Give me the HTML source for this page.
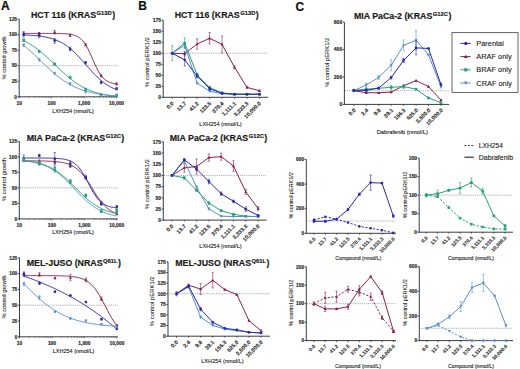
<!DOCTYPE html><html><head><meta charset="utf-8"><style>html,body{margin:0;padding:0;width:520px;height:369px;overflow:hidden;background:#fff}text{font-family:"Liberation Sans", sans-serif}</style></head><body><svg width="520" height="369" viewBox="0 0 520 369" style="position:absolute;left:0;top:0" font-family='"Liberation Sans", sans-serif'>
<rect width="520" height="369" fill="#ffffff"/>
<text x="1.00" y="9.60" font-size="12" text-anchor="start" font-weight="bold" fill="#111" stroke="#111" stroke-width="0.18" >A</text>
<text x="138.30" y="9.80" font-size="12" text-anchor="start" font-weight="bold" fill="#111" stroke="#111" stroke-width="0.18" >B</text>
<text x="295.50" y="10.70" font-size="12" text-anchor="start" font-weight="bold" fill="#111" stroke="#111" stroke-width="0.18" >C</text>
<text x="31.00" y="17.90" font-size="8.8" font-weight="bold" fill="#1a1a1a" stroke="#1a1a1a" stroke-width="0.18">HCT 116 (KRAS<tspan font-size="5.81" dx="0.5" dy="-3.17">G13D</tspan><tspan dx="0.5" dy="3.17">)</tspan></text>
<text x="0" y="0" font-size="5.8" text-anchor="middle" fill="#1a1a1a" stroke="#1a1a1a" stroke-width="0.08" transform="translate(3.90,58.00) rotate(-90)" dominant-baseline="central">% control growth</text>
<line x1="19.2" y1="97.2" x2="19.2" y2="19.1" stroke="#333333" stroke-width="0.95"/>
<line x1="17.599999999999998" y1="96.80" x2="19.2" y2="96.80" stroke="#333333" stroke-width="0.95"/>
<text x="17.00" y="98.53" font-size="4.8" text-anchor="end" font-weight="bold" fill="#2a2a2a" stroke="#2a2a2a" stroke-width="0.18">0</text>
<line x1="17.599999999999998" y1="81.26" x2="19.2" y2="81.26" stroke="#333333" stroke-width="0.95"/>
<text x="17.00" y="82.99" font-size="4.8" text-anchor="end" font-weight="bold" fill="#2a2a2a" stroke="#2a2a2a" stroke-width="0.18">25</text>
<line x1="17.599999999999998" y1="65.72" x2="19.2" y2="65.72" stroke="#333333" stroke-width="0.95"/>
<text x="17.00" y="67.45" font-size="4.8" text-anchor="end" font-weight="bold" fill="#2a2a2a" stroke="#2a2a2a" stroke-width="0.18">50</text>
<line x1="17.599999999999998" y1="50.18" x2="19.2" y2="50.18" stroke="#333333" stroke-width="0.95"/>
<text x="17.00" y="51.91" font-size="4.8" text-anchor="end" font-weight="bold" fill="#2a2a2a" stroke="#2a2a2a" stroke-width="0.18">75</text>
<line x1="17.599999999999998" y1="34.64" x2="19.2" y2="34.64" stroke="#333333" stroke-width="0.95"/>
<text x="17.00" y="36.37" font-size="4.8" text-anchor="end" font-weight="bold" fill="#2a2a2a" stroke="#2a2a2a" stroke-width="0.18">100</text>
<line x1="17.599999999999998" y1="19.10" x2="19.2" y2="19.10" stroke="#333333" stroke-width="0.95"/>
<text x="17.00" y="20.83" font-size="4.8" text-anchor="end" font-weight="bold" fill="#2a2a2a" stroke="#2a2a2a" stroke-width="0.18">125</text>
<line x1="18.8" y1="96.8" x2="117.6" y2="96.8" stroke="#333333" stroke-width="0.95"/>
<line x1="19.20" y1="96.8" x2="19.20" y2="98.39999999999999" stroke="#333333" stroke-width="0.6"/>
<line x1="28.97" y1="96.8" x2="28.97" y2="97.7" stroke="#333333" stroke-width="0.6"/>
<line x1="34.69" y1="96.8" x2="34.69" y2="97.7" stroke="#333333" stroke-width="0.6"/>
<line x1="38.75" y1="96.8" x2="38.75" y2="97.7" stroke="#333333" stroke-width="0.6"/>
<line x1="41.89" y1="96.8" x2="41.89" y2="97.7" stroke="#333333" stroke-width="0.6"/>
<line x1="44.46" y1="96.8" x2="44.46" y2="97.7" stroke="#333333" stroke-width="0.6"/>
<line x1="46.64" y1="96.8" x2="46.64" y2="97.7" stroke="#333333" stroke-width="0.6"/>
<line x1="48.52" y1="96.8" x2="48.52" y2="97.7" stroke="#333333" stroke-width="0.6"/>
<line x1="50.18" y1="96.8" x2="50.18" y2="97.7" stroke="#333333" stroke-width="0.6"/>
<line x1="51.67" y1="96.8" x2="51.67" y2="98.39999999999999" stroke="#333333" stroke-width="0.6"/>
<line x1="61.44" y1="96.8" x2="61.44" y2="97.7" stroke="#333333" stroke-width="0.6"/>
<line x1="67.16" y1="96.8" x2="67.16" y2="97.7" stroke="#333333" stroke-width="0.6"/>
<line x1="71.21" y1="96.8" x2="71.21" y2="97.7" stroke="#333333" stroke-width="0.6"/>
<line x1="74.36" y1="96.8" x2="74.36" y2="97.7" stroke="#333333" stroke-width="0.6"/>
<line x1="76.93" y1="96.8" x2="76.93" y2="97.7" stroke="#333333" stroke-width="0.6"/>
<line x1="79.10" y1="96.8" x2="79.10" y2="97.7" stroke="#333333" stroke-width="0.6"/>
<line x1="80.99" y1="96.8" x2="80.99" y2="97.7" stroke="#333333" stroke-width="0.6"/>
<line x1="82.65" y1="96.8" x2="82.65" y2="97.7" stroke="#333333" stroke-width="0.6"/>
<line x1="84.13" y1="96.8" x2="84.13" y2="98.39999999999999" stroke="#333333" stroke-width="0.6"/>
<line x1="93.91" y1="96.8" x2="93.91" y2="97.7" stroke="#333333" stroke-width="0.6"/>
<line x1="99.62" y1="96.8" x2="99.62" y2="97.7" stroke="#333333" stroke-width="0.6"/>
<line x1="103.68" y1="96.8" x2="103.68" y2="97.7" stroke="#333333" stroke-width="0.6"/>
<line x1="106.83" y1="96.8" x2="106.83" y2="97.7" stroke="#333333" stroke-width="0.6"/>
<line x1="109.40" y1="96.8" x2="109.40" y2="97.7" stroke="#333333" stroke-width="0.6"/>
<line x1="111.57" y1="96.8" x2="111.57" y2="97.7" stroke="#333333" stroke-width="0.6"/>
<line x1="113.45" y1="96.8" x2="113.45" y2="97.7" stroke="#333333" stroke-width="0.6"/>
<line x1="115.11" y1="96.8" x2="115.11" y2="97.7" stroke="#333333" stroke-width="0.6"/>
<line x1="116.60" y1="96.8" x2="116.60" y2="98.39999999999999" stroke="#333333" stroke-width="0.6"/>
<text x="19.20" y="104.90" font-size="4.9" text-anchor="middle" font-weight="bold" fill="#2a2a2a" stroke="#2a2a2a" stroke-width="0.18" >10</text>
<text x="51.67" y="104.90" font-size="4.9" text-anchor="middle" font-weight="bold" fill="#2a2a2a" stroke="#2a2a2a" stroke-width="0.18" >100</text>
<text x="84.13" y="104.90" font-size="4.9" text-anchor="middle" font-weight="bold" fill="#2a2a2a" stroke="#2a2a2a" stroke-width="0.18" >1,000</text>
<text x="116.60" y="104.90" font-size="4.9" text-anchor="middle" font-weight="bold" fill="#2a2a2a" stroke="#2a2a2a" stroke-width="0.18" >10,000</text>
<text x="73.00" y="112.50" font-size="5.5" text-anchor="middle" font-weight="normal" fill="#1a1a1a" stroke="#1a1a1a" stroke-width="0.12" >LXH254 (nmol/L)</text>
<line x1="19.7" y1="65.72" x2="117.6" y2="65.72" stroke="#8a8a8a" stroke-width="0.75" stroke-dasharray="1,0.9"/>
<polyline points="23.64,33.41 24.42,33.41 25.20,33.41 25.98,33.41 26.76,33.41 27.54,33.41 28.33,33.41 29.11,33.41 29.89,33.41 30.67,33.41 31.45,33.41 32.23,33.41 33.01,33.41 33.79,33.41 34.58,33.41 35.36,33.41 36.14,33.41 36.92,33.41 37.70,33.41 38.48,33.41 39.26,33.41 40.04,33.41 40.82,33.42 41.61,33.42 42.39,33.42 43.17,33.42 43.95,33.42 44.73,33.42 45.51,33.42 46.29,33.42 47.07,33.42 47.86,33.43 48.64,33.43 49.42,33.43 50.20,33.43 50.98,33.44 51.76,33.44 52.54,33.45 53.32,33.45 54.11,33.46 54.89,33.47 55.67,33.48 56.45,33.49 57.23,33.50 58.01,33.51 58.79,33.53 59.57,33.54 60.35,33.56 61.14,33.59 61.92,33.61 62.70,33.64 63.48,33.68 64.26,33.72 65.04,33.76 65.82,33.82 66.60,33.88 67.39,33.95 68.17,34.03 68.95,34.12 69.73,34.23 70.51,34.35 71.29,34.49 72.07,34.64 72.85,34.83 73.63,35.03 74.42,35.27 75.20,35.54 75.98,35.85 76.76,36.20 77.54,36.59 78.32,37.04 79.10,37.54 79.88,38.11 80.67,38.75 81.45,39.46 82.23,40.26 83.01,41.14 83.79,42.11 84.57,43.18 85.35,44.34 86.13,45.60 86.91,46.96 87.70,48.41 88.48,49.94 89.26,51.56 90.04,53.24 90.82,54.98 91.60,56.76 92.38,58.55 93.16,60.36 93.95,62.15 94.73,63.91 95.51,65.62 96.29,67.27 97.07,68.85 97.85,70.34 98.63,71.75 99.41,73.05 100.20,74.27 100.98,75.38 101.76,76.40 102.54,77.32 103.32,78.16 104.10,78.91 104.88,79.59 105.66,80.19 106.44,80.72 107.23,81.20 108.01,81.62 108.79,81.99 109.57,82.32 110.35,82.61 111.13,82.86 111.91,83.08 112.69,83.28 113.48,83.45 114.26,83.59 115.04,83.72 115.82,83.84 116.60,83.94" fill="none" stroke="#88224e" stroke-width="1.0" stroke-linejoin="round"/>
<line x1="23.64" y1="35.51" x2="23.64" y2="31.78" stroke="#88224e" stroke-width="0.6"/>
<line x1="22.54" y1="35.51" x2="24.74" y2="35.51" stroke="#88224e" stroke-width="0.6"/>
<line x1="22.54" y1="31.78" x2="24.74" y2="31.78" stroke="#88224e" stroke-width="0.6"/>
<path d="M23.64,32.09L25.20,34.82L22.08,34.82Z" fill="#88224e"/>
<line x1="39.16" y1="34.89" x2="39.16" y2="32.40" stroke="#88224e" stroke-width="0.6"/>
<line x1="38.06" y1="34.89" x2="40.26" y2="34.89" stroke="#88224e" stroke-width="0.6"/>
<line x1="38.06" y1="32.40" x2="40.26" y2="32.40" stroke="#88224e" stroke-width="0.6"/>
<path d="M39.16,32.09L40.72,34.82L37.60,34.82Z" fill="#88224e"/>
<line x1="54.64" y1="34.02" x2="54.64" y2="30.29" stroke="#88224e" stroke-width="0.6"/>
<line x1="53.54" y1="34.02" x2="55.74" y2="34.02" stroke="#88224e" stroke-width="0.6"/>
<line x1="53.54" y1="30.29" x2="55.74" y2="30.29" stroke="#88224e" stroke-width="0.6"/>
<path d="M54.64,30.59L56.20,33.32L53.08,33.32Z" fill="#88224e"/>
<line x1="70.13" y1="36.50" x2="70.13" y2="34.02" stroke="#88224e" stroke-width="0.6"/>
<line x1="69.03" y1="36.50" x2="71.23" y2="36.50" stroke="#88224e" stroke-width="0.6"/>
<line x1="69.03" y1="34.02" x2="71.23" y2="34.02" stroke="#88224e" stroke-width="0.6"/>
<path d="M70.13,33.70L71.69,36.43L68.57,36.43Z" fill="#88224e"/>
<line x1="85.62" y1="45.83" x2="85.62" y2="43.34" stroke="#88224e" stroke-width="0.6"/>
<line x1="84.52" y1="45.83" x2="86.72" y2="45.83" stroke="#88224e" stroke-width="0.6"/>
<line x1="84.52" y1="43.34" x2="86.72" y2="43.34" stroke="#88224e" stroke-width="0.6"/>
<path d="M85.62,43.03L87.18,45.76L84.06,45.76Z" fill="#88224e"/>
<line x1="101.11" y1="76.91" x2="101.11" y2="74.42" stroke="#88224e" stroke-width="0.6"/>
<line x1="100.01" y1="76.91" x2="102.21" y2="76.91" stroke="#88224e" stroke-width="0.6"/>
<line x1="100.01" y1="74.42" x2="102.21" y2="74.42" stroke="#88224e" stroke-width="0.6"/>
<path d="M101.11,74.11L102.67,76.84L99.55,76.84Z" fill="#88224e"/>
<line x1="116.60" y1="85.11" x2="116.60" y2="82.63" stroke="#88224e" stroke-width="0.6"/>
<line x1="115.50" y1="85.11" x2="117.70" y2="85.11" stroke="#88224e" stroke-width="0.6"/>
<line x1="115.50" y1="82.63" x2="117.70" y2="82.63" stroke="#88224e" stroke-width="0.6"/>
<path d="M116.60,82.31L118.16,85.04L115.04,85.04Z" fill="#88224e"/>
<polyline points="23.64,34.92 24.42,34.95 25.20,34.98 25.98,35.02 26.76,35.06 27.54,35.10 28.33,35.14 29.11,35.18 29.89,35.23 30.67,35.28 31.45,35.34 32.23,35.39 33.01,35.45 33.79,35.52 34.58,35.59 35.36,35.66 36.14,35.73 36.92,35.81 37.70,35.90 38.48,35.99 39.26,36.08 40.04,36.18 40.82,36.29 41.61,36.40 42.39,36.52 43.17,36.65 43.95,36.78 44.73,36.92 45.51,37.07 46.29,37.23 47.07,37.39 47.86,37.57 48.64,37.75 49.42,37.95 50.20,38.15 50.98,38.37 51.76,38.59 52.54,38.83 53.32,39.08 54.11,39.35 54.89,39.63 55.67,39.92 56.45,40.22 57.23,40.54 58.01,40.88 58.79,41.24 59.57,41.60 60.35,41.99 61.14,42.40 61.92,42.82 62.70,43.26 63.48,43.72 64.26,44.20 65.04,44.70 65.82,45.22 66.60,45.76 67.39,46.32 68.17,46.90 68.95,47.50 69.73,48.12 70.51,48.76 71.29,49.43 72.07,50.11 72.85,50.81 73.63,51.54 74.42,52.28 75.20,53.04 75.98,53.81 76.76,54.61 77.54,55.41 78.32,56.24 79.10,57.08 79.88,57.93 80.67,58.79 81.45,59.66 82.23,60.54 83.01,61.43 83.79,62.32 84.57,63.22 85.35,64.12 86.13,65.02 86.91,65.92 87.70,66.82 88.48,67.71 89.26,68.60 90.04,69.48 90.82,70.35 91.60,71.22 92.38,72.07 93.16,72.91 93.95,73.74 94.73,74.55 95.51,75.34 96.29,76.12 97.07,76.88 97.85,77.63 98.63,78.35 99.41,79.06 100.20,79.74 100.98,80.41 101.76,81.06 102.54,81.68 103.32,82.29 104.10,82.87 104.88,83.43 105.66,83.98 106.44,84.50 107.23,85.00 108.01,85.48 108.79,85.95 109.57,86.39 110.35,86.82 111.13,87.22 111.91,87.61 112.69,87.99 113.48,88.34 114.26,88.68 115.04,89.01 115.82,89.31 116.60,89.61" fill="none" stroke="#2828aa" stroke-width="1.0" stroke-linejoin="round"/>
<line x1="23.64" y1="37.13" x2="23.64" y2="32.15" stroke="#2828aa" stroke-width="0.6"/>
<line x1="22.54" y1="37.13" x2="24.74" y2="37.13" stroke="#2828aa" stroke-width="0.6"/>
<line x1="22.54" y1="32.15" x2="24.74" y2="32.15" stroke="#2828aa" stroke-width="0.6"/>
<circle cx="23.64" cy="34.64" r="1.3" fill="#2828aa"/>
<line x1="39.16" y1="37.75" x2="39.16" y2="32.78" stroke="#2828aa" stroke-width="0.6"/>
<line x1="38.06" y1="37.75" x2="40.26" y2="37.75" stroke="#2828aa" stroke-width="0.6"/>
<line x1="38.06" y1="32.78" x2="40.26" y2="32.78" stroke="#2828aa" stroke-width="0.6"/>
<circle cx="39.16" cy="35.26" r="1.3" fill="#2828aa"/>
<line x1="54.64" y1="43.34" x2="54.64" y2="38.37" stroke="#2828aa" stroke-width="0.6"/>
<line x1="53.54" y1="43.34" x2="55.74" y2="43.34" stroke="#2828aa" stroke-width="0.6"/>
<line x1="53.54" y1="38.37" x2="55.74" y2="38.37" stroke="#2828aa" stroke-width="0.6"/>
<circle cx="54.64" cy="40.86" r="1.3" fill="#2828aa"/>
<line x1="70.13" y1="50.80" x2="70.13" y2="47.07" stroke="#2828aa" stroke-width="0.6"/>
<line x1="69.03" y1="50.80" x2="71.23" y2="50.80" stroke="#2828aa" stroke-width="0.6"/>
<line x1="69.03" y1="47.07" x2="71.23" y2="47.07" stroke="#2828aa" stroke-width="0.6"/>
<circle cx="70.13" cy="48.94" r="1.3" fill="#2828aa"/>
<line x1="85.62" y1="63.86" x2="85.62" y2="61.37" stroke="#2828aa" stroke-width="0.6"/>
<line x1="84.52" y1="63.86" x2="86.72" y2="63.86" stroke="#2828aa" stroke-width="0.6"/>
<line x1="84.52" y1="61.37" x2="86.72" y2="61.37" stroke="#2828aa" stroke-width="0.6"/>
<circle cx="85.62" cy="62.61" r="1.3" fill="#2828aa"/>
<line x1="101.11" y1="83.75" x2="101.11" y2="81.26" stroke="#2828aa" stroke-width="0.6"/>
<line x1="100.01" y1="83.75" x2="102.21" y2="83.75" stroke="#2828aa" stroke-width="0.6"/>
<line x1="100.01" y1="81.26" x2="102.21" y2="81.26" stroke="#2828aa" stroke-width="0.6"/>
<circle cx="101.11" cy="82.50" r="1.3" fill="#2828aa"/>
<line x1="116.60" y1="89.96" x2="116.60" y2="87.48" stroke="#2828aa" stroke-width="0.6"/>
<line x1="115.50" y1="89.96" x2="117.70" y2="89.96" stroke="#2828aa" stroke-width="0.6"/>
<line x1="115.50" y1="87.48" x2="117.70" y2="87.48" stroke="#2828aa" stroke-width="0.6"/>
<circle cx="116.60" cy="88.72" r="1.3" fill="#2828aa"/>
<polyline points="23.64,40.68 24.42,41.06 25.20,41.45 25.98,41.85 26.76,42.26 27.54,42.69 28.33,43.12 29.11,43.57 29.89,44.04 30.67,44.51 31.45,45.00 32.23,45.50 33.01,46.02 33.79,46.54 34.58,47.08 35.36,47.64 36.14,48.20 36.92,48.78 37.70,49.37 38.48,49.97 39.26,50.59 40.04,51.21 40.82,51.85 41.61,52.49 42.39,53.15 43.17,53.82 43.95,54.50 44.73,55.18 45.51,55.88 46.29,56.58 47.07,57.29 47.86,58.01 48.64,58.74 49.42,59.47 50.20,60.20 50.98,60.94 51.76,61.68 52.54,62.43 53.32,63.18 54.11,63.93 54.89,64.68 55.67,65.43 56.45,66.18 57.23,66.93 58.01,67.68 58.79,68.42 59.57,69.16 60.35,69.90 61.14,70.63 61.92,71.36 62.70,72.07 63.48,72.79 64.26,73.49 65.04,74.19 65.82,74.88 66.60,75.56 67.39,76.23 68.17,76.88 68.95,77.53 69.73,78.17 70.51,78.80 71.29,79.41 72.07,80.02 72.85,80.61 73.63,81.19 74.42,81.76 75.20,82.31 75.98,82.85 76.76,83.38 77.54,83.90 78.32,84.40 79.10,84.89 79.88,85.37 80.67,85.84 81.45,86.29 82.23,86.73 83.01,87.15 83.79,87.57 84.57,87.97 85.35,88.36 86.13,88.74 86.91,89.11 87.70,89.46 88.48,89.81 89.26,90.14 90.04,90.46 90.82,90.77 91.60,91.07 92.38,91.36 93.16,91.64 93.95,91.91 94.73,92.18 95.51,92.43 96.29,92.67 97.07,92.90 97.85,93.13 98.63,93.35 99.41,93.56 100.20,93.76 100.98,93.95 101.76,94.14 102.54,94.32 103.32,94.49 104.10,94.66 104.88,94.82 105.66,94.97 106.44,95.12 107.23,95.26 108.01,95.40 108.79,95.53 109.57,95.65 110.35,95.77 111.13,95.89 111.91,96.00 112.69,96.11 113.48,96.21 114.26,96.31 115.04,96.40 115.82,96.49 116.60,96.58" fill="none" stroke="#25a07c" stroke-width="1.0" stroke-linejoin="round"/>
<line x1="23.64" y1="41.48" x2="23.64" y2="38.99" stroke="#25a07c" stroke-width="0.6"/>
<line x1="22.54" y1="41.48" x2="24.74" y2="41.48" stroke="#25a07c" stroke-width="0.6"/>
<line x1="22.54" y1="38.99" x2="24.74" y2="38.99" stroke="#25a07c" stroke-width="0.6"/>
<rect x="22.34" y="38.93" width="2.6" height="2.6" fill="#25a07c"/>
<line x1="39.16" y1="52.67" x2="39.16" y2="50.18" stroke="#25a07c" stroke-width="0.6"/>
<line x1="38.06" y1="52.67" x2="40.26" y2="52.67" stroke="#25a07c" stroke-width="0.6"/>
<line x1="38.06" y1="50.18" x2="40.26" y2="50.18" stroke="#25a07c" stroke-width="0.6"/>
<rect x="37.86" y="50.12" width="2.6" height="2.6" fill="#25a07c"/>
<line x1="54.64" y1="65.41" x2="54.64" y2="62.92" stroke="#25a07c" stroke-width="0.6"/>
<line x1="53.54" y1="65.41" x2="55.74" y2="65.41" stroke="#25a07c" stroke-width="0.6"/>
<line x1="53.54" y1="62.92" x2="55.74" y2="62.92" stroke="#25a07c" stroke-width="0.6"/>
<rect x="53.34" y="62.87" width="2.6" height="2.6" fill="#25a07c"/>
<line x1="70.13" y1="78.77" x2="70.13" y2="76.29" stroke="#25a07c" stroke-width="0.6"/>
<line x1="69.03" y1="78.77" x2="71.23" y2="78.77" stroke="#25a07c" stroke-width="0.6"/>
<line x1="69.03" y1="76.29" x2="71.23" y2="76.29" stroke="#25a07c" stroke-width="0.6"/>
<rect x="68.83" y="76.23" width="2.6" height="2.6" fill="#25a07c"/>
<line x1="85.62" y1="90.58" x2="85.62" y2="88.10" stroke="#25a07c" stroke-width="0.6"/>
<line x1="84.52" y1="90.58" x2="86.72" y2="90.58" stroke="#25a07c" stroke-width="0.6"/>
<line x1="84.52" y1="88.10" x2="86.72" y2="88.10" stroke="#25a07c" stroke-width="0.6"/>
<rect x="84.32" y="88.04" width="2.6" height="2.6" fill="#25a07c"/>
<line x1="101.11" y1="95.56" x2="101.11" y2="94.31" stroke="#25a07c" stroke-width="0.6"/>
<line x1="100.01" y1="95.56" x2="102.21" y2="95.56" stroke="#25a07c" stroke-width="0.6"/>
<line x1="100.01" y1="94.31" x2="102.21" y2="94.31" stroke="#25a07c" stroke-width="0.6"/>
<rect x="99.81" y="93.64" width="2.6" height="2.6" fill="#25a07c"/>
<line x1="116.60" y1="96.18" x2="116.60" y2="94.94" stroke="#25a07c" stroke-width="0.6"/>
<line x1="115.50" y1="96.18" x2="117.70" y2="96.18" stroke="#25a07c" stroke-width="0.6"/>
<line x1="115.50" y1="94.94" x2="117.70" y2="94.94" stroke="#25a07c" stroke-width="0.6"/>
<rect x="115.30" y="94.26" width="2.6" height="2.6" fill="#25a07c"/>
<polyline points="23.64,45.37 24.42,46.00 25.20,46.63 25.98,47.28 26.76,47.94 27.54,48.60 28.33,49.28 29.11,49.96 29.89,50.66 30.67,51.36 31.45,52.06 32.23,52.78 33.01,53.50 33.79,54.23 34.58,54.96 35.36,55.70 36.14,56.44 36.92,57.19 37.70,57.94 38.48,58.69 39.26,59.44 40.04,60.20 40.82,60.95 41.61,61.71 42.39,62.46 43.17,63.21 43.95,63.96 44.73,64.71 45.51,65.45 46.29,66.19 47.07,66.93 47.86,67.66 48.64,68.38 49.42,69.10 50.20,69.81 50.98,70.52 51.76,71.21 52.54,71.90 53.32,72.58 54.11,73.25 54.89,73.91 55.67,74.56 56.45,75.20 57.23,75.83 58.01,76.45 58.79,77.06 59.57,77.65 60.35,78.24 61.14,78.81 61.92,79.37 62.70,79.92 63.48,80.46 64.26,80.99 65.04,81.50 65.82,82.00 66.60,82.49 67.39,82.97 68.17,83.44 68.95,83.89 69.73,84.33 70.51,84.76 71.29,85.18 72.07,85.59 72.85,85.98 73.63,86.37 74.42,86.74 75.20,87.10 75.98,87.45 76.76,87.79 77.54,88.13 78.32,88.45 79.10,88.76 79.88,89.06 80.67,89.35 81.45,89.63 82.23,89.90 83.01,90.16 83.79,90.42 84.57,90.67 85.35,90.90 86.13,91.13 86.91,91.36 87.70,91.57 88.48,91.78 89.26,91.98 90.04,92.17 90.82,92.35 91.60,92.53 92.38,92.71 93.16,92.87 93.95,93.03 94.73,93.19 95.51,93.34 96.29,93.48 97.07,93.62 97.85,93.75 98.63,93.88 99.41,94.01 100.20,94.12 100.98,94.24 101.76,94.35 102.54,94.46 103.32,94.56 104.10,94.66 104.88,94.75 105.66,94.84 106.44,94.93 107.23,95.01 108.01,95.09 108.79,95.17 109.57,95.24 110.35,95.32 111.13,95.39 111.91,95.45 112.69,95.52 113.48,95.58 114.26,95.64 115.04,95.69 115.82,95.75 116.60,95.80" fill="none" stroke="#5690cc" stroke-width="1.0" stroke-linejoin="round"/>
<line x1="23.64" y1="46.45" x2="23.64" y2="43.96" stroke="#5690cc" stroke-width="0.6"/>
<line x1="22.54" y1="46.45" x2="24.74" y2="46.45" stroke="#5690cc" stroke-width="0.6"/>
<line x1="22.54" y1="43.96" x2="24.74" y2="43.96" stroke="#5690cc" stroke-width="0.6"/>
<path d="M23.64,46.77L25.20,44.04L22.08,44.04Z" fill="#5690cc"/>
<line x1="39.16" y1="61.06" x2="39.16" y2="58.57" stroke="#5690cc" stroke-width="0.6"/>
<line x1="38.06" y1="61.06" x2="40.26" y2="61.06" stroke="#5690cc" stroke-width="0.6"/>
<line x1="38.06" y1="58.57" x2="40.26" y2="58.57" stroke="#5690cc" stroke-width="0.6"/>
<path d="M39.16,61.37L40.72,58.64L37.60,58.64Z" fill="#5690cc"/>
<line x1="54.64" y1="74.67" x2="54.64" y2="72.18" stroke="#5690cc" stroke-width="0.6"/>
<line x1="53.54" y1="74.67" x2="55.74" y2="74.67" stroke="#5690cc" stroke-width="0.6"/>
<line x1="53.54" y1="72.18" x2="55.74" y2="72.18" stroke="#5690cc" stroke-width="0.6"/>
<path d="M54.64,74.99L56.20,72.26L53.08,72.26Z" fill="#5690cc"/>
<line x1="70.13" y1="85.11" x2="70.13" y2="82.63" stroke="#5690cc" stroke-width="0.6"/>
<line x1="69.03" y1="85.11" x2="71.23" y2="85.11" stroke="#5690cc" stroke-width="0.6"/>
<line x1="69.03" y1="82.63" x2="71.23" y2="82.63" stroke="#5690cc" stroke-width="0.6"/>
<path d="M70.13,85.43L71.69,82.70L68.57,82.70Z" fill="#5690cc"/>
<line x1="85.62" y1="93.07" x2="85.62" y2="90.58" stroke="#5690cc" stroke-width="0.6"/>
<line x1="84.52" y1="93.07" x2="86.72" y2="93.07" stroke="#5690cc" stroke-width="0.6"/>
<line x1="84.52" y1="90.58" x2="86.72" y2="90.58" stroke="#5690cc" stroke-width="0.6"/>
<path d="M85.62,93.39L87.18,90.66L84.06,90.66Z" fill="#5690cc"/>
<line x1="101.11" y1="95.56" x2="101.11" y2="94.31" stroke="#5690cc" stroke-width="0.6"/>
<line x1="100.01" y1="95.56" x2="102.21" y2="95.56" stroke="#5690cc" stroke-width="0.6"/>
<line x1="100.01" y1="94.31" x2="102.21" y2="94.31" stroke="#5690cc" stroke-width="0.6"/>
<path d="M101.11,96.50L102.67,93.77L99.55,93.77Z" fill="#5690cc"/>
<line x1="116.60" y1="95.56" x2="116.60" y2="94.31" stroke="#5690cc" stroke-width="0.6"/>
<line x1="115.50" y1="95.56" x2="117.70" y2="95.56" stroke="#5690cc" stroke-width="0.6"/>
<line x1="115.50" y1="94.31" x2="117.70" y2="94.31" stroke="#5690cc" stroke-width="0.6"/>
<path d="M116.60,96.50L118.16,93.77L115.04,93.77Z" fill="#5690cc"/>
<text x="26.80" y="141.30" font-size="8.8" font-weight="bold" fill="#1a1a1a" stroke="#1a1a1a" stroke-width="0.18">MIA PaCa-2 (KRAS<tspan font-size="5.81" dx="0.5" dy="-3.17">G12C</tspan><tspan dx="0.5" dy="3.17">)</tspan></text>
<text x="0" y="0" font-size="5.8" text-anchor="middle" fill="#1a1a1a" stroke="#1a1a1a" stroke-width="0.08" transform="translate(3.60,179.50) rotate(-90)" dominant-baseline="central">% control growth</text>
<line x1="19.3" y1="219.3" x2="19.3" y2="141.3" stroke="#333333" stroke-width="0.95"/>
<line x1="17.7" y1="218.90" x2="19.3" y2="218.90" stroke="#333333" stroke-width="0.95"/>
<text x="17.10" y="220.63" font-size="4.8" text-anchor="end" font-weight="bold" fill="#2a2a2a" stroke="#2a2a2a" stroke-width="0.18">0</text>
<line x1="17.7" y1="203.38" x2="19.3" y2="203.38" stroke="#333333" stroke-width="0.95"/>
<text x="17.10" y="205.11" font-size="4.8" text-anchor="end" font-weight="bold" fill="#2a2a2a" stroke="#2a2a2a" stroke-width="0.18">25</text>
<line x1="17.7" y1="187.86" x2="19.3" y2="187.86" stroke="#333333" stroke-width="0.95"/>
<text x="17.10" y="189.59" font-size="4.8" text-anchor="end" font-weight="bold" fill="#2a2a2a" stroke="#2a2a2a" stroke-width="0.18">50</text>
<line x1="17.7" y1="172.34" x2="19.3" y2="172.34" stroke="#333333" stroke-width="0.95"/>
<text x="17.10" y="174.07" font-size="4.8" text-anchor="end" font-weight="bold" fill="#2a2a2a" stroke="#2a2a2a" stroke-width="0.18">75</text>
<line x1="17.7" y1="156.82" x2="19.3" y2="156.82" stroke="#333333" stroke-width="0.95"/>
<text x="17.10" y="158.55" font-size="4.8" text-anchor="end" font-weight="bold" fill="#2a2a2a" stroke="#2a2a2a" stroke-width="0.18">100</text>
<line x1="17.7" y1="141.30" x2="19.3" y2="141.30" stroke="#333333" stroke-width="0.95"/>
<text x="17.10" y="143.03" font-size="4.8" text-anchor="end" font-weight="bold" fill="#2a2a2a" stroke="#2a2a2a" stroke-width="0.18">125</text>
<line x1="18.900000000000002" y1="218.9" x2="117.8" y2="218.9" stroke="#333333" stroke-width="0.95"/>
<line x1="19.30" y1="218.9" x2="19.30" y2="220.5" stroke="#333333" stroke-width="0.6"/>
<line x1="29.08" y1="218.9" x2="29.08" y2="219.8" stroke="#333333" stroke-width="0.6"/>
<line x1="34.81" y1="218.9" x2="34.81" y2="219.8" stroke="#333333" stroke-width="0.6"/>
<line x1="38.87" y1="218.9" x2="38.87" y2="219.8" stroke="#333333" stroke-width="0.6"/>
<line x1="42.02" y1="218.9" x2="42.02" y2="219.8" stroke="#333333" stroke-width="0.6"/>
<line x1="44.59" y1="218.9" x2="44.59" y2="219.8" stroke="#333333" stroke-width="0.6"/>
<line x1="46.77" y1="218.9" x2="46.77" y2="219.8" stroke="#333333" stroke-width="0.6"/>
<line x1="48.65" y1="218.9" x2="48.65" y2="219.8" stroke="#333333" stroke-width="0.6"/>
<line x1="50.31" y1="218.9" x2="50.31" y2="219.8" stroke="#333333" stroke-width="0.6"/>
<line x1="51.80" y1="218.9" x2="51.80" y2="220.5" stroke="#333333" stroke-width="0.6"/>
<line x1="61.58" y1="218.9" x2="61.58" y2="219.8" stroke="#333333" stroke-width="0.6"/>
<line x1="67.31" y1="218.9" x2="67.31" y2="219.8" stroke="#333333" stroke-width="0.6"/>
<line x1="71.37" y1="218.9" x2="71.37" y2="219.8" stroke="#333333" stroke-width="0.6"/>
<line x1="74.52" y1="218.9" x2="74.52" y2="219.8" stroke="#333333" stroke-width="0.6"/>
<line x1="77.09" y1="218.9" x2="77.09" y2="219.8" stroke="#333333" stroke-width="0.6"/>
<line x1="79.27" y1="218.9" x2="79.27" y2="219.8" stroke="#333333" stroke-width="0.6"/>
<line x1="81.15" y1="218.9" x2="81.15" y2="219.8" stroke="#333333" stroke-width="0.6"/>
<line x1="82.81" y1="218.9" x2="82.81" y2="219.8" stroke="#333333" stroke-width="0.6"/>
<line x1="84.30" y1="218.9" x2="84.30" y2="220.5" stroke="#333333" stroke-width="0.6"/>
<line x1="94.08" y1="218.9" x2="94.08" y2="219.8" stroke="#333333" stroke-width="0.6"/>
<line x1="99.81" y1="218.9" x2="99.81" y2="219.8" stroke="#333333" stroke-width="0.6"/>
<line x1="103.87" y1="218.9" x2="103.87" y2="219.8" stroke="#333333" stroke-width="0.6"/>
<line x1="107.02" y1="218.9" x2="107.02" y2="219.8" stroke="#333333" stroke-width="0.6"/>
<line x1="109.59" y1="218.9" x2="109.59" y2="219.8" stroke="#333333" stroke-width="0.6"/>
<line x1="111.77" y1="218.9" x2="111.77" y2="219.8" stroke="#333333" stroke-width="0.6"/>
<line x1="113.65" y1="218.9" x2="113.65" y2="219.8" stroke="#333333" stroke-width="0.6"/>
<line x1="115.31" y1="218.9" x2="115.31" y2="219.8" stroke="#333333" stroke-width="0.6"/>
<line x1="116.80" y1="218.9" x2="116.80" y2="220.5" stroke="#333333" stroke-width="0.6"/>
<text x="19.30" y="226.90" font-size="4.9" text-anchor="middle" font-weight="bold" fill="#2a2a2a" stroke="#2a2a2a" stroke-width="0.18" >10</text>
<text x="51.80" y="226.90" font-size="4.9" text-anchor="middle" font-weight="bold" fill="#2a2a2a" stroke="#2a2a2a" stroke-width="0.18" >100</text>
<text x="84.30" y="226.90" font-size="4.9" text-anchor="middle" font-weight="bold" fill="#2a2a2a" stroke="#2a2a2a" stroke-width="0.18" >1,000</text>
<text x="116.80" y="226.90" font-size="4.9" text-anchor="middle" font-weight="bold" fill="#2a2a2a" stroke="#2a2a2a" stroke-width="0.18" >10,000</text>
<text x="73.00" y="234.20" font-size="5.5" text-anchor="middle" font-weight="normal" fill="#1a1a1a" stroke="#1a1a1a" stroke-width="0.12" >LXH254 (nmol/L)</text>
<line x1="19.8" y1="187.86" x2="117.8" y2="187.86" stroke="#8a8a8a" stroke-width="0.75" stroke-dasharray="1,0.9"/>
<polyline points="23.74,160.86 24.53,160.86 25.31,160.86 26.09,160.86 26.87,160.86 27.65,160.87 28.44,160.87 29.22,160.87 30.00,160.88 30.78,160.88 31.56,160.89 32.35,160.89 33.13,160.90 33.91,160.90 34.69,160.91 35.47,160.91 36.26,160.92 37.04,160.93 37.82,160.94 38.60,160.95 39.38,160.96 40.17,160.97 40.95,160.98 41.73,161.00 42.51,161.01 43.29,161.03 44.08,161.05 44.86,161.07 45.64,161.09 46.42,161.11 47.20,161.14 47.99,161.17 48.77,161.20 49.55,161.23 50.33,161.27 51.11,161.31 51.89,161.35 52.68,161.40 53.46,161.45 54.24,161.51 55.02,161.57 55.80,161.64 56.59,161.72 57.37,161.80 58.15,161.89 58.93,161.99 59.71,162.09 60.50,162.21 61.28,162.33 62.06,162.47 62.84,162.62 63.62,162.78 64.41,162.96 65.19,163.15 65.97,163.36 66.75,163.59 67.53,163.83 68.32,164.10 69.10,164.39 69.88,164.70 70.66,165.04 71.44,165.40 72.23,165.79 73.01,166.21 73.79,166.67 74.57,167.16 75.35,167.68 76.14,168.24 76.92,168.84 77.70,169.48 78.48,170.16 79.26,170.88 80.05,171.64 80.83,172.45 81.61,173.30 82.39,174.20 83.17,175.14 83.96,176.12 84.74,177.14 85.52,178.20 86.30,179.30 87.08,180.43 87.87,181.59 88.65,182.78 89.43,184.00 90.21,185.23 90.99,186.48 91.78,187.74 92.56,189.00 93.34,190.26 94.12,191.52 94.90,192.77 95.69,194.00 96.47,195.21 97.25,196.39 98.03,197.55 98.81,198.67 99.60,199.77 100.38,200.82 101.16,201.83 101.94,202.80 102.72,203.73 103.51,204.62 104.29,205.46 105.07,206.26 105.85,207.02 106.63,207.73 107.42,208.40 108.20,209.03 108.98,209.62 109.76,210.18 110.54,210.69 111.33,211.17 112.11,211.62 112.89,212.04 113.67,212.42 114.45,212.78 115.24,213.11 116.02,213.42 116.80,213.70" fill="none" stroke="#88224e" stroke-width="1.0" stroke-linejoin="round"/>
<line x1="23.74" y1="161.17" x2="23.74" y2="158.68" stroke="#88224e" stroke-width="0.6"/>
<line x1="22.64" y1="161.17" x2="24.84" y2="161.17" stroke="#88224e" stroke-width="0.6"/>
<line x1="22.64" y1="158.68" x2="24.84" y2="158.68" stroke="#88224e" stroke-width="0.6"/>
<path d="M23.74,158.36L25.30,161.09L22.18,161.09Z" fill="#88224e"/>
<line x1="39.28" y1="162.41" x2="39.28" y2="159.92" stroke="#88224e" stroke-width="0.6"/>
<line x1="38.18" y1="162.41" x2="40.38" y2="162.41" stroke="#88224e" stroke-width="0.6"/>
<line x1="38.18" y1="159.92" x2="40.38" y2="159.92" stroke="#88224e" stroke-width="0.6"/>
<path d="M39.28,159.61L40.84,162.34L37.72,162.34Z" fill="#88224e"/>
<line x1="54.78" y1="163.65" x2="54.78" y2="159.92" stroke="#88224e" stroke-width="0.6"/>
<line x1="53.68" y1="163.65" x2="55.88" y2="163.65" stroke="#88224e" stroke-width="0.6"/>
<line x1="53.68" y1="159.92" x2="55.88" y2="159.92" stroke="#88224e" stroke-width="0.6"/>
<path d="M54.78,160.23L56.34,162.96L53.22,162.96Z" fill="#88224e"/>
<line x1="70.28" y1="167.62" x2="70.28" y2="163.90" stroke="#88224e" stroke-width="0.6"/>
<line x1="69.18" y1="167.62" x2="71.38" y2="167.62" stroke="#88224e" stroke-width="0.6"/>
<line x1="69.18" y1="163.90" x2="71.38" y2="163.90" stroke="#88224e" stroke-width="0.6"/>
<path d="M70.28,164.20L71.84,166.93L68.72,166.93Z" fill="#88224e"/>
<line x1="85.79" y1="179.17" x2="85.79" y2="176.69" stroke="#88224e" stroke-width="0.6"/>
<line x1="84.69" y1="179.17" x2="86.89" y2="179.17" stroke="#88224e" stroke-width="0.6"/>
<line x1="84.69" y1="176.69" x2="86.89" y2="176.69" stroke="#88224e" stroke-width="0.6"/>
<path d="M85.79,176.37L87.35,179.10L84.23,179.10Z" fill="#88224e"/>
<line x1="101.29" y1="203.69" x2="101.29" y2="201.21" stroke="#88224e" stroke-width="0.6"/>
<line x1="100.19" y1="203.69" x2="102.39" y2="203.69" stroke="#88224e" stroke-width="0.6"/>
<line x1="100.19" y1="201.21" x2="102.39" y2="201.21" stroke="#88224e" stroke-width="0.6"/>
<path d="M101.29,200.89L102.85,203.62L99.73,203.62Z" fill="#88224e"/>
<line x1="116.80" y1="214.74" x2="116.80" y2="212.26" stroke="#88224e" stroke-width="0.6"/>
<line x1="115.70" y1="214.74" x2="117.90" y2="214.74" stroke="#88224e" stroke-width="0.6"/>
<line x1="115.70" y1="212.26" x2="117.90" y2="212.26" stroke="#88224e" stroke-width="0.6"/>
<path d="M116.80,211.94L118.36,214.67L115.24,214.67Z" fill="#88224e"/>
<polyline points="23.74,157.97 24.53,157.97 25.31,157.97 26.09,157.97 26.87,157.97 27.65,157.97 28.44,157.97 29.22,157.98 30.00,157.98 30.78,157.98 31.56,157.98 32.35,157.98 33.13,157.98 33.91,157.98 34.69,157.98 35.47,157.99 36.26,157.99 37.04,157.99 37.82,157.99 38.60,157.99 39.38,158.00 40.17,158.00 40.95,158.01 41.73,158.01 42.51,158.02 43.29,158.02 44.08,158.03 44.86,158.04 45.64,158.04 46.42,158.05 47.20,158.06 47.99,158.08 48.77,158.09 49.55,158.10 50.33,158.12 51.11,158.14 51.89,158.16 52.68,158.19 53.46,158.21 54.24,158.25 55.02,158.28 55.80,158.32 56.59,158.36 57.37,158.41 58.15,158.47 58.93,158.53 59.71,158.60 60.50,158.68 61.28,158.77 62.06,158.87 62.84,158.98 63.62,159.10 64.41,159.24 65.19,159.40 65.97,159.58 66.75,159.77 67.53,159.99 68.32,160.24 69.10,160.51 69.88,160.81 70.66,161.15 71.44,161.52 72.23,161.94 73.01,162.39 73.79,162.90 74.57,163.46 75.35,164.07 76.14,164.74 76.92,165.47 77.70,166.26 78.48,167.12 79.26,168.05 80.05,169.04 80.83,170.11 81.61,171.24 82.39,172.44 83.17,173.70 83.96,175.02 84.74,176.40 85.52,177.81 86.30,179.27 87.08,180.75 87.87,182.25 88.65,183.76 89.43,185.26 90.21,186.75 90.99,188.21 91.78,189.64 92.56,191.03 93.34,192.37 94.12,193.65 94.90,194.88 95.69,196.03 96.47,197.12 97.25,198.14 98.03,199.09 98.81,199.98 99.60,200.79 100.38,201.54 101.16,202.23 101.94,202.86 102.72,203.44 103.51,203.96 104.29,204.43 105.07,204.86 105.85,205.25 106.63,205.60 107.42,205.91 108.20,206.20 108.98,206.45 109.76,206.68 110.54,206.88 111.33,207.06 112.11,207.23 112.89,207.37 113.67,207.50 114.45,207.62 115.24,207.72 116.02,207.81 116.80,207.90" fill="none" stroke="#2828aa" stroke-width="1.0" stroke-linejoin="round"/>
<line x1="23.74" y1="161.17" x2="23.74" y2="154.96" stroke="#2828aa" stroke-width="0.6"/>
<line x1="22.64" y1="161.17" x2="24.84" y2="161.17" stroke="#2828aa" stroke-width="0.6"/>
<line x1="22.64" y1="154.96" x2="24.84" y2="154.96" stroke="#2828aa" stroke-width="0.6"/>
<circle cx="23.74" cy="158.06" r="1.3" fill="#2828aa"/>
<line x1="39.28" y1="156.82" x2="39.28" y2="154.34" stroke="#2828aa" stroke-width="0.6"/>
<line x1="38.18" y1="156.82" x2="40.38" y2="156.82" stroke="#2828aa" stroke-width="0.6"/>
<line x1="38.18" y1="154.34" x2="40.38" y2="154.34" stroke="#2828aa" stroke-width="0.6"/>
<circle cx="39.28" cy="155.58" r="1.3" fill="#2828aa"/>
<line x1="54.78" y1="164.89" x2="54.78" y2="152.47" stroke="#2828aa" stroke-width="0.6"/>
<line x1="53.68" y1="164.89" x2="55.88" y2="164.89" stroke="#2828aa" stroke-width="0.6"/>
<line x1="53.68" y1="152.47" x2="55.88" y2="152.47" stroke="#2828aa" stroke-width="0.6"/>
<circle cx="54.78" cy="158.68" r="1.3" fill="#2828aa"/>
<line x1="70.28" y1="166.13" x2="70.28" y2="161.17" stroke="#2828aa" stroke-width="0.6"/>
<line x1="69.18" y1="166.13" x2="71.38" y2="166.13" stroke="#2828aa" stroke-width="0.6"/>
<line x1="69.18" y1="161.17" x2="71.38" y2="161.17" stroke="#2828aa" stroke-width="0.6"/>
<circle cx="70.28" cy="163.65" r="1.3" fill="#2828aa"/>
<line x1="85.79" y1="178.86" x2="85.79" y2="175.13" stroke="#2828aa" stroke-width="0.6"/>
<line x1="84.69" y1="178.86" x2="86.89" y2="178.86" stroke="#2828aa" stroke-width="0.6"/>
<line x1="84.69" y1="175.13" x2="86.89" y2="175.13" stroke="#2828aa" stroke-width="0.6"/>
<circle cx="85.79" cy="177.00" r="1.3" fill="#2828aa"/>
<line x1="101.29" y1="205.24" x2="101.29" y2="202.76" stroke="#2828aa" stroke-width="0.6"/>
<line x1="100.19" y1="205.24" x2="102.39" y2="205.24" stroke="#2828aa" stroke-width="0.6"/>
<line x1="100.19" y1="202.76" x2="102.39" y2="202.76" stroke="#2828aa" stroke-width="0.6"/>
<circle cx="101.29" cy="204.00" r="1.3" fill="#2828aa"/>
<line x1="116.80" y1="208.04" x2="116.80" y2="205.55" stroke="#2828aa" stroke-width="0.6"/>
<line x1="115.70" y1="208.04" x2="117.90" y2="208.04" stroke="#2828aa" stroke-width="0.6"/>
<line x1="115.70" y1="205.55" x2="117.90" y2="205.55" stroke="#2828aa" stroke-width="0.6"/>
<circle cx="116.80" cy="206.79" r="1.3" fill="#2828aa"/>
<polyline points="23.74,160.59 24.53,160.68 25.31,160.77 26.09,160.87 26.87,160.97 27.65,161.08 28.44,161.19 29.22,161.31 30.00,161.44 30.78,161.57 31.56,161.71 32.35,161.86 33.13,162.02 33.91,162.18 34.69,162.35 35.47,162.53 36.26,162.72 37.04,162.92 37.82,163.13 38.60,163.34 39.38,163.57 40.17,163.81 40.95,164.06 41.73,164.33 42.51,164.60 43.29,164.89 44.08,165.19 44.86,165.51 45.64,165.84 46.42,166.18 47.20,166.54 47.99,166.91 48.77,167.30 49.55,167.70 50.33,168.12 51.11,168.56 51.89,169.01 52.68,169.48 53.46,169.97 54.24,170.48 55.02,171.00 55.80,171.54 56.59,172.10 57.37,172.68 58.15,173.27 58.93,173.88 59.71,174.51 60.50,175.16 61.28,175.82 62.06,176.50 62.84,177.19 63.62,177.90 64.41,178.62 65.19,179.36 65.97,180.11 66.75,180.88 67.53,181.65 68.32,182.44 69.10,183.23 69.88,184.04 70.66,184.85 71.44,185.66 72.23,186.49 73.01,187.31 73.79,188.14 74.57,188.97 75.35,189.80 76.14,190.63 76.92,191.45 77.70,192.28 78.48,193.09 79.26,193.90 80.05,194.71 80.83,195.50 81.61,196.29 82.39,197.06 83.17,197.82 83.96,198.57 84.74,199.31 85.52,200.03 86.30,200.74 87.08,201.44 87.87,202.11 88.65,202.77 89.43,203.42 90.21,204.05 90.99,204.66 91.78,205.25 92.56,205.83 93.34,206.38 94.12,206.92 94.90,207.44 95.69,207.95 96.47,208.44 97.25,208.91 98.03,209.36 98.81,209.79 99.60,210.21 100.38,210.62 101.16,211.01 101.94,211.38 102.72,211.73 103.51,212.08 104.29,212.40 105.07,212.72 105.85,213.02 106.63,213.31 107.42,213.58 108.20,213.84 108.98,214.09 109.76,214.33 110.54,214.56 111.33,214.78 112.11,214.99 112.89,215.18 113.67,215.37 114.45,215.55 115.24,215.72 116.02,215.89 116.80,216.04" fill="none" stroke="#5690cc" stroke-width="1.0" stroke-linejoin="round"/>
<line x1="23.74" y1="161.17" x2="23.74" y2="157.44" stroke="#5690cc" stroke-width="0.6"/>
<line x1="22.64" y1="161.17" x2="24.84" y2="161.17" stroke="#5690cc" stroke-width="0.6"/>
<line x1="22.64" y1="157.44" x2="24.84" y2="157.44" stroke="#5690cc" stroke-width="0.6"/>
<path d="M23.74,160.86L25.30,158.13L22.18,158.13Z" fill="#5690cc"/>
<line x1="39.28" y1="164.89" x2="39.28" y2="161.17" stroke="#5690cc" stroke-width="0.6"/>
<line x1="38.18" y1="164.89" x2="40.38" y2="164.89" stroke="#5690cc" stroke-width="0.6"/>
<line x1="38.18" y1="161.17" x2="40.38" y2="161.17" stroke="#5690cc" stroke-width="0.6"/>
<path d="M39.28,164.59L40.84,161.86L37.72,161.86Z" fill="#5690cc"/>
<line x1="54.78" y1="169.86" x2="54.78" y2="166.13" stroke="#5690cc" stroke-width="0.6"/>
<line x1="53.68" y1="169.86" x2="55.88" y2="169.86" stroke="#5690cc" stroke-width="0.6"/>
<line x1="53.68" y1="166.13" x2="55.88" y2="166.13" stroke="#5690cc" stroke-width="0.6"/>
<path d="M54.78,169.55L56.34,166.82L53.22,166.82Z" fill="#5690cc"/>
<line x1="70.28" y1="183.51" x2="70.28" y2="179.79" stroke="#5690cc" stroke-width="0.6"/>
<line x1="69.18" y1="183.51" x2="71.38" y2="183.51" stroke="#5690cc" stroke-width="0.6"/>
<line x1="69.18" y1="179.79" x2="71.38" y2="179.79" stroke="#5690cc" stroke-width="0.6"/>
<path d="M70.28,183.21L71.84,180.48L68.72,180.48Z" fill="#5690cc"/>
<line x1="85.79" y1="197.17" x2="85.79" y2="194.69" stroke="#5690cc" stroke-width="0.6"/>
<line x1="84.69" y1="197.17" x2="86.89" y2="197.17" stroke="#5690cc" stroke-width="0.6"/>
<line x1="84.69" y1="194.69" x2="86.89" y2="194.69" stroke="#5690cc" stroke-width="0.6"/>
<path d="M85.79,197.49L87.35,194.76L84.23,194.76Z" fill="#5690cc"/>
<line x1="101.29" y1="212.07" x2="101.29" y2="209.59" stroke="#5690cc" stroke-width="0.6"/>
<line x1="100.19" y1="212.07" x2="102.39" y2="212.07" stroke="#5690cc" stroke-width="0.6"/>
<line x1="100.19" y1="209.59" x2="102.39" y2="209.59" stroke="#5690cc" stroke-width="0.6"/>
<path d="M101.29,212.39L102.85,209.66L99.73,209.66Z" fill="#5690cc"/>
<line x1="116.80" y1="212.07" x2="116.80" y2="209.59" stroke="#5690cc" stroke-width="0.6"/>
<line x1="115.70" y1="212.07" x2="117.90" y2="212.07" stroke="#5690cc" stroke-width="0.6"/>
<line x1="115.70" y1="209.59" x2="117.90" y2="209.59" stroke="#5690cc" stroke-width="0.6"/>
<path d="M116.80,212.39L118.36,209.66L115.24,209.66Z" fill="#5690cc"/>
<polyline points="23.74,160.72 24.53,160.80 25.31,160.89 26.09,160.97 26.87,161.07 27.65,161.16 28.44,161.26 29.22,161.37 30.00,161.49 30.78,161.61 31.56,161.73 32.35,161.86 33.13,162.00 33.91,162.15 34.69,162.30 35.47,162.46 36.26,162.63 37.04,162.81 37.82,163.00 38.60,163.19 39.38,163.40 40.17,163.61 40.95,163.84 41.73,164.08 42.51,164.33 43.29,164.59 44.08,164.86 44.86,165.14 45.64,165.44 46.42,165.75 47.20,166.07 47.99,166.41 48.77,166.76 49.55,167.13 50.33,167.51 51.11,167.91 51.89,168.32 52.68,168.75 53.46,169.19 54.24,169.65 55.02,170.13 55.80,170.63 56.59,171.14 57.37,171.67 58.15,172.21 58.93,172.77 59.71,173.35 60.50,173.95 61.28,174.56 62.06,175.19 62.84,175.83 63.62,176.49 64.41,177.16 65.19,177.85 65.97,178.55 66.75,179.26 67.53,179.99 68.32,180.72 69.10,181.47 69.88,182.23 70.66,182.99 71.44,183.76 72.23,184.54 73.01,185.32 73.79,186.11 74.57,186.90 75.35,187.69 76.14,188.48 76.92,189.27 77.70,190.06 78.48,190.84 79.26,191.62 80.05,192.40 80.83,193.16 81.61,193.92 82.39,194.67 83.17,195.41 83.96,196.14 84.74,196.86 85.52,197.57 86.30,198.26 87.08,198.94 87.87,199.61 88.65,200.26 89.43,200.89 90.21,201.51 90.99,202.11 91.78,202.70 92.56,203.27 93.34,203.82 94.12,204.35 94.90,204.87 95.69,205.37 96.47,205.86 97.25,206.33 98.03,206.78 98.81,207.22 99.60,207.64 100.38,208.04 101.16,208.43 101.94,208.80 102.72,209.16 103.51,209.50 104.29,209.83 105.07,210.15 105.85,210.45 106.63,210.74 107.42,211.02 108.20,211.28 108.98,211.54 109.76,211.78 110.54,212.01 111.33,212.23 112.11,212.44 112.89,212.64 113.67,212.83 114.45,213.01 115.24,213.18 116.02,213.35 116.80,213.51" fill="none" stroke="#25a07c" stroke-width="1.0" stroke-linejoin="round"/>
<line x1="23.74" y1="161.48" x2="23.74" y2="157.75" stroke="#25a07c" stroke-width="0.6"/>
<line x1="22.64" y1="161.48" x2="24.84" y2="161.48" stroke="#25a07c" stroke-width="0.6"/>
<line x1="22.64" y1="157.75" x2="24.84" y2="157.75" stroke="#25a07c" stroke-width="0.6"/>
<rect x="22.44" y="158.31" width="2.6" height="2.6" fill="#25a07c"/>
<line x1="39.28" y1="165.20" x2="39.28" y2="161.48" stroke="#25a07c" stroke-width="0.6"/>
<line x1="38.18" y1="165.20" x2="40.38" y2="165.20" stroke="#25a07c" stroke-width="0.6"/>
<line x1="38.18" y1="161.48" x2="40.38" y2="161.48" stroke="#25a07c" stroke-width="0.6"/>
<rect x="37.98" y="162.04" width="2.6" height="2.6" fill="#25a07c"/>
<line x1="54.78" y1="172.34" x2="54.78" y2="167.37" stroke="#25a07c" stroke-width="0.6"/>
<line x1="53.68" y1="172.34" x2="55.88" y2="172.34" stroke="#25a07c" stroke-width="0.6"/>
<line x1="53.68" y1="167.37" x2="55.88" y2="167.37" stroke="#25a07c" stroke-width="0.6"/>
<rect x="53.48" y="168.56" width="2.6" height="2.6" fill="#25a07c"/>
<line x1="70.28" y1="183.51" x2="70.28" y2="179.79" stroke="#25a07c" stroke-width="0.6"/>
<line x1="69.18" y1="183.51" x2="71.38" y2="183.51" stroke="#25a07c" stroke-width="0.6"/>
<line x1="69.18" y1="179.79" x2="71.38" y2="179.79" stroke="#25a07c" stroke-width="0.6"/>
<rect x="68.98" y="180.35" width="2.6" height="2.6" fill="#25a07c"/>
<line x1="85.79" y1="196.55" x2="85.79" y2="194.07" stroke="#25a07c" stroke-width="0.6"/>
<line x1="84.69" y1="196.55" x2="86.89" y2="196.55" stroke="#25a07c" stroke-width="0.6"/>
<line x1="84.69" y1="194.07" x2="86.89" y2="194.07" stroke="#25a07c" stroke-width="0.6"/>
<rect x="84.49" y="194.01" width="2.6" height="2.6" fill="#25a07c"/>
<line x1="101.29" y1="212.69" x2="101.29" y2="210.21" stroke="#25a07c" stroke-width="0.6"/>
<line x1="100.19" y1="212.69" x2="102.39" y2="212.69" stroke="#25a07c" stroke-width="0.6"/>
<line x1="100.19" y1="210.21" x2="102.39" y2="210.21" stroke="#25a07c" stroke-width="0.6"/>
<rect x="99.99" y="210.15" width="2.6" height="2.6" fill="#25a07c"/>
<line x1="116.80" y1="211.76" x2="116.80" y2="209.28" stroke="#25a07c" stroke-width="0.6"/>
<line x1="115.70" y1="211.76" x2="117.90" y2="211.76" stroke="#25a07c" stroke-width="0.6"/>
<line x1="115.70" y1="209.28" x2="117.90" y2="209.28" stroke="#25a07c" stroke-width="0.6"/>
<rect x="115.50" y="209.22" width="2.6" height="2.6" fill="#25a07c"/>
<text x="26.80" y="266.20" font-size="8.8" font-weight="bold" fill="#1a1a1a" stroke="#1a1a1a" stroke-width="0.18">MEL-JUSO (NRAS<tspan font-size="5.81" dx="0.5" dy="-3.17">Q61L</tspan><tspan dx="0.5" dy="3.17">)</tspan></text>
<text x="0" y="0" font-size="5.8" text-anchor="middle" fill="#1a1a1a" stroke="#1a1a1a" stroke-width="0.08" transform="translate(3.60,297.00) rotate(-90)" dominant-baseline="central">% control growth</text>
<line x1="19.5" y1="337.2" x2="19.5" y2="257.8" stroke="#333333" stroke-width="0.95"/>
<line x1="17.9" y1="336.80" x2="19.5" y2="336.80" stroke="#333333" stroke-width="0.95"/>
<text x="17.30" y="338.53" font-size="4.8" text-anchor="end" font-weight="bold" fill="#2a2a2a" stroke="#2a2a2a" stroke-width="0.18">0</text>
<line x1="17.9" y1="321.00" x2="19.5" y2="321.00" stroke="#333333" stroke-width="0.95"/>
<text x="17.30" y="322.73" font-size="4.8" text-anchor="end" font-weight="bold" fill="#2a2a2a" stroke="#2a2a2a" stroke-width="0.18">25</text>
<line x1="17.9" y1="305.20" x2="19.5" y2="305.20" stroke="#333333" stroke-width="0.95"/>
<text x="17.30" y="306.93" font-size="4.8" text-anchor="end" font-weight="bold" fill="#2a2a2a" stroke="#2a2a2a" stroke-width="0.18">50</text>
<line x1="17.9" y1="289.40" x2="19.5" y2="289.40" stroke="#333333" stroke-width="0.95"/>
<text x="17.30" y="291.13" font-size="4.8" text-anchor="end" font-weight="bold" fill="#2a2a2a" stroke="#2a2a2a" stroke-width="0.18">75</text>
<line x1="17.9" y1="273.60" x2="19.5" y2="273.60" stroke="#333333" stroke-width="0.95"/>
<text x="17.30" y="275.33" font-size="4.8" text-anchor="end" font-weight="bold" fill="#2a2a2a" stroke="#2a2a2a" stroke-width="0.18">100</text>
<line x1="17.9" y1="257.80" x2="19.5" y2="257.80" stroke="#333333" stroke-width="0.95"/>
<text x="17.30" y="259.53" font-size="4.8" text-anchor="end" font-weight="bold" fill="#2a2a2a" stroke="#2a2a2a" stroke-width="0.18">125</text>
<line x1="19.1" y1="336.8" x2="117.9" y2="336.8" stroke="#333333" stroke-width="0.95"/>
<line x1="19.50" y1="336.8" x2="19.50" y2="338.40000000000003" stroke="#333333" stroke-width="0.6"/>
<line x1="29.27" y1="336.8" x2="29.27" y2="337.7" stroke="#333333" stroke-width="0.6"/>
<line x1="34.99" y1="336.8" x2="34.99" y2="337.7" stroke="#333333" stroke-width="0.6"/>
<line x1="39.05" y1="336.8" x2="39.05" y2="337.7" stroke="#333333" stroke-width="0.6"/>
<line x1="42.19" y1="336.8" x2="42.19" y2="337.7" stroke="#333333" stroke-width="0.6"/>
<line x1="44.76" y1="336.8" x2="44.76" y2="337.7" stroke="#333333" stroke-width="0.6"/>
<line x1="46.94" y1="336.8" x2="46.94" y2="337.7" stroke="#333333" stroke-width="0.6"/>
<line x1="48.82" y1="336.8" x2="48.82" y2="337.7" stroke="#333333" stroke-width="0.6"/>
<line x1="50.48" y1="336.8" x2="50.48" y2="337.7" stroke="#333333" stroke-width="0.6"/>
<line x1="51.97" y1="336.8" x2="51.97" y2="338.40000000000003" stroke="#333333" stroke-width="0.6"/>
<line x1="61.74" y1="336.8" x2="61.74" y2="337.7" stroke="#333333" stroke-width="0.6"/>
<line x1="67.46" y1="336.8" x2="67.46" y2="337.7" stroke="#333333" stroke-width="0.6"/>
<line x1="71.51" y1="336.8" x2="71.51" y2="337.7" stroke="#333333" stroke-width="0.6"/>
<line x1="74.66" y1="336.8" x2="74.66" y2="337.7" stroke="#333333" stroke-width="0.6"/>
<line x1="77.23" y1="336.8" x2="77.23" y2="337.7" stroke="#333333" stroke-width="0.6"/>
<line x1="79.40" y1="336.8" x2="79.40" y2="337.7" stroke="#333333" stroke-width="0.6"/>
<line x1="81.29" y1="336.8" x2="81.29" y2="337.7" stroke="#333333" stroke-width="0.6"/>
<line x1="82.95" y1="336.8" x2="82.95" y2="337.7" stroke="#333333" stroke-width="0.6"/>
<line x1="84.43" y1="336.8" x2="84.43" y2="338.40000000000003" stroke="#333333" stroke-width="0.6"/>
<line x1="94.21" y1="336.8" x2="94.21" y2="337.7" stroke="#333333" stroke-width="0.6"/>
<line x1="99.92" y1="336.8" x2="99.92" y2="337.7" stroke="#333333" stroke-width="0.6"/>
<line x1="103.98" y1="336.8" x2="103.98" y2="337.7" stroke="#333333" stroke-width="0.6"/>
<line x1="107.13" y1="336.8" x2="107.13" y2="337.7" stroke="#333333" stroke-width="0.6"/>
<line x1="109.70" y1="336.8" x2="109.70" y2="337.7" stroke="#333333" stroke-width="0.6"/>
<line x1="111.87" y1="336.8" x2="111.87" y2="337.7" stroke="#333333" stroke-width="0.6"/>
<line x1="113.75" y1="336.8" x2="113.75" y2="337.7" stroke="#333333" stroke-width="0.6"/>
<line x1="115.41" y1="336.8" x2="115.41" y2="337.7" stroke="#333333" stroke-width="0.6"/>
<line x1="116.90" y1="336.8" x2="116.90" y2="338.40000000000003" stroke="#333333" stroke-width="0.6"/>
<text x="19.50" y="344.60" font-size="4.9" text-anchor="middle" font-weight="bold" fill="#2a2a2a" stroke="#2a2a2a" stroke-width="0.18" >10</text>
<text x="51.97" y="344.60" font-size="4.9" text-anchor="middle" font-weight="bold" fill="#2a2a2a" stroke="#2a2a2a" stroke-width="0.18" >100</text>
<text x="84.43" y="344.60" font-size="4.9" text-anchor="middle" font-weight="bold" fill="#2a2a2a" stroke="#2a2a2a" stroke-width="0.18" >1,000</text>
<text x="116.90" y="344.60" font-size="4.9" text-anchor="middle" font-weight="bold" fill="#2a2a2a" stroke="#2a2a2a" stroke-width="0.18" >10,000</text>
<text x="73.60" y="352.50" font-size="5.5" text-anchor="middle" font-weight="normal" fill="#1a1a1a" stroke="#1a1a1a" stroke-width="0.12" >LXH254 (nmol/L)</text>
<line x1="20.0" y1="305.20" x2="117.9" y2="305.20" stroke="#8a8a8a" stroke-width="0.75" stroke-dasharray="1,0.9"/>
<polyline points="23.94,275.62 24.72,275.62 25.50,275.62 26.28,275.62 27.06,275.62 27.84,275.62 28.63,275.62 29.41,275.62 30.19,275.62 30.97,275.62 31.75,275.63 32.53,275.63 33.31,275.63 34.09,275.63 34.88,275.63 35.66,275.63 36.44,275.63 37.22,275.63 38.00,275.63 38.78,275.63 39.56,275.64 40.34,275.64 41.12,275.64 41.91,275.64 42.69,275.64 43.47,275.64 44.25,275.65 45.03,275.65 45.81,275.65 46.59,275.66 47.37,275.66 48.16,275.67 48.94,275.67 49.72,275.68 50.50,275.68 51.28,275.69 52.06,275.69 52.84,275.70 53.62,275.71 54.41,275.72 55.19,275.73 55.97,275.74 56.75,275.75 57.53,275.77 58.31,275.78 59.09,275.80 59.87,275.82 60.65,275.84 61.44,275.86 62.22,275.89 63.00,275.91 63.78,275.94 64.56,275.98 65.34,276.01 66.12,276.05 66.90,276.10 67.69,276.15 68.47,276.20 69.25,276.26 70.03,276.33 70.81,276.40 71.59,276.48 72.37,276.57 73.15,276.66 73.93,276.77 74.72,276.88 75.50,277.01 76.28,277.15 77.06,277.31 77.84,277.47 78.62,277.66 79.40,277.86 80.18,278.08 80.97,278.33 81.75,278.59 82.53,278.88 83.31,279.20 84.09,279.55 84.87,279.93 85.65,280.34 86.43,280.78 87.21,281.27 88.00,281.79 88.78,282.36 89.56,282.97 90.34,283.63 91.12,284.34 91.90,285.11 92.68,285.92 93.46,286.79 94.25,287.72 95.03,288.70 95.81,289.74 96.59,290.84 97.37,292.00 98.15,293.20 98.93,294.47 99.71,295.77 100.50,297.13 101.28,298.53 102.06,299.96 102.84,301.42 103.62,302.90 104.40,304.40 105.18,305.91 105.96,307.43 106.74,308.94 107.53,310.43 108.31,311.91 109.09,313.36 109.87,314.78 110.65,316.17 111.43,317.51 112.21,318.80 112.99,320.05 113.78,321.24 114.56,322.37 115.34,323.45 116.12,324.48 116.90,325.44" fill="none" stroke="#88224e" stroke-width="1.0" stroke-linejoin="round"/>
<line x1="23.94" y1="275.69" x2="23.94" y2="271.89" stroke="#88224e" stroke-width="0.6"/>
<line x1="22.84" y1="275.69" x2="25.04" y2="275.69" stroke="#88224e" stroke-width="0.6"/>
<line x1="22.84" y1="271.89" x2="25.04" y2="271.89" stroke="#88224e" stroke-width="0.6"/>
<path d="M23.94,272.23L25.50,274.96L22.38,274.96Z" fill="#88224e"/>
<line x1="39.46" y1="276.38" x2="39.46" y2="272.59" stroke="#88224e" stroke-width="0.6"/>
<line x1="38.36" y1="276.38" x2="40.56" y2="276.38" stroke="#88224e" stroke-width="0.6"/>
<line x1="38.36" y1="272.59" x2="40.56" y2="272.59" stroke="#88224e" stroke-width="0.6"/>
<path d="M39.46,272.92L41.02,275.65L37.90,275.65Z" fill="#88224e"/>
<line x1="54.94" y1="278.66" x2="54.94" y2="277.39" stroke="#88224e" stroke-width="0.6"/>
<line x1="53.84" y1="278.66" x2="56.04" y2="278.66" stroke="#88224e" stroke-width="0.6"/>
<line x1="53.84" y1="277.39" x2="56.04" y2="277.39" stroke="#88224e" stroke-width="0.6"/>
<path d="M54.94,276.46L56.50,279.19L53.38,279.19Z" fill="#88224e"/>
<line x1="70.43" y1="280.68" x2="70.43" y2="274.36" stroke="#88224e" stroke-width="0.6"/>
<line x1="69.33" y1="280.68" x2="71.53" y2="280.68" stroke="#88224e" stroke-width="0.6"/>
<line x1="69.33" y1="274.36" x2="71.53" y2="274.36" stroke="#88224e" stroke-width="0.6"/>
<path d="M70.43,275.96L71.99,278.69L68.87,278.69Z" fill="#88224e"/>
<line x1="85.92" y1="281.82" x2="85.92" y2="278.02" stroke="#88224e" stroke-width="0.6"/>
<line x1="84.82" y1="281.82" x2="87.02" y2="281.82" stroke="#88224e" stroke-width="0.6"/>
<line x1="84.82" y1="278.02" x2="87.02" y2="278.02" stroke="#88224e" stroke-width="0.6"/>
<path d="M85.92,278.36L87.48,281.09L84.36,281.09Z" fill="#88224e"/>
<line x1="101.41" y1="300.78" x2="101.41" y2="296.98" stroke="#88224e" stroke-width="0.6"/>
<line x1="100.31" y1="300.78" x2="102.51" y2="300.78" stroke="#88224e" stroke-width="0.6"/>
<line x1="100.31" y1="296.98" x2="102.51" y2="296.98" stroke="#88224e" stroke-width="0.6"/>
<path d="M101.41,297.32L102.97,300.05L99.85,300.05Z" fill="#88224e"/>
<line x1="116.90" y1="326.06" x2="116.90" y2="324.79" stroke="#88224e" stroke-width="0.6"/>
<line x1="115.80" y1="326.06" x2="118.00" y2="326.06" stroke="#88224e" stroke-width="0.6"/>
<line x1="115.80" y1="324.79" x2="118.00" y2="324.79" stroke="#88224e" stroke-width="0.6"/>
<path d="M116.90,323.86L118.46,326.59L115.34,326.59Z" fill="#88224e"/>
<polyline points="23.94,276.19 24.72,276.46 25.50,276.73 26.28,277.01 27.06,277.28 27.84,277.56 28.63,277.84 29.41,278.12 30.19,278.41 30.97,278.70 31.75,278.98 32.53,279.28 33.31,279.57 34.09,279.87 34.88,280.16 35.66,280.47 36.44,280.77 37.22,281.07 38.00,281.38 38.78,281.69 39.56,282.01 40.34,282.32 41.12,282.64 41.91,282.96 42.69,283.28 43.47,283.61 44.25,283.94 45.03,284.27 45.81,284.60 46.59,284.94 47.37,285.28 48.16,285.62 48.94,285.96 49.72,286.31 50.50,286.66 51.28,287.01 52.06,287.37 52.84,287.73 53.62,288.09 54.41,288.45 55.19,288.82 55.97,289.19 56.75,289.56 57.53,289.94 58.31,290.31 59.09,290.70 59.87,291.08 60.65,291.47 61.44,291.86 62.22,292.25 63.00,292.65 63.78,293.05 64.56,293.46 65.34,293.86 66.12,294.27 66.90,294.69 67.69,295.10 68.47,295.52 69.25,295.94 70.03,296.37 70.81,296.80 71.59,297.23 72.37,297.67 73.15,298.11 73.93,298.56 74.72,299.00 75.50,299.45 76.28,299.91 77.06,300.37 77.84,300.83 78.62,301.29 79.40,301.76 80.18,302.24 80.97,302.71 81.75,303.19 82.53,303.68 83.31,304.17 84.09,304.66 84.87,305.15 85.65,305.65 86.43,306.16 87.21,306.67 88.00,307.18 88.78,307.69 89.56,308.21 90.34,308.74 91.12,309.27 91.90,309.80 92.68,310.34 93.46,310.88 94.25,311.42 95.03,311.97 95.81,312.53 96.59,313.09 97.37,313.65 98.15,314.22 98.93,314.79 99.71,315.37 100.50,315.95 101.28,316.53 102.06,317.12 102.84,317.72 103.62,318.32 104.40,318.92 105.18,319.53 105.96,320.15 106.74,320.77 107.53,321.39 108.31,322.02 109.09,322.65 109.87,323.29 110.65,323.94 111.43,324.59 112.21,325.24 112.99,325.90 113.78,326.57 114.56,327.24 115.34,327.91 116.12,328.59 116.90,329.28" fill="none" stroke="#2828aa" stroke-width="1.0" stroke-linejoin="round"/>
<line x1="23.94" y1="276.38" x2="23.94" y2="272.59" stroke="#2828aa" stroke-width="0.6"/>
<line x1="22.84" y1="276.38" x2="25.04" y2="276.38" stroke="#2828aa" stroke-width="0.6"/>
<line x1="22.84" y1="272.59" x2="25.04" y2="272.59" stroke="#2828aa" stroke-width="0.6"/>
<circle cx="23.94" cy="274.48" r="1.3" fill="#2828aa"/>
<line x1="39.46" y1="284.47" x2="39.46" y2="281.94" stroke="#2828aa" stroke-width="0.6"/>
<line x1="38.36" y1="284.47" x2="40.56" y2="284.47" stroke="#2828aa" stroke-width="0.6"/>
<line x1="38.36" y1="281.94" x2="40.56" y2="281.94" stroke="#2828aa" stroke-width="0.6"/>
<circle cx="39.46" cy="283.21" r="1.3" fill="#2828aa"/>
<line x1="54.94" y1="292.37" x2="54.94" y2="291.11" stroke="#2828aa" stroke-width="0.6"/>
<line x1="53.84" y1="292.37" x2="56.04" y2="292.37" stroke="#2828aa" stroke-width="0.6"/>
<line x1="53.84" y1="291.11" x2="56.04" y2="291.11" stroke="#2828aa" stroke-width="0.6"/>
<circle cx="54.94" cy="291.74" r="1.3" fill="#2828aa"/>
<line x1="70.43" y1="296.10" x2="70.43" y2="294.84" stroke="#2828aa" stroke-width="0.6"/>
<line x1="69.33" y1="296.10" x2="71.53" y2="296.10" stroke="#2828aa" stroke-width="0.6"/>
<line x1="69.33" y1="294.84" x2="71.53" y2="294.84" stroke="#2828aa" stroke-width="0.6"/>
<circle cx="70.43" cy="295.47" r="1.3" fill="#2828aa"/>
<line x1="85.92" y1="302.67" x2="85.92" y2="301.41" stroke="#2828aa" stroke-width="0.6"/>
<line x1="84.82" y1="302.67" x2="87.02" y2="302.67" stroke="#2828aa" stroke-width="0.6"/>
<line x1="84.82" y1="301.41" x2="87.02" y2="301.41" stroke="#2828aa" stroke-width="0.6"/>
<circle cx="85.92" cy="302.04" r="1.3" fill="#2828aa"/>
<line x1="101.41" y1="319.99" x2="101.41" y2="318.72" stroke="#2828aa" stroke-width="0.6"/>
<line x1="100.31" y1="319.99" x2="102.51" y2="319.99" stroke="#2828aa" stroke-width="0.6"/>
<line x1="100.31" y1="318.72" x2="102.51" y2="318.72" stroke="#2828aa" stroke-width="0.6"/>
<circle cx="101.41" cy="319.36" r="1.3" fill="#2828aa"/>
<line x1="116.90" y1="329.53" x2="116.90" y2="328.27" stroke="#2828aa" stroke-width="0.6"/>
<line x1="115.80" y1="329.53" x2="118.00" y2="329.53" stroke="#2828aa" stroke-width="0.6"/>
<line x1="115.80" y1="328.27" x2="118.00" y2="328.27" stroke="#2828aa" stroke-width="0.6"/>
<circle cx="116.90" cy="328.90" r="1.3" fill="#2828aa"/>
<polyline points="23.94,283.76 24.72,284.55 25.50,285.34 26.28,286.12 27.06,286.91 27.84,287.69 28.63,288.47 29.41,289.25 30.19,290.02 30.97,290.79 31.75,291.55 32.53,292.31 33.31,293.06 34.09,293.81 34.88,294.55 35.66,295.28 36.44,296.00 37.22,296.72 38.00,297.43 38.78,298.13 39.56,298.82 40.34,299.51 41.12,300.18 41.91,300.85 42.69,301.51 43.47,302.15 44.25,302.79 45.03,303.42 45.81,304.03 46.59,304.64 47.37,305.23 48.16,305.82 48.94,306.39 49.72,306.96 50.50,307.51 51.28,308.05 52.06,308.59 52.84,309.11 53.62,309.62 54.41,310.12 55.19,310.61 55.97,311.08 56.75,311.55 57.53,312.01 58.31,312.46 59.09,312.89 59.87,313.32 60.65,313.73 61.44,314.14 62.22,314.54 63.00,314.92 63.78,315.30 64.56,315.66 65.34,316.02 66.12,316.37 66.90,316.71 67.69,317.04 68.47,317.36 69.25,317.67 70.03,317.98 70.81,318.27 71.59,318.56 72.37,318.84 73.15,319.11 73.93,319.37 74.72,319.63 75.50,319.88 76.28,320.12 77.06,320.35 77.84,320.58 78.62,320.80 79.40,321.02 80.18,321.23 80.97,321.43 81.75,321.62 82.53,321.81 83.31,322.00 84.09,322.17 84.87,322.35 85.65,322.52 86.43,322.68 87.21,322.84 88.00,322.99 88.78,323.14 89.56,323.28 90.34,323.42 91.12,323.55 91.90,323.68 92.68,323.81 93.46,323.93 94.25,324.05 95.03,324.16 95.81,324.27 96.59,324.38 97.37,324.48 98.15,324.58 98.93,324.68 99.71,324.77 100.50,324.86 101.28,324.95 102.06,325.03 102.84,325.12 103.62,325.19 104.40,325.27 105.18,325.34 105.96,325.42 106.74,325.49 107.53,325.55 108.31,325.62 109.09,325.68 109.87,325.74 110.65,325.80 111.43,325.85 112.21,325.91 112.99,325.96 113.78,326.01 114.56,326.06 115.34,326.11 116.12,326.16 116.90,326.20" fill="none" stroke="#5690cc" stroke-width="1.0" stroke-linejoin="round"/>
<line x1="23.94" y1="285.92" x2="23.94" y2="282.13" stroke="#5690cc" stroke-width="0.6"/>
<line x1="22.84" y1="285.92" x2="25.04" y2="285.92" stroke="#5690cc" stroke-width="0.6"/>
<line x1="22.84" y1="282.13" x2="25.04" y2="282.13" stroke="#5690cc" stroke-width="0.6"/>
<path d="M23.94,285.59L25.50,282.86L22.38,282.86Z" fill="#5690cc"/>
<line x1="39.46" y1="299.51" x2="39.46" y2="295.72" stroke="#5690cc" stroke-width="0.6"/>
<line x1="38.36" y1="299.51" x2="40.56" y2="299.51" stroke="#5690cc" stroke-width="0.6"/>
<line x1="38.36" y1="295.72" x2="40.56" y2="295.72" stroke="#5690cc" stroke-width="0.6"/>
<path d="M39.46,299.18L41.02,296.45L37.90,296.45Z" fill="#5690cc"/>
<line x1="54.94" y1="312.47" x2="54.94" y2="311.20" stroke="#5690cc" stroke-width="0.6"/>
<line x1="53.84" y1="312.47" x2="56.04" y2="312.47" stroke="#5690cc" stroke-width="0.6"/>
<line x1="53.84" y1="311.20" x2="56.04" y2="311.20" stroke="#5690cc" stroke-width="0.6"/>
<path d="M54.94,313.40L56.50,310.67L53.38,310.67Z" fill="#5690cc"/>
<line x1="70.43" y1="319.36" x2="70.43" y2="318.09" stroke="#5690cc" stroke-width="0.6"/>
<line x1="69.33" y1="319.36" x2="71.53" y2="319.36" stroke="#5690cc" stroke-width="0.6"/>
<line x1="69.33" y1="318.09" x2="71.53" y2="318.09" stroke="#5690cc" stroke-width="0.6"/>
<path d="M70.43,320.28L71.99,317.55L68.87,317.55Z" fill="#5690cc"/>
<line x1="85.92" y1="321.38" x2="85.92" y2="320.12" stroke="#5690cc" stroke-width="0.6"/>
<line x1="84.82" y1="321.38" x2="87.02" y2="321.38" stroke="#5690cc" stroke-width="0.6"/>
<line x1="84.82" y1="320.12" x2="87.02" y2="320.12" stroke="#5690cc" stroke-width="0.6"/>
<path d="M85.92,322.31L87.48,319.58L84.36,319.58Z" fill="#5690cc"/>
<line x1="101.41" y1="325.04" x2="101.41" y2="323.78" stroke="#5690cc" stroke-width="0.6"/>
<line x1="100.31" y1="325.04" x2="102.51" y2="325.04" stroke="#5690cc" stroke-width="0.6"/>
<line x1="100.31" y1="323.78" x2="102.51" y2="323.78" stroke="#5690cc" stroke-width="0.6"/>
<path d="M101.41,325.97L102.97,323.24L99.85,323.24Z" fill="#5690cc"/>
<line x1="116.90" y1="328.08" x2="116.90" y2="326.81" stroke="#5690cc" stroke-width="0.6"/>
<line x1="115.80" y1="328.08" x2="118.00" y2="328.08" stroke="#5690cc" stroke-width="0.6"/>
<line x1="115.80" y1="326.81" x2="118.00" y2="326.81" stroke="#5690cc" stroke-width="0.6"/>
<path d="M116.90,329.01L118.46,326.28L115.34,326.28Z" fill="#5690cc"/>
<text x="174.70" y="18.10" font-size="8.8" font-weight="bold" fill="#1a1a1a" stroke="#1a1a1a" stroke-width="0.18">HCT 116 (KRAS<tspan font-size="5.81" dx="0.5" dy="-3.17">G13D</tspan><tspan dx="0.5" dy="3.17">)</tspan></text>
<text x="0" y="0" font-size="5.9" text-anchor="middle" fill="#1a1a1a" stroke="#1a1a1a" stroke-width="0.08" transform="translate(146.80,62.00) rotate(-90)" dominant-baseline="central">% control pERK1/2</text>
<line x1="163.2" y1="97.7" x2="163.2" y2="20.2" stroke="#333333" stroke-width="0.95"/>
<line x1="161.6" y1="97.30" x2="163.2" y2="97.30" stroke="#333333" stroke-width="0.95"/>
<text x="161.00" y="99.10" font-size="5.0" text-anchor="end" font-weight="bold" fill="#2a2a2a" stroke="#2a2a2a" stroke-width="0.18">0</text>
<line x1="161.6" y1="86.29" x2="163.2" y2="86.29" stroke="#333333" stroke-width="0.95"/>
<text x="161.00" y="88.09" font-size="5.0" text-anchor="end" font-weight="bold" fill="#2a2a2a" stroke="#2a2a2a" stroke-width="0.18">25</text>
<line x1="161.6" y1="75.27" x2="163.2" y2="75.27" stroke="#333333" stroke-width="0.95"/>
<text x="161.00" y="77.07" font-size="5.0" text-anchor="end" font-weight="bold" fill="#2a2a2a" stroke="#2a2a2a" stroke-width="0.18">50</text>
<line x1="161.6" y1="64.26" x2="163.2" y2="64.26" stroke="#333333" stroke-width="0.95"/>
<text x="161.00" y="66.06" font-size="5.0" text-anchor="end" font-weight="bold" fill="#2a2a2a" stroke="#2a2a2a" stroke-width="0.18">75</text>
<line x1="161.6" y1="53.24" x2="163.2" y2="53.24" stroke="#333333" stroke-width="0.95"/>
<text x="161.00" y="55.04" font-size="5.0" text-anchor="end" font-weight="bold" fill="#2a2a2a" stroke="#2a2a2a" stroke-width="0.18">100</text>
<line x1="161.6" y1="42.23" x2="163.2" y2="42.23" stroke="#333333" stroke-width="0.95"/>
<text x="161.00" y="44.03" font-size="5.0" text-anchor="end" font-weight="bold" fill="#2a2a2a" stroke="#2a2a2a" stroke-width="0.18">125</text>
<line x1="161.6" y1="31.21" x2="163.2" y2="31.21" stroke="#333333" stroke-width="0.95"/>
<text x="161.00" y="33.01" font-size="5.0" text-anchor="end" font-weight="bold" fill="#2a2a2a" stroke="#2a2a2a" stroke-width="0.18">150</text>
<line x1="161.6" y1="20.20" x2="163.2" y2="20.20" stroke="#333333" stroke-width="0.95"/>
<text x="161.00" y="22.00" font-size="5.0" text-anchor="end" font-weight="bold" fill="#2a2a2a" stroke="#2a2a2a" stroke-width="0.18">175</text>
<line x1="162.79999999999998" y1="97.3" x2="268" y2="97.3" stroke="#333333" stroke-width="0.95"/>
<line x1="172.20" y1="97.3" x2="172.20" y2="98.6" stroke="#333333" stroke-width="0.95"/>
<text x="0" y="0" font-size="5.5" font-weight="bold" text-anchor="end" fill="#2a2a2a" stroke="#2a2a2a" stroke-width="0.1" transform="translate(174.20,103.80) rotate(-45)">0.0</text>
<line x1="184.67" y1="97.3" x2="184.67" y2="98.6" stroke="#333333" stroke-width="0.95"/>
<text x="0" y="0" font-size="5.5" font-weight="bold" text-anchor="end" fill="#2a2a2a" stroke="#2a2a2a" stroke-width="0.1" transform="translate(186.67,103.80) rotate(-45)">13.7</text>
<line x1="197.14" y1="97.3" x2="197.14" y2="98.6" stroke="#333333" stroke-width="0.95"/>
<text x="0" y="0" font-size="5.5" font-weight="bold" text-anchor="end" fill="#2a2a2a" stroke="#2a2a2a" stroke-width="0.1" transform="translate(199.14,103.80) rotate(-45)">41.2</text>
<line x1="209.61" y1="97.3" x2="209.61" y2="98.6" stroke="#333333" stroke-width="0.95"/>
<text x="0" y="0" font-size="5.5" font-weight="bold" text-anchor="end" fill="#2a2a2a" stroke="#2a2a2a" stroke-width="0.1" transform="translate(211.61,103.80) rotate(-45)">123.5</text>
<line x1="222.08" y1="97.3" x2="222.08" y2="98.6" stroke="#333333" stroke-width="0.95"/>
<text x="0" y="0" font-size="5.5" font-weight="bold" text-anchor="end" fill="#2a2a2a" stroke="#2a2a2a" stroke-width="0.1" transform="translate(224.08,103.80) rotate(-45)">370.4</text>
<line x1="234.55" y1="97.3" x2="234.55" y2="98.6" stroke="#333333" stroke-width="0.95"/>
<text x="0" y="0" font-size="5.5" font-weight="bold" text-anchor="end" fill="#2a2a2a" stroke="#2a2a2a" stroke-width="0.1" transform="translate(236.55,103.80) rotate(-45)">1,111.1</text>
<line x1="247.02" y1="97.3" x2="247.02" y2="98.6" stroke="#333333" stroke-width="0.95"/>
<text x="0" y="0" font-size="5.5" font-weight="bold" text-anchor="end" fill="#2a2a2a" stroke="#2a2a2a" stroke-width="0.1" transform="translate(249.02,103.80) rotate(-45)">3,333.3</text>
<line x1="259.49" y1="97.3" x2="259.49" y2="98.6" stroke="#333333" stroke-width="0.95"/>
<text x="0" y="0" font-size="5.5" font-weight="bold" text-anchor="end" fill="#2a2a2a" stroke="#2a2a2a" stroke-width="0.1" transform="translate(261.49,103.80) rotate(-45)">10,000.0</text>
<text x="220.50" y="125.70" font-size="5.6" text-anchor="middle" font-weight="normal" fill="#1a1a1a" stroke="#1a1a1a" stroke-width="0.12" >LXH254 (nmol/L)</text>
<line x1="163.5" y1="53.24" x2="268" y2="53.24" stroke="#8a8a8a" stroke-width="0.75" stroke-dasharray="1,0.9"/>
<polyline points="172.20,53.24 184.67,53.68 197.14,43.99 209.61,38.26 222.08,44.43 234.55,67.34 247.02,87.39 259.49,90.78" fill="none" stroke="#88224e" stroke-width="1.0" stroke-linejoin="round"/>
<path d="M172.20,51.68L173.76,54.41L170.64,54.41Z" fill="#88224e"/>
<line x1="184.67" y1="55.89" x2="184.67" y2="51.48" stroke="#88224e" stroke-width="0.6"/>
<line x1="183.57" y1="55.89" x2="185.77" y2="55.89" stroke="#88224e" stroke-width="0.6"/>
<line x1="183.57" y1="51.48" x2="185.77" y2="51.48" stroke="#88224e" stroke-width="0.6"/>
<path d="M184.67,52.12L186.23,54.85L183.11,54.85Z" fill="#88224e"/>
<line x1="197.14" y1="49.28" x2="197.14" y2="38.70" stroke="#88224e" stroke-width="0.6"/>
<line x1="196.04" y1="49.28" x2="198.24" y2="49.28" stroke="#88224e" stroke-width="0.6"/>
<line x1="196.04" y1="38.70" x2="198.24" y2="38.70" stroke="#88224e" stroke-width="0.6"/>
<path d="M197.14,42.43L198.70,45.16L195.58,45.16Z" fill="#88224e"/>
<line x1="209.61" y1="43.99" x2="209.61" y2="32.54" stroke="#88224e" stroke-width="0.6"/>
<line x1="208.51" y1="43.99" x2="210.71" y2="43.99" stroke="#88224e" stroke-width="0.6"/>
<line x1="208.51" y1="32.54" x2="210.71" y2="32.54" stroke="#88224e" stroke-width="0.6"/>
<path d="M209.61,36.70L211.17,39.43L208.05,39.43Z" fill="#88224e"/>
<line x1="222.08" y1="52.80" x2="222.08" y2="36.06" stroke="#88224e" stroke-width="0.6"/>
<line x1="220.98" y1="52.80" x2="223.18" y2="52.80" stroke="#88224e" stroke-width="0.6"/>
<line x1="220.98" y1="36.06" x2="223.18" y2="36.06" stroke="#88224e" stroke-width="0.6"/>
<path d="M222.08,42.87L223.64,45.60L220.52,45.60Z" fill="#88224e"/>
<line x1="234.55" y1="68.66" x2="234.55" y2="66.02" stroke="#88224e" stroke-width="0.6"/>
<line x1="233.45" y1="68.66" x2="235.65" y2="68.66" stroke="#88224e" stroke-width="0.6"/>
<line x1="233.45" y1="66.02" x2="235.65" y2="66.02" stroke="#88224e" stroke-width="0.6"/>
<path d="M234.55,65.78L236.11,68.51L232.99,68.51Z" fill="#88224e"/>
<line x1="247.02" y1="88.27" x2="247.02" y2="86.51" stroke="#88224e" stroke-width="0.6"/>
<line x1="245.92" y1="88.27" x2="248.12" y2="88.27" stroke="#88224e" stroke-width="0.6"/>
<line x1="245.92" y1="86.51" x2="248.12" y2="86.51" stroke="#88224e" stroke-width="0.6"/>
<path d="M247.02,85.83L248.58,88.56L245.46,88.56Z" fill="#88224e"/>
<line x1="259.49" y1="91.66" x2="259.49" y2="89.90" stroke="#88224e" stroke-width="0.6"/>
<line x1="258.39" y1="91.66" x2="260.59" y2="91.66" stroke="#88224e" stroke-width="0.6"/>
<line x1="258.39" y1="89.90" x2="260.59" y2="89.90" stroke="#88224e" stroke-width="0.6"/>
<path d="M259.49,89.22L261.05,91.95L257.93,91.95Z" fill="#88224e"/>
<polyline points="172.20,53.24 184.67,45.31 197.14,83.20 209.61,91.13 222.08,93.78 234.55,94.22 247.02,94.22 259.49,94.22" fill="none" stroke="#5690cc" stroke-width="1.0" stroke-linejoin="round"/>
<path d="M172.20,54.80L173.76,52.07L170.64,52.07Z" fill="#5690cc"/>
<line x1="184.67" y1="47.96" x2="184.67" y2="42.67" stroke="#5690cc" stroke-width="0.6"/>
<line x1="183.57" y1="47.96" x2="185.77" y2="47.96" stroke="#5690cc" stroke-width="0.6"/>
<line x1="183.57" y1="42.67" x2="185.77" y2="42.67" stroke="#5690cc" stroke-width="0.6"/>
<path d="M184.67,46.87L186.23,44.14L183.11,44.14Z" fill="#5690cc"/>
<line x1="197.14" y1="84.08" x2="197.14" y2="82.32" stroke="#5690cc" stroke-width="0.6"/>
<line x1="196.04" y1="84.08" x2="198.24" y2="84.08" stroke="#5690cc" stroke-width="0.6"/>
<line x1="196.04" y1="82.32" x2="198.24" y2="82.32" stroke="#5690cc" stroke-width="0.6"/>
<path d="M197.14,84.76L198.70,82.03L195.58,82.03Z" fill="#5690cc"/>
<line x1="209.61" y1="92.01" x2="209.61" y2="90.25" stroke="#5690cc" stroke-width="0.6"/>
<line x1="208.51" y1="92.01" x2="210.71" y2="92.01" stroke="#5690cc" stroke-width="0.6"/>
<line x1="208.51" y1="90.25" x2="210.71" y2="90.25" stroke="#5690cc" stroke-width="0.6"/>
<path d="M209.61,92.69L211.17,89.96L208.05,89.96Z" fill="#5690cc"/>
<line x1="222.08" y1="94.22" x2="222.08" y2="93.33" stroke="#5690cc" stroke-width="0.6"/>
<line x1="220.98" y1="94.22" x2="223.18" y2="94.22" stroke="#5690cc" stroke-width="0.6"/>
<line x1="220.98" y1="93.33" x2="223.18" y2="93.33" stroke="#5690cc" stroke-width="0.6"/>
<path d="M222.08,95.34L223.64,92.61L220.52,92.61Z" fill="#5690cc"/>
<line x1="234.55" y1="94.66" x2="234.55" y2="93.78" stroke="#5690cc" stroke-width="0.6"/>
<line x1="233.45" y1="94.66" x2="235.65" y2="94.66" stroke="#5690cc" stroke-width="0.6"/>
<line x1="233.45" y1="93.78" x2="235.65" y2="93.78" stroke="#5690cc" stroke-width="0.6"/>
<path d="M234.55,95.78L236.11,93.05L232.99,93.05Z" fill="#5690cc"/>
<line x1="247.02" y1="94.66" x2="247.02" y2="93.78" stroke="#5690cc" stroke-width="0.6"/>
<line x1="245.92" y1="94.66" x2="248.12" y2="94.66" stroke="#5690cc" stroke-width="0.6"/>
<line x1="245.92" y1="93.78" x2="248.12" y2="93.78" stroke="#5690cc" stroke-width="0.6"/>
<path d="M247.02,95.78L248.58,93.05L245.46,93.05Z" fill="#5690cc"/>
<line x1="259.49" y1="94.66" x2="259.49" y2="93.78" stroke="#5690cc" stroke-width="0.6"/>
<line x1="258.39" y1="94.66" x2="260.59" y2="94.66" stroke="#5690cc" stroke-width="0.6"/>
<line x1="258.39" y1="93.78" x2="260.59" y2="93.78" stroke="#5690cc" stroke-width="0.6"/>
<path d="M259.49,95.78L261.05,93.05L257.93,93.05Z" fill="#5690cc"/>
<polyline points="172.20,53.24 184.67,43.11 197.14,74.83 209.61,87.61 222.08,92.89 234.55,94.22 247.02,94.22 259.49,94.22" fill="none" stroke="#25a07c" stroke-width="1.0" stroke-linejoin="round"/>
<line x1="172.20" y1="60.73" x2="172.20" y2="45.75" stroke="#25a07c" stroke-width="0.6"/>
<line x1="171.10" y1="60.73" x2="173.30" y2="60.73" stroke="#25a07c" stroke-width="0.6"/>
<line x1="171.10" y1="45.75" x2="173.30" y2="45.75" stroke="#25a07c" stroke-width="0.6"/>
<rect x="170.90" y="51.94" width="2.6" height="2.6" fill="#25a07c"/>
<line x1="184.67" y1="48.40" x2="184.67" y2="37.82" stroke="#25a07c" stroke-width="0.6"/>
<line x1="183.57" y1="48.40" x2="185.77" y2="48.40" stroke="#25a07c" stroke-width="0.6"/>
<line x1="183.57" y1="37.82" x2="185.77" y2="37.82" stroke="#25a07c" stroke-width="0.6"/>
<rect x="183.37" y="41.81" width="2.6" height="2.6" fill="#25a07c"/>
<line x1="197.14" y1="76.59" x2="197.14" y2="73.07" stroke="#25a07c" stroke-width="0.6"/>
<line x1="196.04" y1="76.59" x2="198.24" y2="76.59" stroke="#25a07c" stroke-width="0.6"/>
<line x1="196.04" y1="73.07" x2="198.24" y2="73.07" stroke="#25a07c" stroke-width="0.6"/>
<rect x="195.84" y="73.53" width="2.6" height="2.6" fill="#25a07c"/>
<line x1="209.61" y1="88.93" x2="209.61" y2="86.29" stroke="#25a07c" stroke-width="0.6"/>
<line x1="208.51" y1="88.93" x2="210.71" y2="88.93" stroke="#25a07c" stroke-width="0.6"/>
<line x1="208.51" y1="86.29" x2="210.71" y2="86.29" stroke="#25a07c" stroke-width="0.6"/>
<rect x="208.31" y="86.31" width="2.6" height="2.6" fill="#25a07c"/>
<line x1="222.08" y1="93.78" x2="222.08" y2="92.01" stroke="#25a07c" stroke-width="0.6"/>
<line x1="220.98" y1="93.78" x2="223.18" y2="93.78" stroke="#25a07c" stroke-width="0.6"/>
<line x1="220.98" y1="92.01" x2="223.18" y2="92.01" stroke="#25a07c" stroke-width="0.6"/>
<rect x="220.78" y="91.59" width="2.6" height="2.6" fill="#25a07c"/>
<line x1="234.55" y1="94.66" x2="234.55" y2="93.78" stroke="#25a07c" stroke-width="0.6"/>
<line x1="233.45" y1="94.66" x2="235.65" y2="94.66" stroke="#25a07c" stroke-width="0.6"/>
<line x1="233.45" y1="93.78" x2="235.65" y2="93.78" stroke="#25a07c" stroke-width="0.6"/>
<rect x="233.25" y="92.92" width="2.6" height="2.6" fill="#25a07c"/>
<line x1="247.02" y1="94.66" x2="247.02" y2="93.78" stroke="#25a07c" stroke-width="0.6"/>
<line x1="245.92" y1="94.66" x2="248.12" y2="94.66" stroke="#25a07c" stroke-width="0.6"/>
<line x1="245.92" y1="93.78" x2="248.12" y2="93.78" stroke="#25a07c" stroke-width="0.6"/>
<rect x="245.72" y="92.92" width="2.6" height="2.6" fill="#25a07c"/>
<line x1="259.49" y1="94.66" x2="259.49" y2="93.78" stroke="#25a07c" stroke-width="0.6"/>
<line x1="258.39" y1="94.66" x2="260.59" y2="94.66" stroke="#25a07c" stroke-width="0.6"/>
<line x1="258.39" y1="93.78" x2="260.59" y2="93.78" stroke="#25a07c" stroke-width="0.6"/>
<rect x="258.19" y="92.92" width="2.6" height="2.6" fill="#25a07c"/>
<polyline points="172.20,53.24 184.67,59.85 197.14,76.15 209.61,88.71 222.08,93.33 234.55,94.22 247.02,94.22 259.49,94.22" fill="none" stroke="#2828aa" stroke-width="1.0" stroke-linejoin="round"/>
<circle cx="172.20" cy="53.24" r="1.3" fill="#2828aa"/>
<line x1="184.67" y1="66.02" x2="184.67" y2="53.68" stroke="#2828aa" stroke-width="0.6"/>
<line x1="183.57" y1="66.02" x2="185.77" y2="66.02" stroke="#2828aa" stroke-width="0.6"/>
<line x1="183.57" y1="53.68" x2="185.77" y2="53.68" stroke="#2828aa" stroke-width="0.6"/>
<circle cx="184.67" cy="59.85" r="1.3" fill="#2828aa"/>
<line x1="197.14" y1="77.91" x2="197.14" y2="74.39" stroke="#2828aa" stroke-width="0.6"/>
<line x1="196.04" y1="77.91" x2="198.24" y2="77.91" stroke="#2828aa" stroke-width="0.6"/>
<line x1="196.04" y1="74.39" x2="198.24" y2="74.39" stroke="#2828aa" stroke-width="0.6"/>
<circle cx="197.14" cy="76.15" r="1.3" fill="#2828aa"/>
<line x1="209.61" y1="90.03" x2="209.61" y2="87.39" stroke="#2828aa" stroke-width="0.6"/>
<line x1="208.51" y1="90.03" x2="210.71" y2="90.03" stroke="#2828aa" stroke-width="0.6"/>
<line x1="208.51" y1="87.39" x2="210.71" y2="87.39" stroke="#2828aa" stroke-width="0.6"/>
<circle cx="209.61" cy="88.71" r="1.3" fill="#2828aa"/>
<line x1="222.08" y1="94.22" x2="222.08" y2="92.45" stroke="#2828aa" stroke-width="0.6"/>
<line x1="220.98" y1="94.22" x2="223.18" y2="94.22" stroke="#2828aa" stroke-width="0.6"/>
<line x1="220.98" y1="92.45" x2="223.18" y2="92.45" stroke="#2828aa" stroke-width="0.6"/>
<circle cx="222.08" cy="93.33" r="1.3" fill="#2828aa"/>
<line x1="234.55" y1="94.66" x2="234.55" y2="93.78" stroke="#2828aa" stroke-width="0.6"/>
<line x1="233.45" y1="94.66" x2="235.65" y2="94.66" stroke="#2828aa" stroke-width="0.6"/>
<line x1="233.45" y1="93.78" x2="235.65" y2="93.78" stroke="#2828aa" stroke-width="0.6"/>
<circle cx="234.55" cy="94.22" r="1.3" fill="#2828aa"/>
<line x1="247.02" y1="94.66" x2="247.02" y2="93.78" stroke="#2828aa" stroke-width="0.6"/>
<line x1="245.92" y1="94.66" x2="248.12" y2="94.66" stroke="#2828aa" stroke-width="0.6"/>
<line x1="245.92" y1="93.78" x2="248.12" y2="93.78" stroke="#2828aa" stroke-width="0.6"/>
<circle cx="247.02" cy="94.22" r="1.3" fill="#2828aa"/>
<line x1="259.49" y1="94.66" x2="259.49" y2="93.78" stroke="#2828aa" stroke-width="0.6"/>
<line x1="258.39" y1="94.66" x2="260.59" y2="94.66" stroke="#2828aa" stroke-width="0.6"/>
<line x1="258.39" y1="93.78" x2="260.59" y2="93.78" stroke="#2828aa" stroke-width="0.6"/>
<circle cx="259.49" cy="94.22" r="1.3" fill="#2828aa"/>
<text x="169.80" y="141.40" font-size="8.8" font-weight="bold" fill="#1a1a1a" stroke="#1a1a1a" stroke-width="0.18">MIA PaCa-2 (KRAS<tspan font-size="5.81" dx="0.5" dy="-3.17">G12C</tspan><tspan dx="0.5" dy="3.17">)</tspan></text>
<text x="0" y="0" font-size="5.9" text-anchor="middle" fill="#1a1a1a" stroke="#1a1a1a" stroke-width="0.08" transform="translate(146.80,184.00) rotate(-90)" dominant-baseline="central">% control pERK1/2</text>
<line x1="163.3" y1="220.5" x2="163.3" y2="141.9" stroke="#333333" stroke-width="0.95"/>
<line x1="161.70000000000002" y1="220.10" x2="163.3" y2="220.10" stroke="#333333" stroke-width="0.95"/>
<text x="161.10" y="221.90" font-size="5.0" text-anchor="end" font-weight="bold" fill="#2a2a2a" stroke="#2a2a2a" stroke-width="0.18">0</text>
<line x1="161.70000000000002" y1="208.93" x2="163.3" y2="208.93" stroke="#333333" stroke-width="0.95"/>
<text x="161.10" y="210.73" font-size="5.0" text-anchor="end" font-weight="bold" fill="#2a2a2a" stroke="#2a2a2a" stroke-width="0.18">25</text>
<line x1="161.70000000000002" y1="197.76" x2="163.3" y2="197.76" stroke="#333333" stroke-width="0.95"/>
<text x="161.10" y="199.56" font-size="5.0" text-anchor="end" font-weight="bold" fill="#2a2a2a" stroke="#2a2a2a" stroke-width="0.18">50</text>
<line x1="161.70000000000002" y1="186.59" x2="163.3" y2="186.59" stroke="#333333" stroke-width="0.95"/>
<text x="161.10" y="188.39" font-size="5.0" text-anchor="end" font-weight="bold" fill="#2a2a2a" stroke="#2a2a2a" stroke-width="0.18">75</text>
<line x1="161.70000000000002" y1="175.41" x2="163.3" y2="175.41" stroke="#333333" stroke-width="0.95"/>
<text x="161.10" y="177.21" font-size="5.0" text-anchor="end" font-weight="bold" fill="#2a2a2a" stroke="#2a2a2a" stroke-width="0.18">100</text>
<line x1="161.70000000000002" y1="164.24" x2="163.3" y2="164.24" stroke="#333333" stroke-width="0.95"/>
<text x="161.10" y="166.04" font-size="5.0" text-anchor="end" font-weight="bold" fill="#2a2a2a" stroke="#2a2a2a" stroke-width="0.18">125</text>
<line x1="161.70000000000002" y1="153.07" x2="163.3" y2="153.07" stroke="#333333" stroke-width="0.95"/>
<text x="161.10" y="154.87" font-size="5.0" text-anchor="end" font-weight="bold" fill="#2a2a2a" stroke="#2a2a2a" stroke-width="0.18">150</text>
<line x1="161.70000000000002" y1="141.90" x2="163.3" y2="141.90" stroke="#333333" stroke-width="0.95"/>
<text x="161.10" y="143.70" font-size="5.0" text-anchor="end" font-weight="bold" fill="#2a2a2a" stroke="#2a2a2a" stroke-width="0.18">175</text>
<line x1="162.9" y1="220.1" x2="266.6" y2="220.1" stroke="#333333" stroke-width="0.95"/>
<line x1="172.00" y1="220.1" x2="172.00" y2="221.4" stroke="#333333" stroke-width="0.95"/>
<text x="0" y="0" font-size="5.5" font-weight="bold" text-anchor="end" fill="#2a2a2a" stroke="#2a2a2a" stroke-width="0.1" transform="translate(174.00,226.60) rotate(-45)">0.0</text>
<line x1="184.30" y1="220.1" x2="184.30" y2="221.4" stroke="#333333" stroke-width="0.95"/>
<text x="0" y="0" font-size="5.5" font-weight="bold" text-anchor="end" fill="#2a2a2a" stroke="#2a2a2a" stroke-width="0.1" transform="translate(186.30,226.60) rotate(-45)">13.7</text>
<line x1="196.60" y1="220.1" x2="196.60" y2="221.4" stroke="#333333" stroke-width="0.95"/>
<text x="0" y="0" font-size="5.5" font-weight="bold" text-anchor="end" fill="#2a2a2a" stroke="#2a2a2a" stroke-width="0.1" transform="translate(198.60,226.60) rotate(-45)">41.2</text>
<line x1="208.90" y1="220.1" x2="208.90" y2="221.4" stroke="#333333" stroke-width="0.95"/>
<text x="0" y="0" font-size="5.5" font-weight="bold" text-anchor="end" fill="#2a2a2a" stroke="#2a2a2a" stroke-width="0.1" transform="translate(210.90,226.60) rotate(-45)">123.5</text>
<line x1="221.20" y1="220.1" x2="221.20" y2="221.4" stroke="#333333" stroke-width="0.95"/>
<text x="0" y="0" font-size="5.5" font-weight="bold" text-anchor="end" fill="#2a2a2a" stroke="#2a2a2a" stroke-width="0.1" transform="translate(223.20,226.60) rotate(-45)">370.4</text>
<line x1="233.50" y1="220.1" x2="233.50" y2="221.4" stroke="#333333" stroke-width="0.95"/>
<text x="0" y="0" font-size="5.5" font-weight="bold" text-anchor="end" fill="#2a2a2a" stroke="#2a2a2a" stroke-width="0.1" transform="translate(235.50,226.60) rotate(-45)">1,111.1</text>
<line x1="245.80" y1="220.1" x2="245.80" y2="221.4" stroke="#333333" stroke-width="0.95"/>
<text x="0" y="0" font-size="5.5" font-weight="bold" text-anchor="end" fill="#2a2a2a" stroke="#2a2a2a" stroke-width="0.1" transform="translate(247.80,226.60) rotate(-45)">3,333.3</text>
<line x1="258.10" y1="220.1" x2="258.10" y2="221.4" stroke="#333333" stroke-width="0.95"/>
<text x="0" y="0" font-size="5.5" font-weight="bold" text-anchor="end" fill="#2a2a2a" stroke="#2a2a2a" stroke-width="0.1" transform="translate(260.10,226.60) rotate(-45)">10,000.0</text>
<text x="220.50" y="247.50" font-size="5.6" text-anchor="middle" font-weight="normal" fill="#1a1a1a" stroke="#1a1a1a" stroke-width="0.12" >LXH254 (nmol/L)</text>
<line x1="164" y1="175.41" x2="266.6" y2="175.41" stroke="#8a8a8a" stroke-width="0.75" stroke-dasharray="1,0.9"/>
<polyline points="172.00,175.41 184.30,167.82 196.60,166.48 208.90,157.54 221.20,156.65 233.50,166.03 245.80,191.95 258.10,208.48" fill="none" stroke="#88224e" stroke-width="1.0" stroke-linejoin="round"/>
<path d="M172.00,173.85L173.56,176.58L170.44,176.58Z" fill="#88224e"/>
<line x1="184.30" y1="172.29" x2="184.30" y2="163.35" stroke="#88224e" stroke-width="0.6"/>
<line x1="183.20" y1="172.29" x2="185.40" y2="172.29" stroke="#88224e" stroke-width="0.6"/>
<line x1="183.20" y1="163.35" x2="185.40" y2="163.35" stroke="#88224e" stroke-width="0.6"/>
<path d="M184.30,166.26L185.86,168.99L182.74,168.99Z" fill="#88224e"/>
<line x1="196.60" y1="174.07" x2="196.60" y2="158.88" stroke="#88224e" stroke-width="0.6"/>
<line x1="195.50" y1="174.07" x2="197.70" y2="174.07" stroke="#88224e" stroke-width="0.6"/>
<line x1="195.50" y1="158.88" x2="197.70" y2="158.88" stroke="#88224e" stroke-width="0.6"/>
<path d="M196.60,164.92L198.16,167.65L195.04,167.65Z" fill="#88224e"/>
<line x1="208.90" y1="161.11" x2="208.90" y2="153.97" stroke="#88224e" stroke-width="0.6"/>
<line x1="207.80" y1="161.11" x2="210.00" y2="161.11" stroke="#88224e" stroke-width="0.6"/>
<line x1="207.80" y1="153.97" x2="210.00" y2="153.97" stroke="#88224e" stroke-width="0.6"/>
<path d="M208.90,155.98L210.46,158.71L207.34,158.71Z" fill="#88224e"/>
<line x1="221.20" y1="160.22" x2="221.20" y2="153.07" stroke="#88224e" stroke-width="0.6"/>
<line x1="220.10" y1="160.22" x2="222.30" y2="160.22" stroke="#88224e" stroke-width="0.6"/>
<line x1="220.10" y1="153.07" x2="222.30" y2="153.07" stroke="#88224e" stroke-width="0.6"/>
<path d="M221.20,155.09L222.76,157.82L219.64,157.82Z" fill="#88224e"/>
<line x1="233.50" y1="171.39" x2="233.50" y2="160.67" stroke="#88224e" stroke-width="0.6"/>
<line x1="232.40" y1="171.39" x2="234.60" y2="171.39" stroke="#88224e" stroke-width="0.6"/>
<line x1="232.40" y1="160.67" x2="234.60" y2="160.67" stroke="#88224e" stroke-width="0.6"/>
<path d="M233.50,164.47L235.06,167.20L231.94,167.20Z" fill="#88224e"/>
<line x1="245.80" y1="194.63" x2="245.80" y2="189.27" stroke="#88224e" stroke-width="0.6"/>
<line x1="244.70" y1="194.63" x2="246.90" y2="194.63" stroke="#88224e" stroke-width="0.6"/>
<line x1="244.70" y1="189.27" x2="246.90" y2="189.27" stroke="#88224e" stroke-width="0.6"/>
<path d="M245.80,190.39L247.36,193.12L244.24,193.12Z" fill="#88224e"/>
<line x1="258.10" y1="210.27" x2="258.10" y2="206.69" stroke="#88224e" stroke-width="0.6"/>
<line x1="257.00" y1="210.27" x2="259.20" y2="210.27" stroke="#88224e" stroke-width="0.6"/>
<line x1="257.00" y1="206.69" x2="259.20" y2="206.69" stroke="#88224e" stroke-width="0.6"/>
<path d="M258.10,206.92L259.66,209.65L256.54,209.65Z" fill="#88224e"/>
<polyline points="172.00,175.41 184.30,177.87 196.60,190.29 208.90,203.12 221.20,210.72 233.50,214.29 245.80,216.21 258.10,216.53" fill="none" stroke="#25a07c" stroke-width="1.0" stroke-linejoin="round"/>
<rect x="170.70" y="174.11" width="2.6" height="2.6" fill="#25a07c"/>
<line x1="184.30" y1="179.21" x2="184.30" y2="176.53" stroke="#25a07c" stroke-width="0.6"/>
<line x1="183.20" y1="179.21" x2="185.40" y2="179.21" stroke="#25a07c" stroke-width="0.6"/>
<line x1="183.20" y1="176.53" x2="185.40" y2="176.53" stroke="#25a07c" stroke-width="0.6"/>
<rect x="183.00" y="176.57" width="2.6" height="2.6" fill="#25a07c"/>
<line x1="196.60" y1="191.64" x2="196.60" y2="188.95" stroke="#25a07c" stroke-width="0.6"/>
<line x1="195.50" y1="191.64" x2="197.70" y2="191.64" stroke="#25a07c" stroke-width="0.6"/>
<line x1="195.50" y1="188.95" x2="197.70" y2="188.95" stroke="#25a07c" stroke-width="0.6"/>
<rect x="195.30" y="188.99" width="2.6" height="2.6" fill="#25a07c"/>
<line x1="208.90" y1="204.46" x2="208.90" y2="201.78" stroke="#25a07c" stroke-width="0.6"/>
<line x1="207.80" y1="204.46" x2="210.00" y2="204.46" stroke="#25a07c" stroke-width="0.6"/>
<line x1="207.80" y1="201.78" x2="210.00" y2="201.78" stroke="#25a07c" stroke-width="0.6"/>
<rect x="207.60" y="201.82" width="2.6" height="2.6" fill="#25a07c"/>
<line x1="221.20" y1="211.61" x2="221.20" y2="209.82" stroke="#25a07c" stroke-width="0.6"/>
<line x1="220.10" y1="211.61" x2="222.30" y2="211.61" stroke="#25a07c" stroke-width="0.6"/>
<line x1="220.10" y1="209.82" x2="222.30" y2="209.82" stroke="#25a07c" stroke-width="0.6"/>
<rect x="219.90" y="209.42" width="2.6" height="2.6" fill="#25a07c"/>
<line x1="233.50" y1="215.18" x2="233.50" y2="213.40" stroke="#25a07c" stroke-width="0.6"/>
<line x1="232.40" y1="215.18" x2="234.60" y2="215.18" stroke="#25a07c" stroke-width="0.6"/>
<line x1="232.40" y1="213.40" x2="234.60" y2="213.40" stroke="#25a07c" stroke-width="0.6"/>
<rect x="232.20" y="212.99" width="2.6" height="2.6" fill="#25a07c"/>
<line x1="245.80" y1="216.66" x2="245.80" y2="215.77" stroke="#25a07c" stroke-width="0.6"/>
<line x1="244.70" y1="216.66" x2="246.90" y2="216.66" stroke="#25a07c" stroke-width="0.6"/>
<line x1="244.70" y1="215.77" x2="246.90" y2="215.77" stroke="#25a07c" stroke-width="0.6"/>
<rect x="244.50" y="214.91" width="2.6" height="2.6" fill="#25a07c"/>
<line x1="258.10" y1="216.97" x2="258.10" y2="216.08" stroke="#25a07c" stroke-width="0.6"/>
<line x1="257.00" y1="216.97" x2="259.20" y2="216.97" stroke="#25a07c" stroke-width="0.6"/>
<line x1="257.00" y1="216.08" x2="259.20" y2="216.08" stroke="#25a07c" stroke-width="0.6"/>
<rect x="256.80" y="215.23" width="2.6" height="2.6" fill="#25a07c"/>
<polyline points="172.00,175.41 184.30,160.67 196.60,187.26 208.90,208.93 221.20,216.21 233.50,216.53 245.80,216.53 258.10,216.53" fill="none" stroke="#5690cc" stroke-width="1.0" stroke-linejoin="round"/>
<path d="M172.00,176.97L173.56,174.24L170.44,174.24Z" fill="#5690cc"/>
<line x1="184.30" y1="162.01" x2="184.30" y2="159.33" stroke="#5690cc" stroke-width="0.6"/>
<line x1="183.20" y1="162.01" x2="185.40" y2="162.01" stroke="#5690cc" stroke-width="0.6"/>
<line x1="183.20" y1="159.33" x2="185.40" y2="159.33" stroke="#5690cc" stroke-width="0.6"/>
<path d="M184.30,162.23L185.86,159.50L182.74,159.50Z" fill="#5690cc"/>
<line x1="196.60" y1="188.60" x2="196.60" y2="185.92" stroke="#5690cc" stroke-width="0.6"/>
<line x1="195.50" y1="188.60" x2="197.70" y2="188.60" stroke="#5690cc" stroke-width="0.6"/>
<line x1="195.50" y1="185.92" x2="197.70" y2="185.92" stroke="#5690cc" stroke-width="0.6"/>
<path d="M196.60,188.82L198.16,186.09L195.04,186.09Z" fill="#5690cc"/>
<line x1="208.90" y1="209.82" x2="208.90" y2="208.03" stroke="#5690cc" stroke-width="0.6"/>
<line x1="207.80" y1="209.82" x2="210.00" y2="209.82" stroke="#5690cc" stroke-width="0.6"/>
<line x1="207.80" y1="208.03" x2="210.00" y2="208.03" stroke="#5690cc" stroke-width="0.6"/>
<path d="M208.90,210.49L210.46,207.76L207.34,207.76Z" fill="#5690cc"/>
<line x1="221.20" y1="216.66" x2="221.20" y2="215.77" stroke="#5690cc" stroke-width="0.6"/>
<line x1="220.10" y1="216.66" x2="222.30" y2="216.66" stroke="#5690cc" stroke-width="0.6"/>
<line x1="220.10" y1="215.77" x2="222.30" y2="215.77" stroke="#5690cc" stroke-width="0.6"/>
<path d="M221.20,217.77L222.76,215.04L219.64,215.04Z" fill="#5690cc"/>
<line x1="233.50" y1="216.97" x2="233.50" y2="216.08" stroke="#5690cc" stroke-width="0.6"/>
<line x1="232.40" y1="216.97" x2="234.60" y2="216.97" stroke="#5690cc" stroke-width="0.6"/>
<line x1="232.40" y1="216.08" x2="234.60" y2="216.08" stroke="#5690cc" stroke-width="0.6"/>
<path d="M233.50,218.09L235.06,215.36L231.94,215.36Z" fill="#5690cc"/>
<line x1="245.80" y1="216.97" x2="245.80" y2="216.08" stroke="#5690cc" stroke-width="0.6"/>
<line x1="244.70" y1="216.97" x2="246.90" y2="216.97" stroke="#5690cc" stroke-width="0.6"/>
<line x1="244.70" y1="216.08" x2="246.90" y2="216.08" stroke="#5690cc" stroke-width="0.6"/>
<path d="M245.80,218.09L247.36,215.36L244.24,215.36Z" fill="#5690cc"/>
<line x1="258.10" y1="216.97" x2="258.10" y2="216.08" stroke="#5690cc" stroke-width="0.6"/>
<line x1="257.00" y1="216.97" x2="259.20" y2="216.97" stroke="#5690cc" stroke-width="0.6"/>
<line x1="257.00" y1="216.08" x2="259.20" y2="216.08" stroke="#5690cc" stroke-width="0.6"/>
<path d="M258.10,218.09L259.66,215.36L256.54,215.36Z" fill="#5690cc"/>
<polyline points="172.00,175.41 184.30,159.77 196.60,169.16 208.90,181.45 221.20,193.74 233.50,201.33 245.80,209.15 258.10,215.50" fill="none" stroke="#2828aa" stroke-width="1.0" stroke-linejoin="round"/>
<circle cx="172.00" cy="175.41" r="1.3" fill="#2828aa"/>
<line x1="184.30" y1="161.11" x2="184.30" y2="158.43" stroke="#2828aa" stroke-width="0.6"/>
<line x1="183.20" y1="161.11" x2="185.40" y2="161.11" stroke="#2828aa" stroke-width="0.6"/>
<line x1="183.20" y1="158.43" x2="185.40" y2="158.43" stroke="#2828aa" stroke-width="0.6"/>
<circle cx="184.30" cy="159.77" r="1.3" fill="#2828aa"/>
<line x1="196.60" y1="170.95" x2="196.60" y2="167.37" stroke="#2828aa" stroke-width="0.6"/>
<line x1="195.50" y1="170.95" x2="197.70" y2="170.95" stroke="#2828aa" stroke-width="0.6"/>
<line x1="195.50" y1="167.37" x2="197.70" y2="167.37" stroke="#2828aa" stroke-width="0.6"/>
<circle cx="196.60" cy="169.16" r="1.3" fill="#2828aa"/>
<line x1="208.90" y1="183.68" x2="208.90" y2="179.21" stroke="#2828aa" stroke-width="0.6"/>
<line x1="207.80" y1="183.68" x2="210.00" y2="183.68" stroke="#2828aa" stroke-width="0.6"/>
<line x1="207.80" y1="179.21" x2="210.00" y2="179.21" stroke="#2828aa" stroke-width="0.6"/>
<circle cx="208.90" cy="181.45" r="1.3" fill="#2828aa"/>
<line x1="221.20" y1="195.52" x2="221.20" y2="191.95" stroke="#2828aa" stroke-width="0.6"/>
<line x1="220.10" y1="195.52" x2="222.30" y2="195.52" stroke="#2828aa" stroke-width="0.6"/>
<line x1="220.10" y1="191.95" x2="222.30" y2="191.95" stroke="#2828aa" stroke-width="0.6"/>
<circle cx="221.20" cy="193.74" r="1.3" fill="#2828aa"/>
<line x1="233.50" y1="202.67" x2="233.50" y2="199.99" stroke="#2828aa" stroke-width="0.6"/>
<line x1="232.40" y1="202.67" x2="234.60" y2="202.67" stroke="#2828aa" stroke-width="0.6"/>
<line x1="232.40" y1="199.99" x2="234.60" y2="199.99" stroke="#2828aa" stroke-width="0.6"/>
<circle cx="233.50" cy="201.33" r="1.3" fill="#2828aa"/>
<line x1="245.80" y1="211.39" x2="245.80" y2="206.92" stroke="#2828aa" stroke-width="0.6"/>
<line x1="244.70" y1="211.39" x2="246.90" y2="211.39" stroke="#2828aa" stroke-width="0.6"/>
<line x1="244.70" y1="206.92" x2="246.90" y2="206.92" stroke="#2828aa" stroke-width="0.6"/>
<circle cx="245.80" cy="209.15" r="1.3" fill="#2828aa"/>
<line x1="258.10" y1="216.39" x2="258.10" y2="214.60" stroke="#2828aa" stroke-width="0.6"/>
<line x1="257.00" y1="216.39" x2="259.20" y2="216.39" stroke="#2828aa" stroke-width="0.6"/>
<line x1="257.00" y1="214.60" x2="259.20" y2="214.60" stroke="#2828aa" stroke-width="0.6"/>
<circle cx="258.10" cy="215.50" r="1.3" fill="#2828aa"/>
<text x="175.30" y="266.00" font-size="8.8" font-weight="bold" fill="#1a1a1a" stroke="#1a1a1a" stroke-width="0.18">MEL-JUSO (NRAS<tspan font-size="5.81" dx="0.5" dy="-3.17">Q61L</tspan><tspan dx="0.5" dy="3.17">)</tspan></text>
<text x="0" y="0" font-size="5.9" text-anchor="middle" fill="#1a1a1a" stroke="#1a1a1a" stroke-width="0.08" transform="translate(151.50,301.30) rotate(-90)" dominant-baseline="central">% control pERK1/2</text>
<line x1="168.0" y1="336.59999999999997" x2="168.0" y2="261.9" stroke="#333333" stroke-width="0.95"/>
<line x1="166.4" y1="336.20" x2="168.0" y2="336.20" stroke="#333333" stroke-width="0.95"/>
<text x="165.80" y="338.00" font-size="5.0" text-anchor="end" font-weight="bold" fill="#2a2a2a" stroke="#2a2a2a" stroke-width="0.18">0</text>
<line x1="166.4" y1="325.59" x2="168.0" y2="325.59" stroke="#333333" stroke-width="0.95"/>
<text x="165.80" y="327.39" font-size="5.0" text-anchor="end" font-weight="bold" fill="#2a2a2a" stroke="#2a2a2a" stroke-width="0.18">25</text>
<line x1="166.4" y1="314.97" x2="168.0" y2="314.97" stroke="#333333" stroke-width="0.95"/>
<text x="165.80" y="316.77" font-size="5.0" text-anchor="end" font-weight="bold" fill="#2a2a2a" stroke="#2a2a2a" stroke-width="0.18">50</text>
<line x1="166.4" y1="304.36" x2="168.0" y2="304.36" stroke="#333333" stroke-width="0.95"/>
<text x="165.80" y="306.16" font-size="5.0" text-anchor="end" font-weight="bold" fill="#2a2a2a" stroke="#2a2a2a" stroke-width="0.18">75</text>
<line x1="166.4" y1="293.74" x2="168.0" y2="293.74" stroke="#333333" stroke-width="0.95"/>
<text x="165.80" y="295.54" font-size="5.0" text-anchor="end" font-weight="bold" fill="#2a2a2a" stroke="#2a2a2a" stroke-width="0.18">100</text>
<line x1="166.4" y1="283.13" x2="168.0" y2="283.13" stroke="#333333" stroke-width="0.95"/>
<text x="165.80" y="284.93" font-size="5.0" text-anchor="end" font-weight="bold" fill="#2a2a2a" stroke="#2a2a2a" stroke-width="0.18">125</text>
<line x1="166.4" y1="272.51" x2="168.0" y2="272.51" stroke="#333333" stroke-width="0.95"/>
<text x="165.80" y="274.31" font-size="5.0" text-anchor="end" font-weight="bold" fill="#2a2a2a" stroke="#2a2a2a" stroke-width="0.18">150</text>
<line x1="166.4" y1="261.90" x2="168.0" y2="261.90" stroke="#333333" stroke-width="0.95"/>
<text x="165.80" y="263.70" font-size="5.0" text-anchor="end" font-weight="bold" fill="#2a2a2a" stroke="#2a2a2a" stroke-width="0.18">175</text>
<line x1="167.6" y1="336.2" x2="270" y2="336.2" stroke="#333333" stroke-width="0.95"/>
<line x1="176.50" y1="336.2" x2="176.50" y2="337.5" stroke="#333333" stroke-width="0.95"/>
<text x="0" y="0" font-size="5.5" font-weight="bold" text-anchor="end" fill="#2a2a2a" stroke="#2a2a2a" stroke-width="0.1" transform="translate(178.50,342.70) rotate(-45)">0.0</text>
<line x1="188.58" y1="336.2" x2="188.58" y2="337.5" stroke="#333333" stroke-width="0.95"/>
<text x="0" y="0" font-size="5.5" font-weight="bold" text-anchor="end" fill="#2a2a2a" stroke="#2a2a2a" stroke-width="0.1" transform="translate(190.58,342.70) rotate(-45)">2.4</text>
<line x1="200.66" y1="336.2" x2="200.66" y2="337.5" stroke="#333333" stroke-width="0.95"/>
<text x="0" y="0" font-size="5.5" font-weight="bold" text-anchor="end" fill="#2a2a2a" stroke="#2a2a2a" stroke-width="0.1" transform="translate(202.66,342.70) rotate(-45)">9.8</text>
<line x1="212.74" y1="336.2" x2="212.74" y2="337.5" stroke="#333333" stroke-width="0.95"/>
<text x="0" y="0" font-size="5.5" font-weight="bold" text-anchor="end" fill="#2a2a2a" stroke="#2a2a2a" stroke-width="0.1" transform="translate(214.74,342.70) rotate(-45)">39.1</text>
<line x1="224.82" y1="336.2" x2="224.82" y2="337.5" stroke="#333333" stroke-width="0.95"/>
<text x="0" y="0" font-size="5.5" font-weight="bold" text-anchor="end" fill="#2a2a2a" stroke="#2a2a2a" stroke-width="0.1" transform="translate(226.82,342.70) rotate(-45)">156.3</text>
<line x1="236.90" y1="336.2" x2="236.90" y2="337.5" stroke="#333333" stroke-width="0.95"/>
<text x="0" y="0" font-size="5.5" font-weight="bold" text-anchor="end" fill="#2a2a2a" stroke="#2a2a2a" stroke-width="0.1" transform="translate(238.90,342.70) rotate(-45)">625.0</text>
<line x1="248.98" y1="336.2" x2="248.98" y2="337.5" stroke="#333333" stroke-width="0.95"/>
<text x="0" y="0" font-size="5.5" font-weight="bold" text-anchor="end" fill="#2a2a2a" stroke="#2a2a2a" stroke-width="0.1" transform="translate(250.98,342.70) rotate(-45)">2,500.0</text>
<line x1="261.06" y1="336.2" x2="261.06" y2="337.5" stroke="#333333" stroke-width="0.95"/>
<text x="0" y="0" font-size="5.5" font-weight="bold" text-anchor="end" fill="#2a2a2a" stroke="#2a2a2a" stroke-width="0.1" transform="translate(263.06,342.70) rotate(-45)">10,000.0</text>
<text x="222.40" y="363.30" font-size="5.6" text-anchor="middle" font-weight="normal" fill="#1a1a1a" stroke="#1a1a1a" stroke-width="0.12" >LXH254 (nmol/L)</text>
<line x1="168.5" y1="293.74" x2="270" y2="293.74" stroke="#8a8a8a" stroke-width="0.75" stroke-dasharray="1,0.9"/>
<polyline points="176.50,293.74 188.58,285.25 200.66,289.07 212.74,280.33 224.82,289.50 236.90,294.59 248.98,320.70 261.06,330.68" fill="none" stroke="#88224e" stroke-width="1.0" stroke-linejoin="round"/>
<path d="M176.50,292.18L178.06,294.91L174.94,294.91Z" fill="#88224e"/>
<line x1="188.58" y1="286.53" x2="188.58" y2="283.98" stroke="#88224e" stroke-width="0.6"/>
<line x1="187.48" y1="286.53" x2="189.68" y2="286.53" stroke="#88224e" stroke-width="0.6"/>
<line x1="187.48" y1="283.98" x2="189.68" y2="283.98" stroke="#88224e" stroke-width="0.6"/>
<path d="M188.58,283.69L190.14,286.42L187.02,286.42Z" fill="#88224e"/>
<line x1="200.66" y1="294.59" x2="200.66" y2="283.55" stroke="#88224e" stroke-width="0.6"/>
<line x1="199.56" y1="294.59" x2="201.76" y2="294.59" stroke="#88224e" stroke-width="0.6"/>
<line x1="199.56" y1="283.55" x2="201.76" y2="283.55" stroke="#88224e" stroke-width="0.6"/>
<path d="M200.66,287.51L202.22,290.24L199.10,290.24Z" fill="#88224e"/>
<line x1="212.74" y1="287.97" x2="212.74" y2="272.68" stroke="#88224e" stroke-width="0.6"/>
<line x1="211.64" y1="287.97" x2="213.84" y2="287.97" stroke="#88224e" stroke-width="0.6"/>
<line x1="211.64" y1="272.68" x2="213.84" y2="272.68" stroke="#88224e" stroke-width="0.6"/>
<path d="M212.74,278.77L214.30,281.50L211.18,281.50Z" fill="#88224e"/>
<line x1="224.82" y1="289.92" x2="224.82" y2="289.07" stroke="#88224e" stroke-width="0.6"/>
<line x1="223.72" y1="289.92" x2="225.92" y2="289.92" stroke="#88224e" stroke-width="0.6"/>
<line x1="223.72" y1="289.07" x2="225.92" y2="289.07" stroke="#88224e" stroke-width="0.6"/>
<path d="M224.82,287.94L226.38,290.67L223.26,290.67Z" fill="#88224e"/>
<line x1="236.90" y1="295.02" x2="236.90" y2="294.17" stroke="#88224e" stroke-width="0.6"/>
<line x1="235.80" y1="295.02" x2="238.00" y2="295.02" stroke="#88224e" stroke-width="0.6"/>
<line x1="235.80" y1="294.17" x2="238.00" y2="294.17" stroke="#88224e" stroke-width="0.6"/>
<path d="M236.90,293.03L238.46,295.76L235.34,295.76Z" fill="#88224e"/>
<line x1="248.98" y1="321.13" x2="248.98" y2="320.28" stroke="#88224e" stroke-width="0.6"/>
<line x1="247.88" y1="321.13" x2="250.08" y2="321.13" stroke="#88224e" stroke-width="0.6"/>
<line x1="247.88" y1="320.28" x2="250.08" y2="320.28" stroke="#88224e" stroke-width="0.6"/>
<path d="M248.98,319.14L250.54,321.87L247.42,321.87Z" fill="#88224e"/>
<line x1="261.06" y1="331.11" x2="261.06" y2="330.26" stroke="#88224e" stroke-width="0.6"/>
<line x1="259.96" y1="331.11" x2="262.16" y2="331.11" stroke="#88224e" stroke-width="0.6"/>
<line x1="259.96" y1="330.26" x2="262.16" y2="330.26" stroke="#88224e" stroke-width="0.6"/>
<path d="M261.06,329.12L262.62,331.85L259.50,331.85Z" fill="#88224e"/>
<polyline points="176.50,293.74 188.58,286.95 200.66,317.09 212.74,325.29 224.82,329.19 236.90,330.68 248.98,332.38 261.06,332.80" fill="none" stroke="#5690cc" stroke-width="1.0" stroke-linejoin="round"/>
<path d="M176.50,295.30L178.06,292.57L174.94,292.57Z" fill="#5690cc"/>
<line x1="188.58" y1="288.22" x2="188.58" y2="285.68" stroke="#5690cc" stroke-width="0.6"/>
<line x1="187.48" y1="288.22" x2="189.68" y2="288.22" stroke="#5690cc" stroke-width="0.6"/>
<line x1="187.48" y1="285.68" x2="189.68" y2="285.68" stroke="#5690cc" stroke-width="0.6"/>
<path d="M188.58,288.51L190.14,285.78L187.02,285.78Z" fill="#5690cc"/>
<line x1="200.66" y1="317.94" x2="200.66" y2="316.25" stroke="#5690cc" stroke-width="0.6"/>
<line x1="199.56" y1="317.94" x2="201.76" y2="317.94" stroke="#5690cc" stroke-width="0.6"/>
<line x1="199.56" y1="316.25" x2="201.76" y2="316.25" stroke="#5690cc" stroke-width="0.6"/>
<path d="M200.66,318.65L202.22,315.92L199.10,315.92Z" fill="#5690cc"/>
<line x1="212.74" y1="326.14" x2="212.74" y2="324.44" stroke="#5690cc" stroke-width="0.6"/>
<line x1="211.64" y1="326.14" x2="213.84" y2="326.14" stroke="#5690cc" stroke-width="0.6"/>
<line x1="211.64" y1="324.44" x2="213.84" y2="324.44" stroke="#5690cc" stroke-width="0.6"/>
<path d="M212.74,326.85L214.30,324.12L211.18,324.12Z" fill="#5690cc"/>
<line x1="224.82" y1="329.62" x2="224.82" y2="328.77" stroke="#5690cc" stroke-width="0.6"/>
<line x1="223.72" y1="329.62" x2="225.92" y2="329.62" stroke="#5690cc" stroke-width="0.6"/>
<line x1="223.72" y1="328.77" x2="225.92" y2="328.77" stroke="#5690cc" stroke-width="0.6"/>
<path d="M224.82,330.75L226.38,328.02L223.26,328.02Z" fill="#5690cc"/>
<line x1="236.90" y1="331.11" x2="236.90" y2="330.26" stroke="#5690cc" stroke-width="0.6"/>
<line x1="235.80" y1="331.11" x2="238.00" y2="331.11" stroke="#5690cc" stroke-width="0.6"/>
<line x1="235.80" y1="330.26" x2="238.00" y2="330.26" stroke="#5690cc" stroke-width="0.6"/>
<path d="M236.90,332.24L238.46,329.51L235.34,329.51Z" fill="#5690cc"/>
<line x1="248.98" y1="332.80" x2="248.98" y2="331.95" stroke="#5690cc" stroke-width="0.6"/>
<line x1="247.88" y1="332.80" x2="250.08" y2="332.80" stroke="#5690cc" stroke-width="0.6"/>
<line x1="247.88" y1="331.95" x2="250.08" y2="331.95" stroke="#5690cc" stroke-width="0.6"/>
<path d="M248.98,333.94L250.54,331.21L247.42,331.21Z" fill="#5690cc"/>
<line x1="261.06" y1="333.23" x2="261.06" y2="332.38" stroke="#5690cc" stroke-width="0.6"/>
<line x1="259.96" y1="333.23" x2="262.16" y2="333.23" stroke="#5690cc" stroke-width="0.6"/>
<line x1="259.96" y1="332.38" x2="262.16" y2="332.38" stroke="#5690cc" stroke-width="0.6"/>
<path d="M261.06,334.36L262.62,331.63L259.50,331.63Z" fill="#5690cc"/>
<polyline points="176.50,293.74 188.58,286.10 200.66,309.15 212.74,322.27 224.82,328.30 236.90,329.87 248.98,332.21 261.06,332.97" fill="none" stroke="#2828aa" stroke-width="1.0" stroke-linejoin="round"/>
<line x1="176.50" y1="295.87" x2="176.50" y2="291.62" stroke="#2828aa" stroke-width="0.6"/>
<line x1="175.40" y1="295.87" x2="177.60" y2="295.87" stroke="#2828aa" stroke-width="0.6"/>
<line x1="175.40" y1="291.62" x2="177.60" y2="291.62" stroke="#2828aa" stroke-width="0.6"/>
<circle cx="176.50" cy="293.74" r="1.3" fill="#2828aa"/>
<line x1="188.58" y1="287.37" x2="188.58" y2="284.83" stroke="#2828aa" stroke-width="0.6"/>
<line x1="187.48" y1="287.37" x2="189.68" y2="287.37" stroke="#2828aa" stroke-width="0.6"/>
<line x1="187.48" y1="284.83" x2="189.68" y2="284.83" stroke="#2828aa" stroke-width="0.6"/>
<circle cx="188.58" cy="286.10" r="1.3" fill="#2828aa"/>
<line x1="200.66" y1="310.85" x2="200.66" y2="307.46" stroke="#2828aa" stroke-width="0.6"/>
<line x1="199.56" y1="310.85" x2="201.76" y2="310.85" stroke="#2828aa" stroke-width="0.6"/>
<line x1="199.56" y1="307.46" x2="201.76" y2="307.46" stroke="#2828aa" stroke-width="0.6"/>
<circle cx="200.66" cy="309.15" r="1.3" fill="#2828aa"/>
<line x1="212.74" y1="323.12" x2="212.74" y2="321.42" stroke="#2828aa" stroke-width="0.6"/>
<line x1="211.64" y1="323.12" x2="213.84" y2="323.12" stroke="#2828aa" stroke-width="0.6"/>
<line x1="211.64" y1="321.42" x2="213.84" y2="321.42" stroke="#2828aa" stroke-width="0.6"/>
<circle cx="212.74" cy="322.27" r="1.3" fill="#2828aa"/>
<line x1="224.82" y1="328.73" x2="224.82" y2="327.88" stroke="#2828aa" stroke-width="0.6"/>
<line x1="223.72" y1="328.73" x2="225.92" y2="328.73" stroke="#2828aa" stroke-width="0.6"/>
<line x1="223.72" y1="327.88" x2="225.92" y2="327.88" stroke="#2828aa" stroke-width="0.6"/>
<circle cx="224.82" cy="328.30" r="1.3" fill="#2828aa"/>
<line x1="236.90" y1="330.30" x2="236.90" y2="329.45" stroke="#2828aa" stroke-width="0.6"/>
<line x1="235.80" y1="330.30" x2="238.00" y2="330.30" stroke="#2828aa" stroke-width="0.6"/>
<line x1="235.80" y1="329.45" x2="238.00" y2="329.45" stroke="#2828aa" stroke-width="0.6"/>
<circle cx="236.90" cy="329.87" r="1.3" fill="#2828aa"/>
<line x1="248.98" y1="332.63" x2="248.98" y2="331.78" stroke="#2828aa" stroke-width="0.6"/>
<line x1="247.88" y1="332.63" x2="250.08" y2="332.63" stroke="#2828aa" stroke-width="0.6"/>
<line x1="247.88" y1="331.78" x2="250.08" y2="331.78" stroke="#2828aa" stroke-width="0.6"/>
<circle cx="248.98" cy="332.21" r="1.3" fill="#2828aa"/>
<line x1="261.06" y1="333.40" x2="261.06" y2="332.55" stroke="#2828aa" stroke-width="0.6"/>
<line x1="259.96" y1="333.40" x2="262.16" y2="333.40" stroke="#2828aa" stroke-width="0.6"/>
<line x1="259.96" y1="332.55" x2="262.16" y2="332.55" stroke="#2828aa" stroke-width="0.6"/>
<circle cx="261.06" cy="332.97" r="1.3" fill="#2828aa"/>
<text x="353.90" y="18.70" font-size="8.8" font-weight="bold" fill="#1a1a1a" stroke="#1a1a1a" stroke-width="0.18">MIA PaCa-2 (KRAS<tspan font-size="5.81" dx="0.5" dy="-3.17">G12C</tspan><tspan dx="0.5" dy="3.17">)</tspan></text>
<text x="0" y="0" font-size="5.8" text-anchor="middle" fill="#1a1a1a" stroke="#1a1a1a" stroke-width="0.08" transform="translate(327.10,62.30) rotate(-90)" dominant-baseline="central">% control pERK1/2</text>
<line x1="344.4" y1="104.80000000000001" x2="344.4" y2="22.1" stroke="#333333" stroke-width="0.95"/>
<line x1="342.79999999999995" y1="104.40" x2="344.4" y2="104.40" stroke="#333333" stroke-width="0.95"/>
<text x="342.20" y="106.20" font-size="5.0" text-anchor="end" font-weight="bold" fill="#2a2a2a" stroke="#2a2a2a" stroke-width="0.18">0</text>
<line x1="342.79999999999995" y1="76.97" x2="344.4" y2="76.97" stroke="#333333" stroke-width="0.95"/>
<text x="342.20" y="78.77" font-size="5.0" text-anchor="end" font-weight="bold" fill="#2a2a2a" stroke="#2a2a2a" stroke-width="0.18">200</text>
<line x1="342.79999999999995" y1="49.53" x2="344.4" y2="49.53" stroke="#333333" stroke-width="0.95"/>
<text x="342.20" y="51.33" font-size="5.0" text-anchor="end" font-weight="bold" fill="#2a2a2a" stroke="#2a2a2a" stroke-width="0.18">400</text>
<line x1="342.79999999999995" y1="22.10" x2="344.4" y2="22.10" stroke="#333333" stroke-width="0.95"/>
<text x="342.20" y="23.90" font-size="5.0" text-anchor="end" font-weight="bold" fill="#2a2a2a" stroke="#2a2a2a" stroke-width="0.18">600</text>
<line x1="344.0" y1="104.4" x2="449.2" y2="104.4" stroke="#333333" stroke-width="0.95"/>
<line x1="353.80" y1="104.4" x2="353.80" y2="105.7" stroke="#333333" stroke-width="0.95"/>
<text x="0" y="0" font-size="5.5" font-weight="bold" text-anchor="end" fill="#2a2a2a" stroke="#2a2a2a" stroke-width="0.1" transform="translate(356.20,110.60) rotate(-45)">0.0</text>
<line x1="366.25" y1="104.4" x2="366.25" y2="105.7" stroke="#333333" stroke-width="0.95"/>
<text x="0" y="0" font-size="5.5" font-weight="bold" text-anchor="end" fill="#2a2a2a" stroke="#2a2a2a" stroke-width="0.1" transform="translate(368.65,110.60) rotate(-45)">2.4</text>
<line x1="378.70" y1="104.4" x2="378.70" y2="105.7" stroke="#333333" stroke-width="0.95"/>
<text x="0" y="0" font-size="5.5" font-weight="bold" text-anchor="end" fill="#2a2a2a" stroke="#2a2a2a" stroke-width="0.1" transform="translate(381.10,110.60) rotate(-45)">9.8</text>
<line x1="391.15" y1="104.4" x2="391.15" y2="105.7" stroke="#333333" stroke-width="0.95"/>
<text x="0" y="0" font-size="5.5" font-weight="bold" text-anchor="end" fill="#2a2a2a" stroke="#2a2a2a" stroke-width="0.1" transform="translate(393.55,110.60) rotate(-45)">39.1</text>
<line x1="403.60" y1="104.4" x2="403.60" y2="105.7" stroke="#333333" stroke-width="0.95"/>
<text x="0" y="0" font-size="5.5" font-weight="bold" text-anchor="end" fill="#2a2a2a" stroke="#2a2a2a" stroke-width="0.1" transform="translate(406.00,110.60) rotate(-45)">156.3</text>
<line x1="416.05" y1="104.4" x2="416.05" y2="105.7" stroke="#333333" stroke-width="0.95"/>
<text x="0" y="0" font-size="5.5" font-weight="bold" text-anchor="end" fill="#2a2a2a" stroke="#2a2a2a" stroke-width="0.1" transform="translate(418.45,110.60) rotate(-45)">625.0</text>
<line x1="428.50" y1="104.4" x2="428.50" y2="105.7" stroke="#333333" stroke-width="0.95"/>
<text x="0" y="0" font-size="5.5" font-weight="bold" text-anchor="end" fill="#2a2a2a" stroke="#2a2a2a" stroke-width="0.1" transform="translate(430.90,110.60) rotate(-45)">2,500.0</text>
<line x1="440.95" y1="104.4" x2="440.95" y2="105.7" stroke="#333333" stroke-width="0.95"/>
<text x="0" y="0" font-size="5.5" font-weight="bold" text-anchor="end" fill="#2a2a2a" stroke="#2a2a2a" stroke-width="0.1" transform="translate(443.35,110.60) rotate(-45)">10,000.0</text>
<text x="402.30" y="134.10" font-size="5.8" text-anchor="middle" font-weight="normal" fill="#1a1a1a" stroke="#1a1a1a" stroke-width="0.12" >Dabrafenib (nmol/L)</text>
<line x1="345" y1="90.68" x2="449.2" y2="90.68" stroke="#8a8a8a" stroke-width="0.75" stroke-dasharray="1,0.9"/>
<polyline points="353.80,90.68 366.25,92.74 378.70,92.74 391.15,92.06 403.60,85.75 416.05,80.67 428.50,86.57 440.95,100.01" fill="none" stroke="#88224e" stroke-width="1.0" stroke-linejoin="round"/>
<path d="M353.80,89.12L355.36,91.85L352.24,91.85Z" fill="#88224e"/>
<line x1="366.25" y1="93.15" x2="366.25" y2="92.33" stroke="#88224e" stroke-width="0.6"/>
<line x1="365.15" y1="93.15" x2="367.35" y2="93.15" stroke="#88224e" stroke-width="0.6"/>
<line x1="365.15" y1="92.33" x2="367.35" y2="92.33" stroke="#88224e" stroke-width="0.6"/>
<path d="M366.25,91.18L367.81,93.91L364.69,93.91Z" fill="#88224e"/>
<line x1="378.70" y1="93.02" x2="378.70" y2="92.47" stroke="#88224e" stroke-width="0.6"/>
<line x1="377.60" y1="93.02" x2="379.80" y2="93.02" stroke="#88224e" stroke-width="0.6"/>
<line x1="377.60" y1="92.47" x2="379.80" y2="92.47" stroke="#88224e" stroke-width="0.6"/>
<path d="M378.70,91.18L380.26,93.91L377.14,93.91Z" fill="#88224e"/>
<line x1="391.15" y1="92.47" x2="391.15" y2="91.64" stroke="#88224e" stroke-width="0.6"/>
<line x1="390.05" y1="92.47" x2="392.25" y2="92.47" stroke="#88224e" stroke-width="0.6"/>
<line x1="390.05" y1="91.64" x2="392.25" y2="91.64" stroke="#88224e" stroke-width="0.6"/>
<path d="M391.15,90.50L392.71,93.23L389.59,93.23Z" fill="#88224e"/>
<line x1="403.60" y1="86.16" x2="403.60" y2="85.33" stroke="#88224e" stroke-width="0.6"/>
<line x1="402.50" y1="86.16" x2="404.70" y2="86.16" stroke="#88224e" stroke-width="0.6"/>
<line x1="402.50" y1="85.33" x2="404.70" y2="85.33" stroke="#88224e" stroke-width="0.6"/>
<path d="M403.60,84.19L405.16,86.92L402.04,86.92Z" fill="#88224e"/>
<line x1="416.05" y1="81.08" x2="416.05" y2="80.26" stroke="#88224e" stroke-width="0.6"/>
<line x1="414.95" y1="81.08" x2="417.15" y2="81.08" stroke="#88224e" stroke-width="0.6"/>
<line x1="414.95" y1="80.26" x2="417.15" y2="80.26" stroke="#88224e" stroke-width="0.6"/>
<path d="M416.05,79.11L417.61,81.84L414.49,81.84Z" fill="#88224e"/>
<line x1="428.50" y1="86.98" x2="428.50" y2="86.16" stroke="#88224e" stroke-width="0.6"/>
<line x1="427.40" y1="86.98" x2="429.60" y2="86.98" stroke="#88224e" stroke-width="0.6"/>
<line x1="427.40" y1="86.16" x2="429.60" y2="86.16" stroke="#88224e" stroke-width="0.6"/>
<path d="M428.50,85.01L430.06,87.74L426.94,87.74Z" fill="#88224e"/>
<line x1="440.95" y1="100.42" x2="440.95" y2="99.60" stroke="#88224e" stroke-width="0.6"/>
<line x1="439.85" y1="100.42" x2="442.05" y2="100.42" stroke="#88224e" stroke-width="0.6"/>
<line x1="439.85" y1="99.60" x2="442.05" y2="99.60" stroke="#88224e" stroke-width="0.6"/>
<path d="M440.95,98.45L442.51,101.18L439.39,101.18Z" fill="#88224e"/>
<polyline points="353.80,90.68 366.25,89.17 378.70,88.21 391.15,87.39 403.60,86.57 416.05,89.17 428.50,97.95 440.95,102.62" fill="none" stroke="#25a07c" stroke-width="1.0" stroke-linejoin="round"/>
<line x1="353.80" y1="91.37" x2="353.80" y2="90.00" stroke="#25a07c" stroke-width="0.6"/>
<line x1="352.70" y1="91.37" x2="354.90" y2="91.37" stroke="#25a07c" stroke-width="0.6"/>
<line x1="352.70" y1="90.00" x2="354.90" y2="90.00" stroke="#25a07c" stroke-width="0.6"/>
<rect x="352.50" y="89.38" width="2.6" height="2.6" fill="#25a07c"/>
<line x1="366.25" y1="90.55" x2="366.25" y2="87.80" stroke="#25a07c" stroke-width="0.6"/>
<line x1="365.15" y1="90.55" x2="367.35" y2="90.55" stroke="#25a07c" stroke-width="0.6"/>
<line x1="365.15" y1="87.80" x2="367.35" y2="87.80" stroke="#25a07c" stroke-width="0.6"/>
<rect x="364.95" y="87.87" width="2.6" height="2.6" fill="#25a07c"/>
<line x1="378.70" y1="88.90" x2="378.70" y2="87.53" stroke="#25a07c" stroke-width="0.6"/>
<line x1="377.60" y1="88.90" x2="379.80" y2="88.90" stroke="#25a07c" stroke-width="0.6"/>
<line x1="377.60" y1="87.53" x2="379.80" y2="87.53" stroke="#25a07c" stroke-width="0.6"/>
<rect x="377.40" y="86.91" width="2.6" height="2.6" fill="#25a07c"/>
<line x1="391.15" y1="89.45" x2="391.15" y2="85.33" stroke="#25a07c" stroke-width="0.6"/>
<line x1="390.05" y1="89.45" x2="392.25" y2="89.45" stroke="#25a07c" stroke-width="0.6"/>
<line x1="390.05" y1="85.33" x2="392.25" y2="85.33" stroke="#25a07c" stroke-width="0.6"/>
<rect x="389.85" y="86.09" width="2.6" height="2.6" fill="#25a07c"/>
<line x1="403.60" y1="88.63" x2="403.60" y2="84.51" stroke="#25a07c" stroke-width="0.6"/>
<line x1="402.50" y1="88.63" x2="404.70" y2="88.63" stroke="#25a07c" stroke-width="0.6"/>
<line x1="402.50" y1="84.51" x2="404.70" y2="84.51" stroke="#25a07c" stroke-width="0.6"/>
<rect x="402.30" y="85.27" width="2.6" height="2.6" fill="#25a07c"/>
<line x1="416.05" y1="89.86" x2="416.05" y2="88.49" stroke="#25a07c" stroke-width="0.6"/>
<line x1="414.95" y1="89.86" x2="417.15" y2="89.86" stroke="#25a07c" stroke-width="0.6"/>
<line x1="414.95" y1="88.49" x2="417.15" y2="88.49" stroke="#25a07c" stroke-width="0.6"/>
<rect x="414.75" y="87.87" width="2.6" height="2.6" fill="#25a07c"/>
<line x1="428.50" y1="98.64" x2="428.50" y2="97.27" stroke="#25a07c" stroke-width="0.6"/>
<line x1="427.40" y1="98.64" x2="429.60" y2="98.64" stroke="#25a07c" stroke-width="0.6"/>
<line x1="427.40" y1="97.27" x2="429.60" y2="97.27" stroke="#25a07c" stroke-width="0.6"/>
<rect x="427.20" y="96.65" width="2.6" height="2.6" fill="#25a07c"/>
<line x1="440.95" y1="103.03" x2="440.95" y2="102.21" stroke="#25a07c" stroke-width="0.6"/>
<line x1="439.85" y1="103.03" x2="442.05" y2="103.03" stroke="#25a07c" stroke-width="0.6"/>
<line x1="439.85" y1="102.21" x2="442.05" y2="102.21" stroke="#25a07c" stroke-width="0.6"/>
<rect x="439.65" y="101.32" width="2.6" height="2.6" fill="#25a07c"/>
<polyline points="353.80,90.68 366.25,84.92 378.70,77.52 391.15,65.31 403.60,45.42 416.05,40.21 428.50,54.88 440.95,86.57" fill="none" stroke="#5690cc" stroke-width="1.0" stroke-linejoin="round"/>
<line x1="353.80" y1="91.78" x2="353.80" y2="89.59" stroke="#5690cc" stroke-width="0.6"/>
<line x1="352.70" y1="91.78" x2="354.90" y2="91.78" stroke="#5690cc" stroke-width="0.6"/>
<line x1="352.70" y1="89.59" x2="354.90" y2="89.59" stroke="#5690cc" stroke-width="0.6"/>
<path d="M353.80,92.24L355.36,89.51L352.24,89.51Z" fill="#5690cc"/>
<line x1="366.25" y1="86.57" x2="366.25" y2="83.28" stroke="#5690cc" stroke-width="0.6"/>
<line x1="365.15" y1="86.57" x2="367.35" y2="86.57" stroke="#5690cc" stroke-width="0.6"/>
<line x1="365.15" y1="83.28" x2="367.35" y2="83.28" stroke="#5690cc" stroke-width="0.6"/>
<path d="M366.25,86.48L367.81,83.75L364.69,83.75Z" fill="#5690cc"/>
<line x1="378.70" y1="79.57" x2="378.70" y2="75.46" stroke="#5690cc" stroke-width="0.6"/>
<line x1="377.60" y1="79.57" x2="379.80" y2="79.57" stroke="#5690cc" stroke-width="0.6"/>
<line x1="377.60" y1="75.46" x2="379.80" y2="75.46" stroke="#5690cc" stroke-width="0.6"/>
<path d="M378.70,79.08L380.26,76.35L377.14,76.35Z" fill="#5690cc"/>
<line x1="391.15" y1="70.79" x2="391.15" y2="59.82" stroke="#5690cc" stroke-width="0.6"/>
<line x1="390.05" y1="70.79" x2="392.25" y2="70.79" stroke="#5690cc" stroke-width="0.6"/>
<line x1="390.05" y1="59.82" x2="392.25" y2="59.82" stroke="#5690cc" stroke-width="0.6"/>
<path d="M391.15,66.87L392.71,64.14L389.59,64.14Z" fill="#5690cc"/>
<line x1="403.60" y1="50.91" x2="403.60" y2="39.93" stroke="#5690cc" stroke-width="0.6"/>
<line x1="402.50" y1="50.91" x2="404.70" y2="50.91" stroke="#5690cc" stroke-width="0.6"/>
<line x1="402.50" y1="39.93" x2="404.70" y2="39.93" stroke="#5690cc" stroke-width="0.6"/>
<path d="M403.60,46.98L405.16,44.25L402.04,44.25Z" fill="#5690cc"/>
<line x1="416.05" y1="49.81" x2="416.05" y2="30.60" stroke="#5690cc" stroke-width="0.6"/>
<line x1="414.95" y1="49.81" x2="417.15" y2="49.81" stroke="#5690cc" stroke-width="0.6"/>
<line x1="414.95" y1="30.60" x2="417.15" y2="30.60" stroke="#5690cc" stroke-width="0.6"/>
<path d="M416.05,41.77L417.61,39.04L414.49,39.04Z" fill="#5690cc"/>
<line x1="428.50" y1="55.57" x2="428.50" y2="54.20" stroke="#5690cc" stroke-width="0.6"/>
<line x1="427.40" y1="55.57" x2="429.60" y2="55.57" stroke="#5690cc" stroke-width="0.6"/>
<line x1="427.40" y1="54.20" x2="429.60" y2="54.20" stroke="#5690cc" stroke-width="0.6"/>
<path d="M428.50,56.44L430.06,53.71L426.94,53.71Z" fill="#5690cc"/>
<line x1="440.95" y1="87.94" x2="440.95" y2="85.20" stroke="#5690cc" stroke-width="0.6"/>
<line x1="439.85" y1="87.94" x2="442.05" y2="87.94" stroke="#5690cc" stroke-width="0.6"/>
<line x1="439.85" y1="85.20" x2="442.05" y2="85.20" stroke="#5690cc" stroke-width="0.6"/>
<path d="M440.95,88.13L442.51,85.40L439.39,85.40Z" fill="#5690cc"/>
<polyline points="353.80,90.41 366.25,90.41 378.70,88.08 391.15,77.65 403.60,60.37 416.05,47.89 428.50,48.44 440.95,84.51" fill="none" stroke="#2828aa" stroke-width="1.0" stroke-linejoin="round"/>
<line x1="353.80" y1="91.51" x2="353.80" y2="89.31" stroke="#2828aa" stroke-width="0.6"/>
<line x1="352.70" y1="91.51" x2="354.90" y2="91.51" stroke="#2828aa" stroke-width="0.6"/>
<line x1="352.70" y1="89.31" x2="354.90" y2="89.31" stroke="#2828aa" stroke-width="0.6"/>
<circle cx="353.80" cy="90.41" r="1.3" fill="#2828aa"/>
<line x1="366.25" y1="91.51" x2="366.25" y2="89.31" stroke="#2828aa" stroke-width="0.6"/>
<line x1="365.15" y1="91.51" x2="367.35" y2="91.51" stroke="#2828aa" stroke-width="0.6"/>
<line x1="365.15" y1="89.31" x2="367.35" y2="89.31" stroke="#2828aa" stroke-width="0.6"/>
<circle cx="366.25" cy="90.41" r="1.3" fill="#2828aa"/>
<line x1="378.70" y1="88.76" x2="378.70" y2="87.39" stroke="#2828aa" stroke-width="0.6"/>
<line x1="377.60" y1="88.76" x2="379.80" y2="88.76" stroke="#2828aa" stroke-width="0.6"/>
<line x1="377.60" y1="87.39" x2="379.80" y2="87.39" stroke="#2828aa" stroke-width="0.6"/>
<circle cx="378.70" cy="88.08" r="1.3" fill="#2828aa"/>
<line x1="391.15" y1="79.02" x2="391.15" y2="76.28" stroke="#2828aa" stroke-width="0.6"/>
<line x1="390.05" y1="79.02" x2="392.25" y2="79.02" stroke="#2828aa" stroke-width="0.6"/>
<line x1="390.05" y1="76.28" x2="392.25" y2="76.28" stroke="#2828aa" stroke-width="0.6"/>
<circle cx="391.15" cy="77.65" r="1.3" fill="#2828aa"/>
<line x1="403.60" y1="62.43" x2="403.60" y2="58.31" stroke="#2828aa" stroke-width="0.6"/>
<line x1="402.50" y1="62.43" x2="404.70" y2="62.43" stroke="#2828aa" stroke-width="0.6"/>
<line x1="402.50" y1="58.31" x2="404.70" y2="58.31" stroke="#2828aa" stroke-width="0.6"/>
<circle cx="403.60" cy="60.37" r="1.3" fill="#2828aa"/>
<line x1="416.05" y1="54.75" x2="416.05" y2="41.03" stroke="#2828aa" stroke-width="0.6"/>
<line x1="414.95" y1="54.75" x2="417.15" y2="54.75" stroke="#2828aa" stroke-width="0.6"/>
<line x1="414.95" y1="41.03" x2="417.15" y2="41.03" stroke="#2828aa" stroke-width="0.6"/>
<circle cx="416.05" cy="47.89" r="1.3" fill="#2828aa"/>
<line x1="428.50" y1="49.12" x2="428.50" y2="47.75" stroke="#2828aa" stroke-width="0.6"/>
<line x1="427.40" y1="49.12" x2="429.60" y2="49.12" stroke="#2828aa" stroke-width="0.6"/>
<line x1="427.40" y1="47.75" x2="429.60" y2="47.75" stroke="#2828aa" stroke-width="0.6"/>
<circle cx="428.50" cy="48.44" r="1.3" fill="#2828aa"/>
<line x1="440.95" y1="85.88" x2="440.95" y2="83.14" stroke="#2828aa" stroke-width="0.6"/>
<line x1="439.85" y1="85.88" x2="442.05" y2="85.88" stroke="#2828aa" stroke-width="0.6"/>
<line x1="439.85" y1="83.14" x2="442.05" y2="83.14" stroke="#2828aa" stroke-width="0.6"/>
<circle cx="440.95" cy="84.51" r="1.3" fill="#2828aa"/>
<rect x="452" y="32.6" width="66" height="59.8" fill="none" stroke="#555" stroke-width="0.9"/>
<line x1="460.4" y1="43.4" x2="470.7" y2="43.4" stroke="#2828aa" stroke-width="1"/>
<circle cx="465.80" cy="43.40" r="1.6" fill="#2828aa"/>
<text x="476.30" y="46.00" font-size="7.4" text-anchor="start" font-weight="normal" fill="#222" stroke="#222" stroke-width="0.12" >Parental</text>
<line x1="460.4" y1="56.599999999999994" x2="470.7" y2="56.599999999999994" stroke="#88224e" stroke-width="1"/>
<path d="M465.80,54.68L467.72,58.04L463.88,58.04Z" fill="#88224e"/>
<text x="476.30" y="59.20" font-size="7.4" text-anchor="start" font-weight="normal" fill="#222" stroke="#222" stroke-width="0.12" >ARAF only</text>
<line x1="460.4" y1="69.8" x2="470.7" y2="69.8" stroke="#25a07c" stroke-width="1"/>
<rect x="464.20" y="68.20" width="3.2" height="3.2" fill="#25a07c"/>
<text x="476.30" y="72.40" font-size="7.4" text-anchor="start" font-weight="normal" fill="#222" stroke="#222" stroke-width="0.12" >BRAF only</text>
<line x1="460.4" y1="83.0" x2="470.7" y2="83.0" stroke="#5690cc" stroke-width="1"/>
<path d="M465.80,84.92L467.72,81.56L463.88,81.56Z" fill="#5690cc"/>
<text x="476.30" y="85.60" font-size="7.4" text-anchor="start" font-weight="normal" fill="#222" stroke="#222" stroke-width="0.12" >CRAF only</text>
<line x1="464.4" y1="145.6" x2="473.8" y2="145.6" stroke="#222" stroke-width="0.9" stroke-dasharray="2,1.5"/>
<text x="478.80" y="148.20" font-size="6.7" text-anchor="start" font-weight="normal" fill="#222" stroke="#222" stroke-width="0.12" >LXH254</text>
<line x1="464.4" y1="157.2" x2="473.8" y2="157.2" stroke="#222" stroke-width="1.1"/>
<text x="478.80" y="159.50" font-size="7.0" text-anchor="start" font-weight="normal" fill="#222" stroke="#222" stroke-width="0.12" >Dabrafenib</text>
<text x="0" y="0" font-size="5.5" text-anchor="middle" fill="#1a1a1a" stroke="#1a1a1a" stroke-width="0.08" transform="translate(291.30,195.30) rotate(-90)" dominant-baseline="central">% control pERK1/2</text>
<line x1="306.3" y1="233.70000000000002" x2="306.3" y2="159.5" stroke="#333333" stroke-width="0.95"/>
<line x1="304.7" y1="233.30" x2="306.3" y2="233.30" stroke="#333333" stroke-width="0.95"/>
<text x="304.10" y="235.03" font-size="4.8" text-anchor="end" font-weight="bold" fill="#2a2a2a" stroke="#2a2a2a" stroke-width="0.18">0</text>
<line x1="304.7" y1="208.70" x2="306.3" y2="208.70" stroke="#333333" stroke-width="0.95"/>
<text x="304.10" y="210.43" font-size="4.8" text-anchor="end" font-weight="bold" fill="#2a2a2a" stroke="#2a2a2a" stroke-width="0.18">200</text>
<line x1="304.7" y1="184.10" x2="306.3" y2="184.10" stroke="#333333" stroke-width="0.95"/>
<text x="304.10" y="185.83" font-size="4.8" text-anchor="end" font-weight="bold" fill="#2a2a2a" stroke="#2a2a2a" stroke-width="0.18">400</text>
<line x1="304.7" y1="159.50" x2="306.3" y2="159.50" stroke="#333333" stroke-width="0.95"/>
<text x="304.10" y="161.23" font-size="4.8" text-anchor="end" font-weight="bold" fill="#2a2a2a" stroke="#2a2a2a" stroke-width="0.18">600</text>
<line x1="305.90000000000003" y1="233.3" x2="396" y2="233.3" stroke="#333333" stroke-width="0.95"/>
<line x1="314.00" y1="233.3" x2="314.00" y2="234.60000000000002" stroke="#333333" stroke-width="0.95"/>
<text x="0" y="0" font-size="5.0" font-weight="bold" text-anchor="end" fill="#2a2a2a" stroke="#2a2a2a" stroke-width="0.1" transform="translate(315.90,239.30) rotate(-45)">0.0</text>
<line x1="325.33" y1="233.3" x2="325.33" y2="234.60000000000002" stroke="#333333" stroke-width="0.95"/>
<text x="0" y="0" font-size="5.0" font-weight="bold" text-anchor="end" fill="#2a2a2a" stroke="#2a2a2a" stroke-width="0.1" transform="translate(327.23,239.30) rotate(-45)">13.7</text>
<line x1="336.66" y1="233.3" x2="336.66" y2="234.60000000000002" stroke="#333333" stroke-width="0.95"/>
<text x="0" y="0" font-size="5.0" font-weight="bold" text-anchor="end" fill="#2a2a2a" stroke="#2a2a2a" stroke-width="0.1" transform="translate(338.56,239.30) rotate(-45)">41.2</text>
<line x1="347.99" y1="233.3" x2="347.99" y2="234.60000000000002" stroke="#333333" stroke-width="0.95"/>
<text x="0" y="0" font-size="5.0" font-weight="bold" text-anchor="end" fill="#2a2a2a" stroke="#2a2a2a" stroke-width="0.1" transform="translate(349.89,239.30) rotate(-45)">123.5</text>
<line x1="359.32" y1="233.3" x2="359.32" y2="234.60000000000002" stroke="#333333" stroke-width="0.95"/>
<text x="0" y="0" font-size="5.0" font-weight="bold" text-anchor="end" fill="#2a2a2a" stroke="#2a2a2a" stroke-width="0.1" transform="translate(361.22,239.30) rotate(-45)">370.4</text>
<line x1="370.65" y1="233.3" x2="370.65" y2="234.60000000000002" stroke="#333333" stroke-width="0.95"/>
<text x="0" y="0" font-size="5.0" font-weight="bold" text-anchor="end" fill="#2a2a2a" stroke="#2a2a2a" stroke-width="0.1" transform="translate(372.55,239.30) rotate(-45)">1,111.1</text>
<line x1="381.98" y1="233.3" x2="381.98" y2="234.60000000000002" stroke="#333333" stroke-width="0.95"/>
<text x="0" y="0" font-size="5.0" font-weight="bold" text-anchor="end" fill="#2a2a2a" stroke="#2a2a2a" stroke-width="0.1" transform="translate(383.88,239.30) rotate(-45)">3,333.3</text>
<line x1="393.31" y1="233.3" x2="393.31" y2="234.60000000000002" stroke="#333333" stroke-width="0.95"/>
<text x="0" y="0" font-size="5.0" font-weight="bold" text-anchor="end" fill="#2a2a2a" stroke="#2a2a2a" stroke-width="0.1" transform="translate(395.21,239.30) rotate(-45)">10,000.0</text>
<text x="358.20" y="259.50" font-size="5.2" text-anchor="middle" font-weight="normal" fill="#1a1a1a" stroke="#1a1a1a" stroke-width="0.12" >Compound (nmol/L)</text>
<line x1="307" y1="221.00" x2="396" y2="221.00" stroke="#8a8a8a" stroke-width="0.75" stroke-dasharray="1,0.9"/>
<polyline points="314.00,219.89 325.33,216.82 336.66,219.16 347.99,222.48 359.32,226.41 370.65,228.26 381.98,230.23 393.31,232.81" fill="none" stroke="#2828aa" stroke-width="1.0" stroke-linejoin="round" stroke-dasharray="2.2,1.6"/>
<circle cx="314.00" cy="219.89" r="1.3" fill="#2828aa"/>
<circle cx="325.33" cy="216.82" r="1.3" fill="#2828aa"/>
<circle cx="336.66" cy="219.16" r="1.3" fill="#2828aa"/>
<circle cx="347.99" cy="222.48" r="1.3" fill="#2828aa"/>
<circle cx="359.32" cy="226.41" r="1.3" fill="#2828aa"/>
<circle cx="370.65" cy="228.26" r="1.3" fill="#2828aa"/>
<circle cx="381.98" cy="230.23" r="1.3" fill="#2828aa"/>
<circle cx="393.31" cy="232.81" r="1.3" fill="#2828aa"/>
<polyline points="314.00,221.25 325.33,221.25 336.66,219.16 347.99,209.56 359.32,194.19 370.65,182.62 381.98,183.12 393.31,216.08" fill="none" stroke="#2828aa" stroke-width="1.0" stroke-linejoin="round"/>
<line x1="314.00" y1="222.48" x2="314.00" y2="220.02" stroke="#2828aa" stroke-width="0.6"/>
<line x1="312.90" y1="222.48" x2="315.10" y2="222.48" stroke="#2828aa" stroke-width="0.6"/>
<line x1="312.90" y1="220.02" x2="315.10" y2="220.02" stroke="#2828aa" stroke-width="0.6"/>
<circle cx="314.00" cy="221.25" r="1.3" fill="#2828aa"/>
<line x1="325.33" y1="222.48" x2="325.33" y2="220.02" stroke="#2828aa" stroke-width="0.6"/>
<line x1="324.23" y1="222.48" x2="326.43" y2="222.48" stroke="#2828aa" stroke-width="0.6"/>
<line x1="324.23" y1="220.02" x2="326.43" y2="220.02" stroke="#2828aa" stroke-width="0.6"/>
<circle cx="325.33" cy="221.25" r="1.3" fill="#2828aa"/>
<line x1="336.66" y1="219.77" x2="336.66" y2="218.54" stroke="#2828aa" stroke-width="0.6"/>
<line x1="335.56" y1="219.77" x2="337.76" y2="219.77" stroke="#2828aa" stroke-width="0.6"/>
<line x1="335.56" y1="218.54" x2="337.76" y2="218.54" stroke="#2828aa" stroke-width="0.6"/>
<circle cx="336.66" cy="219.16" r="1.3" fill="#2828aa"/>
<line x1="347.99" y1="210.79" x2="347.99" y2="208.33" stroke="#2828aa" stroke-width="0.6"/>
<line x1="346.89" y1="210.79" x2="349.09" y2="210.79" stroke="#2828aa" stroke-width="0.6"/>
<line x1="346.89" y1="208.33" x2="349.09" y2="208.33" stroke="#2828aa" stroke-width="0.6"/>
<circle cx="347.99" cy="209.56" r="1.3" fill="#2828aa"/>
<line x1="359.32" y1="195.42" x2="359.32" y2="192.96" stroke="#2828aa" stroke-width="0.6"/>
<line x1="358.22" y1="195.42" x2="360.42" y2="195.42" stroke="#2828aa" stroke-width="0.6"/>
<line x1="358.22" y1="192.96" x2="360.42" y2="192.96" stroke="#2828aa" stroke-width="0.6"/>
<circle cx="359.32" cy="194.19" r="1.3" fill="#2828aa"/>
<line x1="370.65" y1="190.25" x2="370.65" y2="175.00" stroke="#2828aa" stroke-width="0.6"/>
<line x1="369.55" y1="190.25" x2="371.75" y2="190.25" stroke="#2828aa" stroke-width="0.6"/>
<line x1="369.55" y1="175.00" x2="371.75" y2="175.00" stroke="#2828aa" stroke-width="0.6"/>
<circle cx="370.65" cy="182.62" r="1.3" fill="#2828aa"/>
<line x1="381.98" y1="183.73" x2="381.98" y2="182.50" stroke="#2828aa" stroke-width="0.6"/>
<line x1="380.88" y1="183.73" x2="383.08" y2="183.73" stroke="#2828aa" stroke-width="0.6"/>
<line x1="380.88" y1="182.50" x2="383.08" y2="182.50" stroke="#2828aa" stroke-width="0.6"/>
<circle cx="381.98" cy="183.12" r="1.3" fill="#2828aa"/>
<line x1="393.31" y1="217.31" x2="393.31" y2="214.85" stroke="#2828aa" stroke-width="0.6"/>
<line x1="392.21" y1="217.31" x2="394.41" y2="217.31" stroke="#2828aa" stroke-width="0.6"/>
<line x1="392.21" y1="214.85" x2="394.41" y2="214.85" stroke="#2828aa" stroke-width="0.6"/>
<circle cx="393.31" cy="216.08" r="1.3" fill="#2828aa"/>
<text x="0" y="0" font-size="5.5" text-anchor="middle" fill="#1a1a1a" stroke="#1a1a1a" stroke-width="0.08" transform="translate(404.50,195.00) rotate(-90)" dominant-baseline="central">% control pERK1/2</text>
<line x1="419.2" y1="232.6" x2="419.2" y2="158.1" stroke="#333333" stroke-width="0.95"/>
<line x1="417.59999999999997" y1="232.20" x2="419.2" y2="232.20" stroke="#333333" stroke-width="0.95"/>
<text x="417.00" y="233.93" font-size="4.8" text-anchor="end" font-weight="bold" fill="#2a2a2a" stroke="#2a2a2a" stroke-width="0.18">0</text>
<line x1="417.59999999999997" y1="213.67" x2="419.2" y2="213.67" stroke="#333333" stroke-width="0.95"/>
<text x="417.00" y="215.40" font-size="4.8" text-anchor="end" font-weight="bold" fill="#2a2a2a" stroke="#2a2a2a" stroke-width="0.18">50</text>
<line x1="417.59999999999997" y1="195.15" x2="419.2" y2="195.15" stroke="#333333" stroke-width="0.95"/>
<text x="417.00" y="196.88" font-size="4.8" text-anchor="end" font-weight="bold" fill="#2a2a2a" stroke="#2a2a2a" stroke-width="0.18">100</text>
<line x1="417.59999999999997" y1="176.62" x2="419.2" y2="176.62" stroke="#333333" stroke-width="0.95"/>
<text x="417.00" y="178.35" font-size="4.8" text-anchor="end" font-weight="bold" fill="#2a2a2a" stroke="#2a2a2a" stroke-width="0.18">150</text>
<line x1="417.59999999999997" y1="158.10" x2="419.2" y2="158.10" stroke="#333333" stroke-width="0.95"/>
<text x="417.00" y="159.83" font-size="4.8" text-anchor="end" font-weight="bold" fill="#2a2a2a" stroke="#2a2a2a" stroke-width="0.18">200</text>
<line x1="418.8" y1="232.2" x2="513" y2="232.2" stroke="#333333" stroke-width="0.95"/>
<line x1="426.30" y1="232.2" x2="426.30" y2="233.5" stroke="#333333" stroke-width="0.95"/>
<text x="0" y="0" font-size="5.0" font-weight="bold" text-anchor="end" fill="#2a2a2a" stroke="#2a2a2a" stroke-width="0.1" transform="translate(428.20,238.20) rotate(-45)">0.0</text>
<line x1="437.56" y1="232.2" x2="437.56" y2="233.5" stroke="#333333" stroke-width="0.95"/>
<text x="0" y="0" font-size="5.0" font-weight="bold" text-anchor="end" fill="#2a2a2a" stroke="#2a2a2a" stroke-width="0.1" transform="translate(439.46,238.20) rotate(-45)">13.7</text>
<line x1="448.82" y1="232.2" x2="448.82" y2="233.5" stroke="#333333" stroke-width="0.95"/>
<text x="0" y="0" font-size="5.0" font-weight="bold" text-anchor="end" fill="#2a2a2a" stroke="#2a2a2a" stroke-width="0.1" transform="translate(450.72,238.20) rotate(-45)">41.2</text>
<line x1="460.08" y1="232.2" x2="460.08" y2="233.5" stroke="#333333" stroke-width="0.95"/>
<text x="0" y="0" font-size="5.0" font-weight="bold" text-anchor="end" fill="#2a2a2a" stroke="#2a2a2a" stroke-width="0.1" transform="translate(461.98,238.20) rotate(-45)">123.5</text>
<line x1="471.34" y1="232.2" x2="471.34" y2="233.5" stroke="#333333" stroke-width="0.95"/>
<text x="0" y="0" font-size="5.0" font-weight="bold" text-anchor="end" fill="#2a2a2a" stroke="#2a2a2a" stroke-width="0.1" transform="translate(473.24,238.20) rotate(-45)">370.4</text>
<line x1="482.60" y1="232.2" x2="482.60" y2="233.5" stroke="#333333" stroke-width="0.95"/>
<text x="0" y="0" font-size="5.0" font-weight="bold" text-anchor="end" fill="#2a2a2a" stroke="#2a2a2a" stroke-width="0.1" transform="translate(484.50,238.20) rotate(-45)">1,111.1</text>
<line x1="493.86" y1="232.2" x2="493.86" y2="233.5" stroke="#333333" stroke-width="0.95"/>
<text x="0" y="0" font-size="5.0" font-weight="bold" text-anchor="end" fill="#2a2a2a" stroke="#2a2a2a" stroke-width="0.1" transform="translate(495.76,238.20) rotate(-45)">3,333.3</text>
<line x1="505.12" y1="232.2" x2="505.12" y2="233.5" stroke="#333333" stroke-width="0.95"/>
<text x="0" y="0" font-size="5.0" font-weight="bold" text-anchor="end" fill="#2a2a2a" stroke="#2a2a2a" stroke-width="0.1" transform="translate(507.02,238.20) rotate(-45)">10,000.0</text>
<text x="471.00" y="259.50" font-size="5.2" text-anchor="middle" font-weight="normal" fill="#1a1a1a" stroke="#1a1a1a" stroke-width="0.12" >Compound (nmol/L)</text>
<line x1="420" y1="195.15" x2="512" y2="195.15" stroke="#8a8a8a" stroke-width="0.75" stroke-dasharray="1,0.9"/>
<polyline points="426.30,195.15 437.56,196.63 448.82,207.52 460.08,218.12 471.34,224.20 482.60,227.01 493.86,228.87 505.12,229.24" fill="none" stroke="#25a07c" stroke-width="1.0" stroke-linejoin="round" stroke-dasharray="2.2,1.6"/>
<rect x="425.00" y="193.85" width="2.6" height="2.6" fill="#25a07c"/>
<rect x="436.26" y="195.33" width="2.6" height="2.6" fill="#25a07c"/>
<rect x="447.52" y="206.22" width="2.6" height="2.6" fill="#25a07c"/>
<rect x="458.78" y="216.82" width="2.6" height="2.6" fill="#25a07c"/>
<rect x="470.04" y="222.90" width="2.6" height="2.6" fill="#25a07c"/>
<rect x="481.30" y="225.71" width="2.6" height="2.6" fill="#25a07c"/>
<rect x="492.56" y="227.57" width="2.6" height="2.6" fill="#25a07c"/>
<rect x="503.82" y="227.94" width="2.6" height="2.6" fill="#25a07c"/>
<polyline points="426.30,195.15 437.56,193.67 448.82,190.33 460.08,188.11 471.34,182.55 482.60,191.07 493.86,215.90 505.12,225.90" fill="none" stroke="#25a07c" stroke-width="1.0" stroke-linejoin="round"/>
<line x1="426.30" y1="197.00" x2="426.30" y2="193.30" stroke="#25a07c" stroke-width="0.6"/>
<line x1="425.20" y1="197.00" x2="427.40" y2="197.00" stroke="#25a07c" stroke-width="0.6"/>
<line x1="425.20" y1="193.30" x2="427.40" y2="193.30" stroke="#25a07c" stroke-width="0.6"/>
<rect x="425.00" y="193.85" width="2.6" height="2.6" fill="#25a07c"/>
<line x1="437.56" y1="197.37" x2="437.56" y2="189.96" stroke="#25a07c" stroke-width="0.6"/>
<line x1="436.46" y1="197.37" x2="438.66" y2="197.37" stroke="#25a07c" stroke-width="0.6"/>
<line x1="436.46" y1="189.96" x2="438.66" y2="189.96" stroke="#25a07c" stroke-width="0.6"/>
<rect x="436.26" y="192.37" width="2.6" height="2.6" fill="#25a07c"/>
<line x1="448.82" y1="191.07" x2="448.82" y2="189.59" stroke="#25a07c" stroke-width="0.6"/>
<line x1="447.72" y1="191.07" x2="449.92" y2="191.07" stroke="#25a07c" stroke-width="0.6"/>
<line x1="447.72" y1="189.59" x2="449.92" y2="189.59" stroke="#25a07c" stroke-width="0.6"/>
<rect x="447.52" y="189.03" width="2.6" height="2.6" fill="#25a07c"/>
<line x1="460.08" y1="193.67" x2="460.08" y2="182.55" stroke="#25a07c" stroke-width="0.6"/>
<line x1="458.98" y1="193.67" x2="461.18" y2="193.67" stroke="#25a07c" stroke-width="0.6"/>
<line x1="458.98" y1="182.55" x2="461.18" y2="182.55" stroke="#25a07c" stroke-width="0.6"/>
<rect x="458.78" y="186.81" width="2.6" height="2.6" fill="#25a07c"/>
<line x1="471.34" y1="187.00" x2="471.34" y2="178.11" stroke="#25a07c" stroke-width="0.6"/>
<line x1="470.24" y1="187.00" x2="472.44" y2="187.00" stroke="#25a07c" stroke-width="0.6"/>
<line x1="470.24" y1="178.11" x2="472.44" y2="178.11" stroke="#25a07c" stroke-width="0.6"/>
<rect x="470.04" y="181.25" width="2.6" height="2.6" fill="#25a07c"/>
<line x1="482.60" y1="194.04" x2="482.60" y2="188.11" stroke="#25a07c" stroke-width="0.6"/>
<line x1="481.50" y1="194.04" x2="483.70" y2="194.04" stroke="#25a07c" stroke-width="0.6"/>
<line x1="481.50" y1="188.11" x2="483.70" y2="188.11" stroke="#25a07c" stroke-width="0.6"/>
<rect x="481.30" y="189.77" width="2.6" height="2.6" fill="#25a07c"/>
<line x1="493.86" y1="216.64" x2="493.86" y2="215.16" stroke="#25a07c" stroke-width="0.6"/>
<line x1="492.76" y1="216.64" x2="494.96" y2="216.64" stroke="#25a07c" stroke-width="0.6"/>
<line x1="492.76" y1="215.16" x2="494.96" y2="215.16" stroke="#25a07c" stroke-width="0.6"/>
<rect x="492.56" y="214.60" width="2.6" height="2.6" fill="#25a07c"/>
<line x1="505.12" y1="227.38" x2="505.12" y2="224.42" stroke="#25a07c" stroke-width="0.6"/>
<line x1="504.02" y1="227.38" x2="506.22" y2="227.38" stroke="#25a07c" stroke-width="0.6"/>
<line x1="504.02" y1="224.42" x2="506.22" y2="224.42" stroke="#25a07c" stroke-width="0.6"/>
<rect x="503.82" y="224.60" width="2.6" height="2.6" fill="#25a07c"/>
<text x="0" y="0" font-size="5.5" text-anchor="middle" fill="#1a1a1a" stroke="#1a1a1a" stroke-width="0.08" transform="translate(291.30,302.80) rotate(-90)" dominant-baseline="central">% control pERK1/2</text>
<line x1="306.3" y1="341.0" x2="306.3" y2="266.8" stroke="#333333" stroke-width="0.95"/>
<line x1="304.7" y1="340.60" x2="306.3" y2="340.60" stroke="#333333" stroke-width="0.95"/>
<text x="304.10" y="342.33" font-size="4.8" text-anchor="end" font-weight="bold" fill="#2a2a2a" stroke="#2a2a2a" stroke-width="0.18">0</text>
<line x1="304.7" y1="322.15" x2="306.3" y2="322.15" stroke="#333333" stroke-width="0.95"/>
<text x="304.10" y="323.88" font-size="4.8" text-anchor="end" font-weight="bold" fill="#2a2a2a" stroke="#2a2a2a" stroke-width="0.18">50</text>
<line x1="304.7" y1="303.70" x2="306.3" y2="303.70" stroke="#333333" stroke-width="0.95"/>
<text x="304.10" y="305.43" font-size="4.8" text-anchor="end" font-weight="bold" fill="#2a2a2a" stroke="#2a2a2a" stroke-width="0.18">100</text>
<line x1="304.7" y1="285.25" x2="306.3" y2="285.25" stroke="#333333" stroke-width="0.95"/>
<text x="304.10" y="286.98" font-size="4.8" text-anchor="end" font-weight="bold" fill="#2a2a2a" stroke="#2a2a2a" stroke-width="0.18">150</text>
<line x1="304.7" y1="266.80" x2="306.3" y2="266.80" stroke="#333333" stroke-width="0.95"/>
<text x="304.10" y="268.53" font-size="4.8" text-anchor="end" font-weight="bold" fill="#2a2a2a" stroke="#2a2a2a" stroke-width="0.18">200</text>
<line x1="305.90000000000003" y1="340.6" x2="396" y2="340.6" stroke="#333333" stroke-width="0.95"/>
<line x1="313.80" y1="340.6" x2="313.80" y2="341.90000000000003" stroke="#333333" stroke-width="0.95"/>
<text x="0" y="0" font-size="5.0" font-weight="bold" text-anchor="end" fill="#2a2a2a" stroke="#2a2a2a" stroke-width="0.1" transform="translate(315.70,346.60) rotate(-45)">0.0</text>
<line x1="325.19" y1="340.6" x2="325.19" y2="341.90000000000003" stroke="#333333" stroke-width="0.95"/>
<text x="0" y="0" font-size="5.0" font-weight="bold" text-anchor="end" fill="#2a2a2a" stroke="#2a2a2a" stroke-width="0.1" transform="translate(327.09,346.60) rotate(-45)">13.7</text>
<line x1="336.58" y1="340.6" x2="336.58" y2="341.90000000000003" stroke="#333333" stroke-width="0.95"/>
<text x="0" y="0" font-size="5.0" font-weight="bold" text-anchor="end" fill="#2a2a2a" stroke="#2a2a2a" stroke-width="0.1" transform="translate(338.48,346.60) rotate(-45)">41.2</text>
<line x1="347.97" y1="340.6" x2="347.97" y2="341.90000000000003" stroke="#333333" stroke-width="0.95"/>
<text x="0" y="0" font-size="5.0" font-weight="bold" text-anchor="end" fill="#2a2a2a" stroke="#2a2a2a" stroke-width="0.1" transform="translate(349.87,346.60) rotate(-45)">123.5</text>
<line x1="359.36" y1="340.6" x2="359.36" y2="341.90000000000003" stroke="#333333" stroke-width="0.95"/>
<text x="0" y="0" font-size="5.0" font-weight="bold" text-anchor="end" fill="#2a2a2a" stroke="#2a2a2a" stroke-width="0.1" transform="translate(361.26,346.60) rotate(-45)">370.4</text>
<line x1="370.75" y1="340.6" x2="370.75" y2="341.90000000000003" stroke="#333333" stroke-width="0.95"/>
<text x="0" y="0" font-size="5.0" font-weight="bold" text-anchor="end" fill="#2a2a2a" stroke="#2a2a2a" stroke-width="0.1" transform="translate(372.65,346.60) rotate(-45)">1,111.1</text>
<line x1="382.14" y1="340.6" x2="382.14" y2="341.90000000000003" stroke="#333333" stroke-width="0.95"/>
<text x="0" y="0" font-size="5.0" font-weight="bold" text-anchor="end" fill="#2a2a2a" stroke="#2a2a2a" stroke-width="0.1" transform="translate(384.04,346.60) rotate(-45)">3,333.3</text>
<line x1="393.53" y1="340.6" x2="393.53" y2="341.90000000000003" stroke="#333333" stroke-width="0.95"/>
<text x="0" y="0" font-size="5.0" font-weight="bold" text-anchor="end" fill="#2a2a2a" stroke="#2a2a2a" stroke-width="0.1" transform="translate(395.43,346.60) rotate(-45)">10,000.0</text>
<text x="358.00" y="367.50" font-size="5.2" text-anchor="middle" font-weight="normal" fill="#1a1a1a" stroke="#1a1a1a" stroke-width="0.12" >Compound (nmol/L)</text>
<line x1="307" y1="303.70" x2="396" y2="303.70" stroke="#8a8a8a" stroke-width="0.75" stroke-dasharray="1,0.9"/>
<polyline points="313.80,303.70 325.19,297.80 336.58,296.69 347.97,289.31 359.36,292.26 370.75,296.69 382.14,317.72 393.53,331.38" fill="none" stroke="#88224e" stroke-width="1.0" stroke-linejoin="round" stroke-dasharray="2.2,1.6"/>
<path d="M313.80,302.14L315.36,304.87L312.24,304.87Z" fill="#88224e"/>
<line x1="325.19" y1="303.33" x2="325.19" y2="292.26" stroke="#88224e" stroke-width="0.6"/>
<line x1="324.09" y1="303.33" x2="326.29" y2="303.33" stroke="#88224e" stroke-width="0.6"/>
<line x1="324.09" y1="292.26" x2="326.29" y2="292.26" stroke="#88224e" stroke-width="0.6"/>
<path d="M325.19,296.24L326.75,298.97L323.63,298.97Z" fill="#88224e"/>
<line x1="336.58" y1="302.22" x2="336.58" y2="291.15" stroke="#88224e" stroke-width="0.6"/>
<line x1="335.48" y1="302.22" x2="337.68" y2="302.22" stroke="#88224e" stroke-width="0.6"/>
<line x1="335.48" y1="291.15" x2="337.68" y2="291.15" stroke="#88224e" stroke-width="0.6"/>
<path d="M336.58,295.13L338.14,297.86L335.02,297.86Z" fill="#88224e"/>
<line x1="347.97" y1="292.26" x2="347.97" y2="286.36" stroke="#88224e" stroke-width="0.6"/>
<line x1="346.87" y1="292.26" x2="349.07" y2="292.26" stroke="#88224e" stroke-width="0.6"/>
<line x1="346.87" y1="286.36" x2="349.07" y2="286.36" stroke="#88224e" stroke-width="0.6"/>
<path d="M347.97,287.75L349.53,290.48L346.41,290.48Z" fill="#88224e"/>
<line x1="359.36" y1="295.95" x2="359.36" y2="288.57" stroke="#88224e" stroke-width="0.6"/>
<line x1="358.26" y1="295.95" x2="360.46" y2="295.95" stroke="#88224e" stroke-width="0.6"/>
<line x1="358.26" y1="288.57" x2="360.46" y2="288.57" stroke="#88224e" stroke-width="0.6"/>
<path d="M359.36,290.70L360.92,293.43L357.80,293.43Z" fill="#88224e"/>
<line x1="370.75" y1="300.38" x2="370.75" y2="293.00" stroke="#88224e" stroke-width="0.6"/>
<line x1="369.65" y1="300.38" x2="371.85" y2="300.38" stroke="#88224e" stroke-width="0.6"/>
<line x1="369.65" y1="293.00" x2="371.85" y2="293.00" stroke="#88224e" stroke-width="0.6"/>
<path d="M370.75,295.13L372.31,297.86L369.19,297.86Z" fill="#88224e"/>
<line x1="382.14" y1="319.57" x2="382.14" y2="315.88" stroke="#88224e" stroke-width="0.6"/>
<line x1="381.04" y1="319.57" x2="383.24" y2="319.57" stroke="#88224e" stroke-width="0.6"/>
<line x1="381.04" y1="315.88" x2="383.24" y2="315.88" stroke="#88224e" stroke-width="0.6"/>
<path d="M382.14,316.16L383.70,318.89L380.58,318.89Z" fill="#88224e"/>
<line x1="393.53" y1="332.48" x2="393.53" y2="330.27" stroke="#88224e" stroke-width="0.6"/>
<line x1="392.43" y1="332.48" x2="394.63" y2="332.48" stroke="#88224e" stroke-width="0.6"/>
<line x1="392.43" y1="330.27" x2="394.63" y2="330.27" stroke="#88224e" stroke-width="0.6"/>
<path d="M393.53,329.81L395.09,332.55L391.97,332.55Z" fill="#88224e"/>
<polyline points="313.80,303.70 325.19,308.87 336.58,308.87 347.97,306.65 359.36,289.31 370.75,276.58 382.14,292.63 393.53,331.38" fill="none" stroke="#88224e" stroke-width="1.0" stroke-linejoin="round"/>
<line x1="313.80" y1="305.55" x2="313.80" y2="301.86" stroke="#88224e" stroke-width="0.6"/>
<line x1="312.70" y1="305.55" x2="314.90" y2="305.55" stroke="#88224e" stroke-width="0.6"/>
<line x1="312.70" y1="301.86" x2="314.90" y2="301.86" stroke="#88224e" stroke-width="0.6"/>
<path d="M313.80,302.14L315.36,304.87L312.24,304.87Z" fill="#88224e"/>
<line x1="325.19" y1="311.45" x2="325.19" y2="306.28" stroke="#88224e" stroke-width="0.6"/>
<line x1="324.09" y1="311.45" x2="326.29" y2="311.45" stroke="#88224e" stroke-width="0.6"/>
<line x1="324.09" y1="306.28" x2="326.29" y2="306.28" stroke="#88224e" stroke-width="0.6"/>
<path d="M325.19,307.31L326.75,310.04L323.63,310.04Z" fill="#88224e"/>
<line x1="336.58" y1="309.60" x2="336.58" y2="308.13" stroke="#88224e" stroke-width="0.6"/>
<line x1="335.48" y1="309.60" x2="337.68" y2="309.60" stroke="#88224e" stroke-width="0.6"/>
<line x1="335.48" y1="308.13" x2="337.68" y2="308.13" stroke="#88224e" stroke-width="0.6"/>
<path d="M336.58,307.31L338.14,310.04L335.02,310.04Z" fill="#88224e"/>
<line x1="347.97" y1="309.24" x2="347.97" y2="304.07" stroke="#88224e" stroke-width="0.6"/>
<line x1="346.87" y1="309.24" x2="349.07" y2="309.24" stroke="#88224e" stroke-width="0.6"/>
<line x1="346.87" y1="304.07" x2="349.07" y2="304.07" stroke="#88224e" stroke-width="0.6"/>
<path d="M347.97,305.09L349.53,307.82L346.41,307.82Z" fill="#88224e"/>
<line x1="359.36" y1="293.00" x2="359.36" y2="285.62" stroke="#88224e" stroke-width="0.6"/>
<line x1="358.26" y1="293.00" x2="360.46" y2="293.00" stroke="#88224e" stroke-width="0.6"/>
<line x1="358.26" y1="285.62" x2="360.46" y2="285.62" stroke="#88224e" stroke-width="0.6"/>
<path d="M359.36,287.75L360.92,290.48L357.80,290.48Z" fill="#88224e"/>
<line x1="370.75" y1="277.32" x2="370.75" y2="275.84" stroke="#88224e" stroke-width="0.6"/>
<line x1="369.65" y1="277.32" x2="371.85" y2="277.32" stroke="#88224e" stroke-width="0.6"/>
<line x1="369.65" y1="275.84" x2="371.85" y2="275.84" stroke="#88224e" stroke-width="0.6"/>
<path d="M370.75,275.02L372.31,277.75L369.19,277.75Z" fill="#88224e"/>
<line x1="382.14" y1="294.48" x2="382.14" y2="290.79" stroke="#88224e" stroke-width="0.6"/>
<line x1="381.04" y1="294.48" x2="383.24" y2="294.48" stroke="#88224e" stroke-width="0.6"/>
<line x1="381.04" y1="290.79" x2="383.24" y2="290.79" stroke="#88224e" stroke-width="0.6"/>
<path d="M382.14,291.07L383.70,293.80L380.58,293.80Z" fill="#88224e"/>
<line x1="393.53" y1="332.48" x2="393.53" y2="330.27" stroke="#88224e" stroke-width="0.6"/>
<line x1="392.43" y1="332.48" x2="394.63" y2="332.48" stroke="#88224e" stroke-width="0.6"/>
<line x1="392.43" y1="330.27" x2="394.63" y2="330.27" stroke="#88224e" stroke-width="0.6"/>
<path d="M393.53,329.81L395.09,332.55L391.97,332.55Z" fill="#88224e"/>
<text x="0" y="0" font-size="5.5" text-anchor="middle" fill="#1a1a1a" stroke="#1a1a1a" stroke-width="0.08" transform="translate(404.70,302.50) rotate(-90)" dominant-baseline="central">% control pERK1/2</text>
<line x1="419.3" y1="341.0" x2="419.3" y2="266.6" stroke="#333333" stroke-width="0.95"/>
<line x1="417.7" y1="340.60" x2="419.3" y2="340.60" stroke="#333333" stroke-width="0.95"/>
<text x="417.10" y="342.33" font-size="4.8" text-anchor="end" font-weight="bold" fill="#2a2a2a" stroke="#2a2a2a" stroke-width="0.18">0</text>
<line x1="417.7" y1="315.93" x2="419.3" y2="315.93" stroke="#333333" stroke-width="0.95"/>
<text x="417.10" y="317.66" font-size="4.8" text-anchor="end" font-weight="bold" fill="#2a2a2a" stroke="#2a2a2a" stroke-width="0.18">200</text>
<line x1="417.7" y1="291.27" x2="419.3" y2="291.27" stroke="#333333" stroke-width="0.95"/>
<text x="417.10" y="292.99" font-size="4.8" text-anchor="end" font-weight="bold" fill="#2a2a2a" stroke="#2a2a2a" stroke-width="0.18">400</text>
<line x1="417.7" y1="266.60" x2="419.3" y2="266.60" stroke="#333333" stroke-width="0.95"/>
<text x="417.10" y="268.33" font-size="4.8" text-anchor="end" font-weight="bold" fill="#2a2a2a" stroke="#2a2a2a" stroke-width="0.18">600</text>
<line x1="418.90000000000003" y1="340.6" x2="513" y2="340.6" stroke="#333333" stroke-width="0.95"/>
<line x1="426.90" y1="340.6" x2="426.90" y2="341.90000000000003" stroke="#333333" stroke-width="0.95"/>
<text x="0" y="0" font-size="5.0" font-weight="bold" text-anchor="end" fill="#2a2a2a" stroke="#2a2a2a" stroke-width="0.1" transform="translate(428.80,346.60) rotate(-45)">0.0</text>
<line x1="438.19" y1="340.6" x2="438.19" y2="341.90000000000003" stroke="#333333" stroke-width="0.95"/>
<text x="0" y="0" font-size="5.0" font-weight="bold" text-anchor="end" fill="#2a2a2a" stroke="#2a2a2a" stroke-width="0.1" transform="translate(440.09,346.60) rotate(-45)">13.7</text>
<line x1="449.48" y1="340.6" x2="449.48" y2="341.90000000000003" stroke="#333333" stroke-width="0.95"/>
<text x="0" y="0" font-size="5.0" font-weight="bold" text-anchor="end" fill="#2a2a2a" stroke="#2a2a2a" stroke-width="0.1" transform="translate(451.38,346.60) rotate(-45)">41.2</text>
<line x1="460.77" y1="340.6" x2="460.77" y2="341.90000000000003" stroke="#333333" stroke-width="0.95"/>
<text x="0" y="0" font-size="5.0" font-weight="bold" text-anchor="end" fill="#2a2a2a" stroke="#2a2a2a" stroke-width="0.1" transform="translate(462.67,346.60) rotate(-45)">123.5</text>
<line x1="472.06" y1="340.6" x2="472.06" y2="341.90000000000003" stroke="#333333" stroke-width="0.95"/>
<text x="0" y="0" font-size="5.0" font-weight="bold" text-anchor="end" fill="#2a2a2a" stroke="#2a2a2a" stroke-width="0.1" transform="translate(473.96,346.60) rotate(-45)">370.4</text>
<line x1="483.35" y1="340.6" x2="483.35" y2="341.90000000000003" stroke="#333333" stroke-width="0.95"/>
<text x="0" y="0" font-size="5.0" font-weight="bold" text-anchor="end" fill="#2a2a2a" stroke="#2a2a2a" stroke-width="0.1" transform="translate(485.25,346.60) rotate(-45)">1,111.1</text>
<line x1="494.64" y1="340.6" x2="494.64" y2="341.90000000000003" stroke="#333333" stroke-width="0.95"/>
<text x="0" y="0" font-size="5.0" font-weight="bold" text-anchor="end" fill="#2a2a2a" stroke="#2a2a2a" stroke-width="0.1" transform="translate(496.54,346.60) rotate(-45)">3,333.3</text>
<line x1="505.93" y1="340.6" x2="505.93" y2="341.90000000000003" stroke="#333333" stroke-width="0.95"/>
<text x="0" y="0" font-size="5.0" font-weight="bold" text-anchor="end" fill="#2a2a2a" stroke="#2a2a2a" stroke-width="0.1" transform="translate(507.83,346.60) rotate(-45)">10,000.0</text>
<text x="471.00" y="367.50" font-size="5.2" text-anchor="middle" font-weight="normal" fill="#1a1a1a" stroke="#1a1a1a" stroke-width="0.12" >Compound (nmol/L)</text>
<line x1="420" y1="328.27" x2="512" y2="328.27" stroke="#8a8a8a" stroke-width="0.75" stroke-dasharray="1,0.9"/>
<polyline points="426.90,328.27 438.19,325.55 449.48,331.23 460.77,336.90 472.06,340.60 483.35,340.60 494.64,340.60 505.93,340.60" fill="none" stroke="#5690cc" stroke-width="1.0" stroke-linejoin="round" stroke-dasharray="2.2,1.6"/>
<path d="M426.90,329.83L428.46,327.10L425.34,327.10Z" fill="#5690cc"/>
<path d="M438.19,327.11L439.75,324.38L436.63,324.38Z" fill="#5690cc"/>
<path d="M449.48,332.79L451.04,330.06L447.92,330.06Z" fill="#5690cc"/>
<path d="M460.77,338.46L462.33,335.73L459.21,335.73Z" fill="#5690cc"/>
<path d="M472.06,342.16L473.62,339.43L470.50,339.43Z" fill="#5690cc"/>
<path d="M483.35,342.16L484.91,339.43L481.79,339.43Z" fill="#5690cc"/>
<path d="M494.64,342.16L496.20,339.43L493.08,339.43Z" fill="#5690cc"/>
<path d="M505.93,342.16L507.49,339.43L504.37,339.43Z" fill="#5690cc"/>
<polyline points="426.90,328.51 438.19,324.20 449.48,316.67 460.77,306.56 472.06,287.57 483.35,283.00 494.64,295.83 505.93,325.55" fill="none" stroke="#5690cc" stroke-width="1.0" stroke-linejoin="round"/>
<line x1="426.90" y1="329.13" x2="426.90" y2="327.90" stroke="#5690cc" stroke-width="0.6"/>
<line x1="425.80" y1="329.13" x2="428.00" y2="329.13" stroke="#5690cc" stroke-width="0.6"/>
<line x1="425.80" y1="327.90" x2="428.00" y2="327.90" stroke="#5690cc" stroke-width="0.6"/>
<path d="M426.90,330.07L428.46,327.34L425.34,327.34Z" fill="#5690cc"/>
<line x1="438.19" y1="325.43" x2="438.19" y2="322.96" stroke="#5690cc" stroke-width="0.6"/>
<line x1="437.09" y1="325.43" x2="439.29" y2="325.43" stroke="#5690cc" stroke-width="0.6"/>
<line x1="437.09" y1="322.96" x2="439.29" y2="322.96" stroke="#5690cc" stroke-width="0.6"/>
<path d="M438.19,325.76L439.75,323.03L436.63,323.03Z" fill="#5690cc"/>
<line x1="449.48" y1="318.52" x2="449.48" y2="314.82" stroke="#5690cc" stroke-width="0.6"/>
<line x1="448.38" y1="318.52" x2="450.58" y2="318.52" stroke="#5690cc" stroke-width="0.6"/>
<line x1="448.38" y1="314.82" x2="450.58" y2="314.82" stroke="#5690cc" stroke-width="0.6"/>
<path d="M449.48,318.23L451.04,315.50L447.92,315.50Z" fill="#5690cc"/>
<line x1="460.77" y1="311.49" x2="460.77" y2="301.63" stroke="#5690cc" stroke-width="0.6"/>
<line x1="459.67" y1="311.49" x2="461.87" y2="311.49" stroke="#5690cc" stroke-width="0.6"/>
<line x1="459.67" y1="301.63" x2="461.87" y2="301.63" stroke="#5690cc" stroke-width="0.6"/>
<path d="M460.77,308.12L462.33,305.39L459.21,305.39Z" fill="#5690cc"/>
<line x1="472.06" y1="292.50" x2="472.06" y2="282.63" stroke="#5690cc" stroke-width="0.6"/>
<line x1="470.96" y1="292.50" x2="473.16" y2="292.50" stroke="#5690cc" stroke-width="0.6"/>
<line x1="470.96" y1="282.63" x2="473.16" y2="282.63" stroke="#5690cc" stroke-width="0.6"/>
<path d="M472.06,289.13L473.62,286.40L470.50,286.40Z" fill="#5690cc"/>
<line x1="483.35" y1="291.64" x2="483.35" y2="274.37" stroke="#5690cc" stroke-width="0.6"/>
<line x1="482.25" y1="291.64" x2="484.45" y2="291.64" stroke="#5690cc" stroke-width="0.6"/>
<line x1="482.25" y1="274.37" x2="484.45" y2="274.37" stroke="#5690cc" stroke-width="0.6"/>
<path d="M483.35,284.56L484.91,281.83L481.79,281.83Z" fill="#5690cc"/>
<line x1="494.64" y1="296.45" x2="494.64" y2="295.21" stroke="#5690cc" stroke-width="0.6"/>
<line x1="493.54" y1="296.45" x2="495.74" y2="296.45" stroke="#5690cc" stroke-width="0.6"/>
<line x1="493.54" y1="295.21" x2="495.74" y2="295.21" stroke="#5690cc" stroke-width="0.6"/>
<path d="M494.64,297.39L496.20,294.66L493.08,294.66Z" fill="#5690cc"/>
<line x1="505.93" y1="326.79" x2="505.93" y2="324.32" stroke="#5690cc" stroke-width="0.6"/>
<line x1="504.83" y1="326.79" x2="507.03" y2="326.79" stroke="#5690cc" stroke-width="0.6"/>
<line x1="504.83" y1="324.32" x2="507.03" y2="324.32" stroke="#5690cc" stroke-width="0.6"/>
<path d="M505.93,327.11L507.49,324.38L504.37,324.38Z" fill="#5690cc"/>
</svg></body></html>
